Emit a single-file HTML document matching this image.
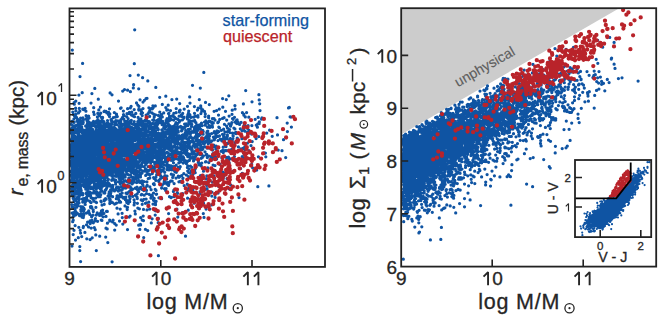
<!DOCTYPE html>
<html><head><meta charset="utf-8"><style>
html,body{margin:0;padding:0;background:#fff;width:665px;height:323px;overflow:hidden}
svg{position:absolute;left:0;top:0}
text{font-family:'Liberation Sans',sans-serif;fill:#262626;stroke:#262626;stroke-width:0.3px}
</style></head><body>
<svg width="665" height="323" viewBox="0 0 665 323">
<!-- right panel gray unphysical -->
<polygon points="401.2,8.2 401.2,134.4 619.2,8.2" fill="#cccccc"/>
<text x="0" y="0" transform="translate(458.1,87.2) rotate(-29.7)" style="font-size:14.1px;fill:#5e5e5e;stroke:#5e5e5e;stroke-width:0.15px">unphysical</text>
<!-- points -->
<g fill="none" stroke-linecap="round">
<path stroke="#0f54a3" stroke-width="3.25" d="M127.6 155.1h0M150.4 159.5h0M154.5 134.2h0M117.2 136.0h0M132.9 146.7h0M94.0 186.0h0M110.4 173.6h0M156.4 143.8h0M118.9 136.7h0M102.6 133.2h0M92.9 215.2h0M135.2 174.1h0M135.6 154.2h0M160.3 134.8h0M141.6 151.1h0M182.1 145.9h0M107.9 137.3h0M134.7 29.8h0M140.8 140.8h0M136.1 160.0h0M123.7 139.9h0M115.5 190.1h0M114.1 139.6h0M132.9 161.3h0M90.2 153.5h0M115.2 168.9h0M72.0 157.4h0M123.2 150.4h0M84.4 166.2h0M173.9 131.5h0M121.6 150.3h0M141.7 139.6h0M76.5 149.6h0M112.4 174.4h0M158.1 160.7h0M250.2 131.5h0M158.3 129.6h0M81.3 176.8h0M143.7 133.3h0M83.7 150.1h0M93.2 173.0h0M112.6 221.9h0M178.3 176.1h0M135.5 170.1h0M198.1 108.1h0M98.9 154.6h0M150.2 156.6h0M75.1 168.5h0M114.9 161.6h0M111.9 157.2h0M156.6 194.0h0M80.7 139.8h0M121.6 144.8h0M80.9 144.3h0M124.5 124.2h0M77.5 153.4h0M78.8 129.6h0M180.6 147.6h0M113.3 144.9h0M126.0 132.5h0M97.4 150.0h0M108.1 123.1h0M143.0 108.6h0M124.1 154.8h0M154.8 148.2h0M72.2 170.2h0M87.8 136.5h0M94.2 187.4h0M89.5 140.6h0M108.3 132.1h0M101.4 141.0h0M178.0 153.4h0M78.3 149.7h0M112.8 142.4h0M98.2 181.8h0M153.7 146.1h0M111.4 201.9h0M123.6 128.5h0M154.1 166.8h0M163.4 144.7h0M78.4 201.7h0M123.9 161.4h0M144.2 195.2h0M102.6 210.1h0M101.7 174.4h0M86.5 198.2h0M82.7 155.0h0M112.7 185.3h0M114.2 131.6h0M160.1 117.2h0M81.6 171.0h0M100.6 153.6h0M113.9 156.0h0M81.8 158.1h0M162.3 116.9h0M243.9 115.2h0M126.0 146.1h0M98.0 119.6h0M87.1 144.5h0M86.4 140.4h0M154.8 130.4h0M143.0 149.1h0M111.2 155.0h0M186.5 132.8h0M107.8 242.6h0M111.0 154.5h0M88.3 184.7h0M110.9 159.5h0M112.4 152.0h0M89.9 179.4h0M123.3 160.2h0M147.7 154.2h0M134.1 149.2h0M109.7 148.3h0M101.1 182.6h0M250.9 165.4h0M167.0 157.0h0M160.1 174.3h0M95.3 142.0h0M71.8 121.3h0M146.1 155.4h0M74.8 131.6h0M87.1 161.9h0M120.8 166.6h0M78.5 176.8h0M85.4 130.0h0M220.2 139.2h0M141.9 147.4h0M259.2 99.9h0M94.1 158.1h0M140.1 152.9h0M112.4 153.4h0M85.0 186.1h0M73.4 128.8h0M251.6 134.0h0M169.6 116.9h0M134.8 124.5h0M183.6 158.3h0M72.8 145.3h0M181.9 148.0h0M123.4 175.7h0M140.4 224.4h0M111.8 176.0h0M159.6 140.6h0M133.2 172.8h0M85.5 151.2h0M149.7 110.8h0M83.3 166.4h0M123.4 134.3h0M129.0 147.8h0M214.2 132.0h0M143.7 136.7h0M113.8 153.2h0M124.7 141.9h0M111.4 146.7h0M148.1 113.6h0M100.7 182.2h0M155.5 210.8h0M157.5 226.9h0M92.3 168.3h0M202.3 149.6h0M90.5 149.5h0M162.6 142.0h0M106.6 134.8h0M142.2 115.5h0M126.4 135.5h0M76.3 149.5h0M86.1 150.2h0M79.4 150.0h0M149.5 127.0h0M94.9 143.9h0M119.7 141.5h0M151.9 112.9h0M110.7 136.1h0M128.2 127.8h0M172.4 133.7h0M135.8 179.2h0M102.3 122.2h0M112.2 150.9h0M124.8 166.8h0M90.5 145.9h0M257.8 186.7h0M129.3 147.3h0M122.2 165.4h0M84.5 184.0h0M91.1 187.2h0M136.1 195.9h0M87.2 134.6h0M219.7 119.4h0M83.0 129.9h0M112.8 132.5h0M119.5 123.3h0M103.2 168.9h0M74.0 184.9h0M258.2 117.4h0M106.1 176.3h0M135.9 137.1h0M83.0 166.2h0M111.7 179.8h0M155.4 167.3h0M95.0 150.2h0M86.4 146.7h0M139.4 140.6h0M234.5 117.3h0M107.2 154.7h0M83.3 164.2h0M120.0 143.3h0M76.1 143.5h0M158.1 133.2h0M102.9 167.8h0M158.8 151.0h0M226.6 126.1h0M171.7 154.7h0M121.9 164.6h0M131.7 131.1h0M205.9 141.4h0M86.4 162.2h0M82.2 176.5h0M173.9 141.7h0M82.5 174.6h0M171.7 129.6h0M146.0 128.9h0M138.8 137.0h0M85.9 150.2h0M128.5 150.6h0M92.2 144.9h0M216.2 146.2h0M183.3 141.8h0M72.3 50.0h0M207.8 131.1h0M93.6 112.1h0M75.4 200.0h0M79.9 159.4h0M81.1 147.3h0M177.3 124.6h0M104.3 157.0h0M85.0 148.8h0M105.4 133.2h0M74.4 167.8h0M102.1 143.8h0M105.6 159.6h0M111.6 174.4h0M122.1 135.8h0M73.8 140.6h0M211.8 196.1h0M188.4 140.6h0M223.2 147.2h0M196.8 139.8h0M92.0 146.2h0M98.0 165.9h0M163.7 152.4h0M195.4 132.3h0M117.8 196.0h0M74.2 161.7h0M114.6 170.7h0M133.0 178.5h0M84.9 142.5h0M130.7 161.4h0M73.3 152.4h0M77.6 133.5h0M138.6 156.7h0M193.5 117.1h0M161.3 152.0h0M78.6 144.6h0M73.9 192.2h0M124.5 154.8h0M98.3 179.1h0M218.5 115.1h0M230.5 151.0h0M138.7 133.8h0M72.3 137.4h0M137.9 145.2h0M86.4 130.9h0M73.2 149.1h0M181.2 182.0h0M170.5 110.6h0M101.1 173.1h0M136.1 144.0h0M179.1 138.9h0M123.7 138.8h0M154.7 201.0h0M141.1 155.9h0M146.0 126.1h0M125.2 145.3h0M83.5 157.1h0M167.7 161.1h0M99.5 152.6h0M99.3 153.6h0M145.6 124.1h0M105.5 159.9h0M228.5 157.2h0M77.3 155.8h0M97.4 135.4h0M139.9 155.8h0M120.7 139.6h0M235.1 109.0h0M173.3 168.5h0M107.1 140.3h0M82.7 171.6h0M154.0 146.6h0M139.4 158.3h0M117.5 161.3h0M103.1 216.8h0M73.0 129.9h0M88.5 151.9h0M126.0 151.3h0M180.0 120.7h0M87.6 222.1h0M88.5 226.9h0M176.5 147.9h0M129.0 128.3h0M104.8 193.0h0M124.3 133.2h0M76.8 161.7h0M85.3 171.9h0M134.5 116.7h0M195.7 154.7h0M82.2 139.4h0M79.7 171.4h0M214.2 132.7h0M224.1 117.7h0M135.3 146.7h0M100.6 140.2h0M72.7 221.7h0M212.0 140.8h0M86.2 160.1h0M167.0 163.4h0M132.8 135.1h0M224.1 150.9h0M110.6 155.9h0M71.1 144.8h0M76.2 141.9h0M185.1 160.7h0M169.0 133.9h0M114.0 127.9h0M110.1 161.8h0M109.6 148.2h0M143.5 209.4h0M108.4 149.3h0M182.4 135.1h0M96.4 188.8h0M87.8 151.1h0M74.4 139.2h0M167.0 176.1h0M129.7 201.7h0M99.9 156.3h0M71.8 204.6h0M89.2 170.6h0M77.3 180.5h0M132.0 180.6h0M76.4 152.7h0M81.1 168.3h0M115.3 139.4h0M110.6 144.2h0M80.5 153.8h0M127.8 123.8h0M149.4 146.0h0M127.5 127.0h0M96.6 180.7h0M125.9 132.3h0M183.9 118.0h0M97.7 149.4h0M90.2 161.0h0M123.9 140.9h0M193.9 141.8h0M94.1 182.8h0M92.6 158.9h0M134.4 202.5h0M118.8 188.3h0M75.0 158.7h0M190.3 128.9h0M78.6 157.5h0M110.2 147.9h0M90.0 150.3h0M71.0 155.2h0M94.1 153.1h0M85.4 138.1h0M188.1 144.7h0M104.3 167.2h0M162.0 151.9h0M120.8 149.1h0M77.6 164.5h0M218.0 140.5h0M107.2 148.2h0M136.3 152.2h0M96.2 129.7h0M189.6 122.7h0M93.3 141.3h0M138.0 139.1h0M108.6 112.3h0M251.2 132.1h0M75.3 172.1h0M215.1 197.4h0M137.4 203.3h0M101.1 144.3h0M109.5 149.4h0M109.5 116.6h0M81.6 207.2h0M201.8 137.9h0M104.6 153.8h0M152.7 148.9h0M122.1 137.6h0M93.2 188.9h0M152.3 173.6h0M79.3 158.6h0M163.0 140.3h0M112.6 188.2h0M91.8 180.8h0M148.1 158.6h0M175.7 156.2h0M163.3 177.2h0M92.9 177.9h0M95.6 160.0h0M107.7 131.2h0M135.6 131.3h0M83.5 135.4h0M167.4 158.3h0M101.8 168.0h0M86.7 162.8h0M156.5 139.3h0M77.0 164.3h0M161.8 129.8h0M132.6 139.2h0M99.3 186.6h0M111.3 119.5h0M88.8 137.7h0M107.3 148.9h0M153.0 204.1h0M99.7 187.5h0M184.0 136.3h0M200.9 113.6h0M120.1 144.5h0M91.6 144.4h0M160.7 176.2h0M82.7 206.8h0M101.5 131.4h0M139.9 154.1h0M115.3 143.3h0M181.5 130.9h0M111.8 170.6h0M95.3 163.5h0M112.7 121.9h0M170.9 144.6h0M167.0 152.4h0M171.7 137.0h0M119.0 162.3h0M82.4 150.2h0M176.8 135.3h0M127.1 145.3h0M116.9 152.6h0M222.5 134.3h0M173.1 156.7h0M158.5 150.7h0M191.4 149.3h0M167.9 121.0h0M212.5 145.4h0M79.4 139.3h0M87.8 119.5h0M113.0 138.4h0M116.7 161.5h0M107.2 171.9h0M152.5 134.4h0M151.3 222.9h0M100.5 135.3h0M151.3 108.7h0M132.3 142.5h0M200.0 128.7h0M117.3 154.4h0M92.9 143.4h0M149.2 160.8h0M191.6 124.7h0M138.7 171.5h0M169.1 125.6h0M236.4 123.0h0M110.1 153.2h0M72.2 167.2h0M127.4 168.5h0M109.2 160.5h0M140.5 138.3h0M86.7 158.4h0M77.0 162.6h0M169.9 127.6h0M125.4 174.5h0M74.0 181.7h0M135.7 131.7h0M116.2 170.2h0M72.8 164.1h0M79.4 125.7h0M131.1 141.0h0M100.9 201.2h0M124.8 156.1h0M99.9 172.7h0M149.8 178.1h0M79.1 183.2h0M181.8 156.5h0M109.0 140.6h0M73.7 129.3h0M126.3 168.8h0M99.6 123.0h0M92.0 156.3h0M169.3 165.5h0M81.6 166.7h0M134.7 164.2h0M72.4 146.8h0M181.6 175.6h0M163.4 177.2h0M97.7 167.0h0M173.0 129.6h0M77.1 179.3h0M71.8 128.3h0M127.5 207.3h0M95.3 192.4h0M242.2 173.4h0M153.4 183.9h0M223.9 176.0h0M124.5 162.0h0M160.2 140.8h0M115.1 170.1h0M133.4 132.0h0M112.4 165.4h0M180.2 153.4h0M211.1 156.7h0M85.9 156.6h0M112.2 176.0h0M121.6 186.8h0M238.4 146.9h0M71.3 180.9h0M265.4 153.0h0M107.2 228.9h0M107.3 148.8h0M141.5 111.5h0M99.7 171.4h0M79.5 176.0h0M118.8 171.5h0M193.2 173.7h0M104.5 162.4h0M132.5 189.3h0M160.7 158.0h0M192.7 177.4h0M94.4 124.0h0M172.0 133.4h0M189.4 160.4h0M117.6 150.4h0M243.7 129.9h0M75.6 108.2h0M107.9 122.9h0M182.0 145.0h0M98.5 161.0h0M222.7 162.4h0M122.2 147.9h0M101.4 186.0h0M119.3 176.2h0M106.7 145.0h0M89.2 152.0h0M235.8 141.5h0M111.8 159.2h0M114.9 165.7h0M73.4 154.4h0M73.7 168.9h0M145.1 162.5h0M214.0 118.5h0M124.8 143.1h0M86.6 154.5h0M178.5 167.3h0M103.9 192.9h0M75.5 178.1h0M106.6 142.5h0M82.9 117.9h0M122.0 149.1h0M97.5 141.9h0M95.9 172.2h0M106.4 143.6h0M119.4 156.1h0M110.6 193.8h0M100.2 188.7h0M200.0 193.5h0M80.3 168.1h0M156.3 134.1h0M97.1 175.1h0M79.6 161.2h0M99.5 166.1h0M76.4 144.4h0M154.9 146.2h0M79.6 215.7h0M168.2 105.2h0M112.5 128.7h0M170.6 167.8h0M132.9 137.4h0M159.8 161.3h0M156.4 154.2h0M97.3 162.5h0M75.5 161.6h0M107.1 155.8h0M158.3 119.6h0M207.3 157.5h0M146.5 190.4h0M77.1 162.6h0M97.8 152.6h0M240.6 168.6h0M125.8 130.9h0M72.8 195.0h0M126.5 154.4h0M100.8 121.4h0M77.9 142.1h0M247.7 132.3h0M127.6 163.0h0M87.3 161.0h0M84.0 166.0h0M72.9 163.0h0M107.7 164.4h0M79.4 153.9h0M133.1 135.2h0M154.3 126.5h0M92.4 129.2h0M161.7 146.5h0M233.2 135.9h0M158.5 165.8h0M110.4 144.7h0M86.6 116.8h0M148.5 143.3h0M106.7 174.0h0M147.0 135.7h0M126.5 148.1h0M107.6 150.6h0M135.7 148.4h0M108.0 196.0h0M90.5 175.0h0M95.0 162.1h0M150.7 163.1h0M80.0 166.5h0M143.3 127.1h0M79.9 130.7h0M80.6 151.2h0M128.5 140.6h0M223.1 172.2h0M109.7 220.1h0M164.4 178.2h0M74.7 151.9h0M100.9 191.3h0M91.6 177.1h0M85.3 169.6h0M94.1 167.8h0M234.4 156.5h0M137.0 187.1h0M132.7 196.4h0M125.0 205.9h0M163.1 136.4h0M73.3 162.3h0M120.3 153.7h0M149.5 147.6h0M76.2 147.4h0M162.2 162.3h0M105.4 150.1h0M104.0 142.4h0M141.1 145.8h0M206.4 182.5h0M153.6 177.6h0M83.7 163.4h0M122.9 172.8h0M77.4 179.9h0M207.0 135.1h0M90.6 207.6h0M114.6 204.0h0M107.6 140.9h0M75.5 161.9h0M108.0 145.9h0M122.7 143.7h0M121.6 173.9h0M101.2 215.1h0M97.5 138.1h0M160.9 147.3h0M193.5 160.9h0M117.6 144.1h0M112.5 167.2h0M155.6 132.4h0M118.1 213.9h0M85.7 137.0h0M173.4 191.5h0M122.2 149.2h0M166.8 165.9h0M95.8 139.1h0M89.1 154.0h0M101.4 210.9h0M160.2 121.1h0M130.3 190.7h0M171.2 149.2h0M95.0 132.2h0M89.1 181.3h0M90.8 164.4h0M154.7 167.0h0M81.1 148.1h0M115.4 182.0h0M147.0 98.3h0M75.1 176.8h0M178.1 130.9h0M137.8 140.3h0M206.9 141.1h0M85.5 166.9h0M129.5 151.7h0M77.8 159.5h0M86.6 184.2h0M78.1 182.9h0M138.8 152.1h0M154.5 127.9h0M86.2 131.3h0M89.3 170.9h0M92.5 158.3h0M188.2 190.1h0M197.5 136.8h0M185.4 142.3h0M180.9 154.0h0M94.2 177.7h0M118.7 152.0h0M152.5 139.9h0M133.1 171.0h0M105.5 123.9h0M121.4 140.3h0M117.3 149.7h0M206.7 185.4h0M120.5 167.5h0M71.4 164.1h0M163.4 132.9h0M160.7 165.5h0M131.5 141.1h0M104.0 155.8h0M90.7 146.3h0M99.2 171.4h0M73.2 137.8h0M194.8 131.0h0M132.6 139.4h0M79.8 246.5h0M79.0 145.7h0M129.0 137.7h0M107.1 161.9h0M121.4 190.0h0M97.8 113.4h0M88.1 154.5h0M207.8 142.5h0M95.7 145.9h0M156.0 137.8h0M116.7 153.3h0M172.4 115.8h0M103.2 177.0h0M289.3 107.4h0M80.9 189.3h0M137.8 121.5h0M142.3 157.0h0M126.5 174.2h0M232.7 153.4h0M160.7 138.1h0M168.8 148.2h0M113.5 150.9h0M75.3 145.4h0M82.0 155.2h0M140.7 170.1h0M89.5 172.1h0M134.3 152.2h0M113.7 131.0h0M82.7 156.4h0M74.0 215.9h0M144.9 127.4h0M84.9 232.4h0M223.3 152.5h0M108.4 184.1h0M96.9 163.1h0M79.2 145.8h0M92.2 134.0h0M150.2 123.3h0M158.4 115.4h0M105.0 180.6h0M128.2 174.5h0M131.7 132.3h0M89.7 147.6h0M93.2 209.8h0M132.2 145.0h0M73.5 142.8h0M92.8 166.4h0M117.7 130.6h0M112.0 135.7h0M122.2 138.7h0M95.9 202.0h0M85.9 111.2h0M141.9 159.7h0M87.7 151.6h0M89.6 186.0h0M244.9 125.5h0M154.5 146.7h0M91.7 148.4h0M173.9 128.4h0M112.1 261.8h0M86.1 115.7h0M210.5 126.0h0M91.1 123.8h0M122.7 124.5h0M138.7 191.7h0M193.7 159.6h0M142.0 124.9h0M159.5 154.8h0M110.3 168.6h0M104.9 166.5h0M119.9 155.5h0M72.5 149.8h0M137.6 138.1h0M95.9 164.1h0M107.9 148.1h0M97.9 133.7h0M86.3 146.9h0M95.2 144.2h0M78.1 154.0h0M78.8 147.7h0M88.4 131.5h0M123.4 130.9h0M142.2 204.3h0M85.4 135.6h0M147.8 174.2h0M116.2 163.5h0M110.9 163.5h0M86.2 151.3h0M178.1 138.8h0M196.1 139.8h0M75.0 157.1h0M244.6 126.5h0M167.8 133.7h0M127.3 153.8h0M132.6 157.1h0M78.7 163.7h0M92.6 136.2h0M129.3 136.0h0M131.0 182.8h0M130.0 149.9h0M140.8 110.0h0M165.7 153.1h0M138.1 152.1h0M172.0 116.2h0M82.6 177.6h0M96.9 143.9h0M135.3 213.9h0M122.7 91.1h0M108.9 129.1h0M212.6 182.2h0M137.0 128.7h0M129.5 153.3h0M146.8 154.5h0M74.9 143.6h0M101.1 161.0h0M168.6 131.3h0M74.4 172.8h0M209.3 148.1h0M108.9 160.8h0M151.6 152.5h0M101.1 172.5h0M147.4 162.5h0M154.2 140.0h0M87.6 128.9h0M93.7 146.0h0M80.6 233.0h0M176.1 132.4h0M256.3 125.2h0M161.4 114.7h0M170.6 165.9h0M104.1 148.9h0M125.3 169.8h0M98.0 137.0h0M225.5 111.3h0M179.3 122.0h0M187.2 135.2h0M138.7 109.4h0M85.7 151.0h0M93.1 146.9h0M74.1 127.4h0M90.4 148.8h0M226.6 137.0h0M89.4 150.4h0M232.7 171.4h0M120.4 164.9h0M257.9 123.8h0M78.9 198.4h0M76.6 182.3h0M158.7 150.5h0M75.9 110.9h0M140.5 129.8h0M124.5 89.6h0M222.4 139.1h0M161.4 151.6h0M181.0 138.7h0M143.1 144.5h0M118.0 166.3h0M116.4 151.1h0M78.4 134.4h0M89.0 193.1h0M77.4 202.5h0M164.9 153.5h0M165.8 107.5h0M149.1 143.6h0M85.1 140.7h0M158.2 169.9h0M75.9 149.8h0M134.9 157.4h0M131.1 187.9h0M73.5 150.9h0M120.8 174.1h0M119.3 167.5h0M186.3 163.5h0M110.7 137.1h0M120.8 136.2h0M111.3 152.7h0M90.9 138.7h0M104.2 199.8h0M232.9 138.6h0M112.1 139.1h0M139.6 146.4h0M118.8 173.7h0M152.1 218.8h0M171.4 119.5h0M130.3 187.0h0M90.5 165.9h0M127.4 141.6h0M130.2 161.2h0M196.8 125.2h0M221.8 140.8h0M111.9 174.1h0M121.3 157.8h0M218.8 127.0h0M85.9 146.2h0M111.4 170.6h0M126.8 202.5h0M74.2 168.7h0M95.9 145.6h0M75.8 174.0h0M117.0 149.0h0M79.9 163.8h0M131.4 149.7h0M90.6 162.6h0M141.9 141.4h0M131.3 167.3h0M127.4 159.2h0M143.3 123.0h0M160.6 146.9h0M127.2 138.5h0M196.5 134.7h0M148.0 143.7h0M82.2 168.2h0M105.7 172.8h0M80.8 137.5h0M121.3 182.4h0M108.9 151.8h0M121.5 135.6h0M109.9 139.9h0M187.7 156.5h0M104.4 157.5h0M99.6 215.4h0M89.7 214.3h0M127.5 229.5h0M86.8 157.6h0M77.6 201.8h0M176.0 135.2h0M189.7 96.9h0M117.0 208.2h0M103.1 144.6h0M127.8 141.0h0M111.0 119.7h0M206.1 154.9h0M148.0 137.6h0M99.0 136.7h0M132.4 150.9h0M86.9 185.3h0M88.8 143.4h0M88.9 155.2h0M130.7 122.8h0M80.6 152.6h0M85.1 179.5h0M77.5 119.1h0M121.8 144.5h0M198.1 148.5h0M105.0 140.4h0M206.7 138.1h0M103.1 127.9h0M241.1 122.4h0M221.4 130.3h0M168.5 113.6h0M140.6 187.4h0M103.8 131.5h0M110.5 127.0h0M214.8 132.2h0M86.8 170.2h0M96.7 133.8h0M103.9 144.5h0M78.9 146.3h0M102.9 154.6h0M142.6 77.7h0M165.0 144.5h0M96.6 129.3h0M224.4 124.3h0M159.7 155.5h0M151.1 189.7h0M157.0 166.3h0M125.8 121.9h0M127.0 159.8h0M75.2 183.7h0M232.5 118.6h0M85.6 156.3h0M74.8 176.8h0M115.4 143.8h0M85.8 147.4h0M86.6 143.9h0M288.5 107.9h0M90.6 179.9h0M131.0 165.8h0M129.6 186.9h0M156.3 194.3h0M101.7 191.0h0M91.0 146.4h0M192.2 151.7h0M129.4 152.6h0M243.8 126.0h0M142.3 135.6h0M178.2 159.3h0M132.9 158.9h0M92.2 165.8h0M118.1 197.5h0M102.3 164.5h0M74.7 204.9h0M126.4 160.6h0M105.5 189.8h0M264.6 143.4h0M77.9 143.1h0M175.1 142.0h0M109.2 150.0h0M104.5 158.0h0M77.7 144.9h0M140.1 168.5h0M111.2 148.7h0M96.9 158.7h0M156.4 125.8h0M97.9 145.1h0M138.9 127.9h0M139.7 182.3h0M96.1 150.8h0M160.6 144.0h0M87.6 162.2h0M125.1 152.0h0M117.2 148.9h0M107.1 134.8h0M145.1 124.7h0M93.9 159.7h0M80.7 186.3h0M73.5 212.6h0M174.3 151.0h0M123.5 114.7h0M74.0 172.6h0M148.8 139.0h0M140.0 124.8h0M147.4 155.0h0M77.7 190.5h0M79.6 144.8h0M124.7 163.4h0M232.2 110.2h0M144.3 166.7h0M75.7 166.7h0M121.7 137.9h0M131.7 127.4h0M89.5 177.3h0M140.9 144.5h0M147.0 172.4h0M76.0 213.9h0M195.9 122.7h0M183.2 147.6h0M136.9 147.2h0M146.5 193.6h0M98.9 135.1h0M155.3 166.3h0M81.3 214.9h0M92.0 220.0h0M106.9 140.5h0M96.8 152.6h0M83.8 208.2h0M117.7 146.1h0M112.5 129.4h0M82.9 166.0h0M149.9 186.9h0M215.0 165.6h0M83.8 167.5h0M116.4 158.4h0M96.6 168.3h0M112.0 94.8h0M76.7 182.5h0M291.4 127.0h0M77.6 202.1h0M132.5 129.5h0M170.9 126.9h0M84.5 141.4h0M119.7 135.6h0M163.4 151.2h0M109.1 157.1h0M90.4 159.5h0M106.1 199.2h0M166.3 176.7h0M128.7 169.9h0M84.9 170.3h0M96.2 215.1h0M102.4 153.8h0M188.6 153.8h0M85.7 160.8h0M75.0 183.7h0M78.1 202.0h0M106.1 130.0h0M119.6 161.8h0M151.2 146.9h0M73.6 130.2h0M239.0 197.5h0M79.6 193.8h0M160.5 155.3h0M83.2 227.6h0M77.6 145.0h0M195.4 144.8h0M110.0 154.3h0M154.8 162.4h0M132.9 172.6h0M86.5 156.4h0M116.7 115.8h0M165.0 145.3h0M147.4 161.1h0M127.5 165.2h0M123.2 130.6h0M192.8 154.0h0M104.1 122.8h0M103.8 162.4h0M74.6 130.3h0M96.9 146.2h0M212.5 150.1h0M175.7 128.2h0M188.8 122.0h0M165.5 145.4h0M157.8 156.2h0M139.8 168.9h0M76.2 131.3h0M113.2 171.9h0M205.5 161.9h0M195.4 168.4h0M104.4 149.6h0M141.6 125.5h0M76.3 184.3h0M200.1 142.0h0M81.6 128.0h0M102.4 177.7h0M97.9 140.0h0M72.3 168.1h0M85.4 134.0h0M79.5 152.4h0M173.5 174.8h0M208.3 143.7h0M175.8 156.6h0M139.0 132.6h0M72.1 160.6h0M191.8 167.3h0M212.5 127.0h0M87.7 188.5h0M83.0 119.5h0M119.1 136.8h0M73.9 146.3h0M164.5 154.2h0M134.1 179.1h0M170.5 154.0h0M95.9 207.3h0M141.2 194.8h0M186.2 146.8h0M136.4 173.6h0M177.9 144.1h0M153.7 120.4h0M80.8 163.3h0M95.6 150.1h0M72.5 132.4h0M211.7 204.9h0M193.5 138.0h0M83.8 133.1h0M83.2 122.4h0M73.9 175.3h0M181.9 153.2h0M113.7 138.4h0M90.9 188.6h0M119.4 164.4h0M98.5 177.9h0M162.5 162.6h0M87.3 138.6h0M121.3 168.3h0M71.4 161.4h0M127.5 152.4h0M93.9 164.7h0M77.4 164.5h0M130.8 164.2h0M168.3 165.3h0M128.5 146.6h0M140.2 143.3h0M79.7 156.7h0M178.6 143.2h0M120.0 137.2h0M78.0 151.7h0M108.9 163.7h0M115.4 137.0h0M150.1 154.8h0M98.9 127.2h0M94.3 132.1h0M144.8 120.6h0M127.5 144.9h0M72.3 172.0h0M186.5 152.0h0M143.7 237.6h0M155.5 125.4h0M179.7 103.6h0M80.2 148.0h0M75.6 173.1h0M109.6 148.4h0M94.1 180.1h0M78.6 190.9h0M131.7 137.0h0M111.8 140.8h0M99.4 137.3h0M230.7 185.0h0M73.4 132.0h0M119.3 160.5h0M206.8 132.7h0M74.3 104.2h0M111.4 136.3h0M82.3 152.4h0M131.3 167.9h0M155.4 155.4h0M122.2 125.8h0M90.1 164.5h0M102.0 120.0h0M131.4 159.4h0M113.2 164.8h0M117.4 146.5h0M104.5 141.5h0M105.6 177.8h0M90.1 188.2h0M152.9 130.8h0M181.0 126.5h0M81.9 136.5h0M105.2 156.6h0M89.6 201.1h0M100.7 194.7h0M228.8 95.8h0M99.5 186.2h0M116.1 167.4h0M83.5 154.0h0M143.2 135.2h0M77.1 168.4h0M100.5 161.3h0M291.0 117.1h0M84.4 185.1h0M89.8 187.9h0M104.7 137.9h0M112.4 173.2h0M171.7 155.9h0M256.1 138.6h0M127.7 144.4h0M183.2 134.8h0M206.8 175.8h0M85.7 143.3h0M137.9 124.1h0M124.1 187.8h0M133.8 134.8h0M102.3 172.6h0M135.9 155.5h0M117.1 173.7h0M84.8 165.9h0M104.3 163.8h0M112.6 171.9h0M97.3 165.9h0M103.3 184.4h0M102.7 186.1h0M71.6 149.9h0M135.3 138.6h0M138.6 132.3h0M144.7 148.3h0M103.9 185.6h0M133.6 161.7h0M182.7 193.7h0M75.6 145.8h0M158.8 133.4h0M185.5 236.2h0M89.3 131.4h0M78.3 153.4h0M156.8 172.2h0M188.7 111.1h0M138.4 139.0h0M144.9 170.4h0M81.0 123.9h0M87.4 173.4h0M86.8 182.1h0M169.5 134.7h0M162.7 121.4h0M94.3 140.8h0M71.2 165.5h0M164.7 123.5h0M72.1 169.8h0M73.7 188.0h0M219.9 164.4h0M92.5 130.3h0M205.3 125.2h0M197.4 110.1h0M163.8 127.7h0M110.6 173.1h0M136.7 138.5h0M74.4 199.2h0M131.8 134.3h0M93.7 176.5h0M101.4 167.4h0M199.9 148.5h0M72.6 148.9h0M94.1 192.9h0M128.2 153.5h0M113.7 144.3h0M126.8 116.7h0M73.7 176.7h0M139.0 142.6h0M98.2 184.2h0M120.5 156.8h0M81.5 137.8h0M117.5 121.2h0M176.2 138.4h0M74.5 171.4h0M74.0 196.2h0M167.0 131.4h0M78.0 136.3h0M82.7 202.0h0M73.0 216.9h0M94.6 150.2h0M117.7 121.2h0M96.4 140.2h0M103.6 163.6h0M108.7 156.8h0M109.7 134.2h0M124.4 136.2h0M156.3 152.1h0M90.9 162.4h0M86.8 157.6h0M164.3 137.4h0M72.3 134.3h0M252.6 167.8h0M84.0 163.0h0M108.5 157.9h0M116.5 141.2h0M136.6 166.9h0M73.8 141.2h0M101.1 141.9h0M92.3 151.5h0M116.4 156.1h0M72.5 143.6h0M73.6 144.6h0M115.4 138.8h0M78.0 205.7h0M128.7 202.0h0M148.2 178.5h0M199.3 144.3h0M95.0 146.9h0M122.3 133.1h0M72.5 148.0h0M120.5 135.9h0M87.1 141.3h0M73.6 144.6h0M203.6 203.3h0M174.7 155.3h0M212.2 149.5h0M164.2 181.2h0M72.1 141.0h0M151.5 128.5h0M134.2 109.5h0M145.4 124.1h0M77.7 154.8h0M91.6 169.9h0M87.7 150.3h0M77.7 144.2h0M115.8 174.4h0M174.6 155.8h0M185.3 134.6h0M132.9 131.6h0M129.4 121.5h0M202.9 175.3h0M91.5 172.4h0M88.3 157.9h0M78.3 140.2h0M123.7 133.6h0M94.0 161.4h0M93.7 107.7h0M161.2 161.6h0M90.7 222.0h0M74.3 159.2h0M112.5 202.5h0M97.4 159.6h0M148.6 174.3h0M135.7 155.6h0M81.8 153.1h0M153.1 107.7h0M82.6 138.9h0M95.1 185.4h0M237.2 138.2h0M139.0 165.3h0M75.8 168.1h0M106.5 144.6h0M168.1 152.9h0M203.1 176.9h0M174.9 144.3h0M112.0 149.2h0M192.2 131.5h0M75.8 188.0h0M133.8 144.4h0M189.9 146.8h0M138.9 106.4h0M110.0 184.9h0M145.3 144.7h0M100.9 126.3h0M88.3 147.5h0M239.6 124.4h0M198.1 134.8h0M100.5 176.4h0M74.1 201.1h0M180.7 143.7h0M140.3 142.6h0M75.8 114.3h0M122.0 133.7h0M97.4 144.5h0M155.9 177.3h0M121.3 133.3h0M89.1 150.1h0M89.5 155.6h0M182.7 113.4h0M71.6 185.6h0M183.6 147.6h0M134.0 163.5h0M95.4 140.0h0M183.9 160.0h0M95.2 146.2h0M107.1 136.9h0M90.6 160.0h0M251.7 164.3h0M194.7 144.8h0M130.7 167.2h0M146.6 150.9h0M76.0 141.9h0M72.5 162.1h0M94.5 140.0h0M99.2 193.0h0M79.0 129.3h0M154.7 123.7h0M109.5 147.6h0M170.5 136.6h0M116.1 146.3h0M121.8 170.4h0M81.3 167.4h0M80.6 165.4h0M138.8 167.4h0M243.7 114.1h0M142.0 149.6h0M169.0 169.9h0M92.2 237.8h0M173.2 175.7h0M80.4 187.8h0M89.6 153.3h0M151.7 160.5h0M97.4 150.8h0M129.1 146.3h0M113.5 145.7h0M103.9 140.3h0M103.8 182.3h0M175.3 154.1h0M80.1 164.0h0M202.2 125.5h0M84.5 131.9h0M75.7 158.6h0M168.9 141.0h0M120.0 157.4h0M133.3 151.9h0M110.5 140.2h0M169.0 149.3h0M157.9 128.6h0M73.5 214.6h0M121.3 172.7h0M89.0 159.0h0M155.2 189.3h0M101.5 149.4h0M149.6 116.4h0M90.2 129.4h0M100.2 196.7h0M89.7 162.7h0M77.0 149.8h0M75.5 156.5h0M200.4 154.7h0M142.6 151.0h0M203.3 213.5h0M77.8 184.7h0M98.9 173.4h0M219.3 109.1h0M134.2 136.9h0M145.8 164.3h0M168.6 213.5h0M159.3 141.2h0M115.5 145.7h0M148.3 152.9h0M143.4 151.1h0M96.6 193.8h0M177.7 137.1h0M136.6 124.2h0M157.7 159.7h0M144.1 135.3h0M97.8 159.6h0M229.1 116.0h0M101.9 174.5h0M83.5 154.3h0M72.8 169.9h0M141.0 153.6h0M73.9 199.5h0M217.8 122.7h0M137.3 163.6h0M115.6 203.6h0M85.3 146.8h0M115.8 146.7h0M118.3 156.4h0M79.8 123.2h0M152.2 108.4h0M139.9 141.3h0M153.9 135.4h0M111.2 152.0h0M100.5 179.6h0M232.4 133.0h0M172.7 177.4h0M180.2 166.7h0M179.7 157.4h0M245.2 138.6h0M140.8 129.3h0M127.3 151.6h0M102.9 140.0h0M247.0 128.1h0M120.3 147.0h0M107.3 150.6h0M71.8 139.0h0M78.5 150.0h0M131.8 112.0h0M109.9 165.1h0M92.9 148.2h0M104.4 142.0h0M167.6 182.5h0M107.0 133.9h0M144.1 166.7h0M170.0 147.4h0M104.5 144.2h0M145.6 145.2h0M74.8 148.8h0M192.5 85.3h0M74.4 164.9h0M209.1 139.8h0M121.5 153.7h0M77.8 147.9h0M109.8 171.0h0M109.5 163.0h0M78.5 170.0h0M129.0 145.3h0M170.3 158.0h0M105.3 157.7h0M157.2 138.8h0M98.4 169.2h0M89.1 150.5h0M79.1 148.6h0M92.9 160.0h0M218.5 121.8h0M204.5 111.4h0M185.2 133.0h0M162.2 185.2h0M189.3 157.0h0M237.1 119.9h0M168.2 125.5h0M144.2 144.1h0M101.1 175.2h0M180.0 159.4h0M167.8 153.0h0M158.4 136.2h0M82.4 135.4h0M202.8 148.9h0M175.9 132.8h0M164.5 142.8h0M132.8 183.1h0M144.0 126.6h0M231.2 124.5h0M73.2 198.4h0M164.4 155.6h0M86.4 159.8h0M85.2 168.2h0M121.3 158.1h0M83.8 158.5h0M157.9 171.4h0M100.2 143.0h0M106.8 144.3h0M179.4 137.2h0M216.6 159.0h0M170.4 146.1h0M91.0 130.4h0M119.2 154.8h0M168.5 138.7h0M98.8 109.9h0M143.5 220.6h0M110.3 165.7h0M103.1 131.1h0M287.4 131.5h0M86.7 150.6h0M112.1 131.6h0M78.1 153.4h0M129.8 138.5h0M100.1 161.4h0M89.9 140.4h0M260.0 110.6h0M242.6 148.6h0M197.2 154.5h0M124.8 149.1h0M104.2 135.9h0M93.3 163.5h0M71.3 149.1h0M102.9 166.0h0M79.3 152.3h0M92.1 154.9h0M120.9 123.6h0M102.0 142.3h0M106.5 160.1h0M103.9 213.4h0M124.2 159.3h0M101.5 143.5h0M94.2 150.9h0M126.4 156.2h0M86.2 131.1h0M97.1 148.1h0M93.1 147.9h0M118.3 191.0h0M93.0 153.5h0M78.3 140.2h0M141.5 166.6h0M196.9 135.7h0M133.6 84.7h0M138.5 136.1h0M96.3 169.9h0M187.2 161.2h0M197.4 181.5h0M116.9 133.4h0M132.2 134.7h0M182.8 158.5h0M104.4 134.4h0M90.8 169.4h0M103.0 144.0h0M170.6 169.3h0M102.1 164.4h0M203.3 156.1h0M83.3 148.5h0M161.3 154.1h0M86.6 199.2h0M96.4 188.0h0M74.3 165.2h0M201.5 179.8h0M181.6 127.1h0M164.7 140.3h0M189.8 143.2h0M177.3 192.6h0M121.1 164.1h0M203.5 182.9h0M81.3 159.2h0M79.2 171.2h0M121.0 129.9h0M105.7 237.1h0M187.6 153.7h0M178.3 152.0h0M114.9 145.7h0M94.3 138.9h0M94.9 155.4h0M213.2 122.9h0M78.9 193.9h0M181.9 128.8h0M111.3 128.5h0M195.1 147.3h0M135.1 188.2h0M109.6 168.4h0M127.5 161.1h0M73.2 220.2h0M115.2 155.1h0M113.5 189.7h0M92.2 146.6h0M174.6 166.7h0M132.7 139.6h0M200.1 126.0h0M83.5 149.6h0M84.5 176.1h0M139.4 208.8h0M161.6 198.7h0M151.9 143.8h0M86.7 160.8h0M154.1 157.5h0M75.7 141.6h0M96.3 126.8h0M205.9 161.5h0M114.7 134.2h0M86.6 143.5h0M125.8 126.0h0M86.7 154.8h0M77.9 156.5h0M81.8 131.5h0M137.0 166.6h0M105.2 190.3h0M111.1 145.7h0M229.9 132.5h0M72.2 207.1h0M137.8 132.4h0M137.8 105.0h0M100.7 212.9h0M81.5 162.3h0M83.4 145.5h0M87.5 161.6h0M205.5 102.4h0M78.3 237.7h0M115.6 123.4h0M87.5 162.4h0M147.1 140.6h0M79.3 108.4h0M110.1 161.0h0M85.4 150.5h0M105.3 126.3h0M102.4 151.5h0M200.2 183.8h0M210.9 141.9h0M148.8 202.2h0M170.9 181.1h0M83.1 147.6h0M146.5 134.4h0M214.0 138.0h0M133.2 149.3h0M166.1 188.6h0M82.1 217.2h0M115.6 164.0h0M78.1 123.9h0M122.7 144.1h0M126.7 139.3h0M82.7 152.5h0M141.0 159.5h0M107.2 153.9h0M78.0 132.6h0M190.1 141.7h0M101.9 220.4h0M148.0 123.3h0M198.0 125.0h0M86.8 129.5h0M142.6 146.5h0M92.2 160.7h0M119.1 132.2h0M110.6 189.8h0M102.9 161.8h0M158.6 142.4h0M87.3 200.2h0M120.9 181.2h0M98.2 137.8h0M107.7 168.3h0M188.1 140.3h0M146.6 145.5h0M179.0 156.5h0M97.7 145.6h0M148.6 144.6h0M114.9 125.0h0M200.4 149.6h0M98.2 144.2h0M192.2 138.1h0M149.4 151.4h0M133.3 147.8h0M126.2 145.6h0M86.1 156.6h0M98.3 99.2h0M86.0 119.0h0M130.5 163.6h0M109.5 129.9h0M170.2 147.7h0M97.7 183.5h0M126.4 149.6h0M138.8 148.2h0M111.1 150.5h0M82.4 167.5h0M165.3 145.1h0M148.2 139.3h0M85.8 172.4h0M181.7 116.4h0M90.3 148.0h0M99.6 147.6h0M108.0 156.2h0M177.2 139.5h0M139.7 132.8h0M123.3 125.2h0M110.0 174.1h0M74.4 158.3h0M81.9 173.9h0M82.8 109.1h0M83.1 181.8h0M229.2 140.6h0M240.3 128.8h0M139.9 141.3h0M189.7 114.6h0M138.1 138.1h0M108.5 160.0h0M86.4 141.5h0M79.2 160.3h0M94.7 143.0h0M131.9 151.1h0M127.6 134.9h0M91.4 148.7h0M88.5 143.4h0M171.3 145.7h0M213.3 157.1h0M137.5 132.4h0M164.5 188.7h0M99.4 171.4h0M154.1 152.1h0M76.2 147.2h0M86.0 130.4h0M111.4 137.5h0M147.8 159.9h0M85.0 164.5h0M104.8 131.2h0M127.5 132.9h0M79.7 145.7h0M92.0 181.4h0M89.0 173.8h0M164.5 148.7h0M145.8 163.4h0M97.0 123.4h0M277.5 134.9h0M82.2 199.0h0M119.3 141.0h0M134.1 199.8h0M103.7 138.2h0M76.1 125.6h0M122.2 193.0h0M83.8 171.6h0M208.4 140.8h0M169.6 146.8h0M151.8 136.8h0M143.4 154.3h0M168.7 133.7h0M198.1 153.9h0M154.0 183.6h0M140.8 134.8h0M75.7 155.8h0M108.7 165.3h0M73.8 142.8h0M71.8 145.1h0M79.5 164.7h0M81.4 140.9h0M152.8 142.9h0M132.3 147.2h0M140.6 144.1h0M116.4 137.7h0M83.6 160.0h0M155.8 140.6h0M130.3 107.9h0M152.9 153.6h0M84.4 144.7h0M111.1 161.7h0M86.9 148.0h0M141.1 113.7h0M138.8 174.7h0M108.9 171.7h0M120.7 153.3h0M257.4 127.2h0M161.6 139.4h0M78.4 139.7h0M120.8 142.9h0M80.4 145.3h0M200.5 175.6h0M123.6 149.7h0M77.5 203.5h0M175.4 127.9h0M122.5 163.2h0M144.9 141.0h0M154.7 163.7h0M120.2 194.0h0M90.4 145.5h0M83.1 167.8h0M75.0 168.1h0M95.5 145.2h0M85.8 140.6h0M152.3 140.1h0M111.6 132.5h0M144.2 156.2h0M78.6 188.5h0M97.6 125.4h0M91.3 156.8h0M135.5 134.7h0M152.7 157.1h0M81.1 148.5h0M87.2 156.7h0M185.1 142.7h0M106.2 169.4h0M197.3 133.9h0M79.6 135.5h0M88.7 139.2h0M130.3 149.0h0M128.6 147.9h0M77.7 154.9h0M192.8 189.8h0M89.9 161.8h0M100.2 124.6h0M80.7 164.9h0M114.5 168.4h0M82.1 180.9h0M78.8 133.5h0M76.1 137.1h0M74.9 200.5h0M110.6 139.1h0M131.1 190.3h0M98.0 167.0h0M142.6 149.5h0M136.9 167.8h0M256.7 170.0h0M91.2 145.3h0M82.1 152.0h0M80.6 261.6h0M195.6 128.3h0M122.1 131.3h0M85.6 126.1h0M164.1 126.3h0M227.0 178.6h0M71.0 162.3h0M173.9 116.5h0M83.7 215.6h0M99.0 158.6h0M134.3 63.7h0M106.5 126.5h0M164.1 155.4h0M130.4 134.4h0M185.8 131.6h0M215.7 156.7h0M90.7 127.5h0M114.5 156.9h0M77.2 203.8h0M81.8 153.1h0M207.0 188.6h0M193.7 171.2h0M74.6 129.9h0M77.0 165.0h0M101.6 144.3h0M74.6 181.2h0M80.2 230.3h0M72.8 159.8h0M78.1 162.5h0M74.2 189.6h0M153.1 139.7h0M129.8 181.6h0M128.9 139.2h0M97.6 125.1h0M95.5 192.1h0M84.5 159.1h0M102.6 125.7h0M208.8 162.5h0M82.7 150.5h0M96.5 187.7h0M74.4 151.4h0M198.9 164.8h0M197.0 133.9h0M83.2 133.3h0M81.6 162.0h0M154.4 134.8h0M107.7 165.2h0M124.3 139.2h0M139.7 160.7h0M74.5 150.2h0M89.4 177.2h0M81.4 151.7h0M172.7 126.7h0M109.5 108.8h0M127.6 90.2h0M89.3 177.4h0M83.4 142.9h0M206.8 179.0h0M107.3 123.0h0M105.6 170.8h0M95.4 149.8h0M282.0 150.7h0M118.5 129.5h0M156.1 201.3h0M116.1 132.6h0M135.3 162.9h0M72.4 166.8h0M120.7 130.4h0M71.9 159.7h0M209.1 138.8h0M132.3 156.5h0M88.6 169.8h0M71.6 153.3h0M127.4 181.9h0M79.9 158.5h0M130.1 168.8h0M190.9 117.4h0M145.7 142.9h0M79.5 136.3h0M74.2 169.3h0M100.3 165.6h0M95.7 176.5h0M135.7 149.3h0M78.1 188.3h0M168.8 142.6h0M114.0 153.5h0M99.7 142.4h0M184.2 159.9h0M140.5 176.9h0M115.8 172.2h0M168.7 184.4h0M116.5 151.3h0M102.4 132.7h0M162.9 151.5h0M151.0 146.4h0M88.8 156.2h0M217.0 130.8h0M101.2 220.1h0M125.1 128.5h0M86.5 174.4h0M126.4 144.3h0M89.7 192.0h0M244.9 149.8h0M158.3 218.4h0M98.0 121.0h0M73.3 132.6h0M77.7 138.5h0M118.5 158.7h0M94.7 149.8h0M104.8 191.5h0M87.9 190.5h0M74.8 155.3h0M88.9 195.7h0M157.3 160.1h0M71.9 152.6h0M172.6 140.1h0M100.5 154.0h0M102.6 126.3h0M182.4 212.5h0M111.2 163.9h0M180.6 126.3h0M111.0 151.6h0M132.0 161.8h0M89.1 118.0h0M129.8 155.6h0M150.7 168.9h0M136.0 127.5h0M92.1 176.3h0M125.9 162.1h0M101.1 169.3h0M106.2 150.1h0M203.6 147.1h0M81.1 176.2h0M76.9 191.4h0M123.3 162.4h0M101.0 164.9h0M96.0 173.5h0M74.6 157.5h0M120.3 143.8h0M92.8 170.0h0M130.7 158.9h0M223.1 178.9h0M131.7 169.7h0M130.2 138.3h0M129.2 191.6h0M156.7 139.8h0M184.0 152.2h0M131.1 145.0h0M91.4 138.8h0M84.4 166.6h0M91.6 158.8h0M207.8 123.0h0M115.6 182.4h0M108.0 166.7h0M84.0 181.0h0M131.1 147.9h0M109.8 203.5h0M109.9 139.3h0M134.5 125.0h0M135.8 134.1h0M159.8 134.3h0M112.8 146.5h0M125.8 188.1h0M81.2 160.4h0M176.3 172.3h0M89.3 168.1h0M138.3 122.8h0M79.7 140.9h0M73.4 213.5h0M97.2 174.8h0M76.4 157.2h0M105.9 168.7h0M119.2 202.2h0M102.7 134.4h0M121.0 155.0h0M176.0 178.1h0M121.1 149.8h0M128.4 180.0h0M153.7 134.8h0M73.2 174.8h0M160.3 178.9h0M90.7 157.2h0M158.3 129.6h0M75.5 161.7h0M209.2 140.1h0M80.5 149.3h0M117.6 145.2h0M134.1 156.6h0M110.7 169.3h0M142.1 149.2h0M203.1 134.2h0M112.5 133.2h0M119.8 175.9h0M79.0 202.9h0M137.7 156.5h0M133.0 114.8h0M186.8 142.2h0M178.4 168.8h0M92.8 149.7h0M106.4 131.4h0M76.0 117.1h0M87.0 131.7h0M87.1 152.2h0M76.2 182.7h0M94.4 176.5h0M203.8 72.4h0M134.6 140.6h0M94.6 143.2h0M123.5 136.3h0M180.4 144.5h0M222.6 98.5h0M100.2 152.3h0M99.2 125.5h0M130.5 175.2h0M113.2 131.3h0M187.3 161.7h0M187.4 189.3h0M72.5 138.0h0M85.8 142.8h0M98.2 159.2h0M133.3 87.9h0M76.4 141.7h0M109.5 132.0h0M85.9 141.7h0M76.6 146.9h0M247.6 132.7h0M117.3 139.2h0M91.3 193.2h0M97.9 177.7h0M93.5 121.3h0M73.1 151.8h0M105.0 147.4h0M94.0 192.6h0M137.3 129.3h0M74.3 166.3h0M78.9 152.0h0M76.5 117.4h0M82.4 132.9h0M103.6 156.2h0M128.7 147.2h0M138.5 144.5h0M105.7 142.4h0M116.2 146.0h0M141.2 199.9h0M102.9 140.3h0M123.9 154.4h0M85.8 189.2h0M127.7 155.1h0M102.8 141.6h0M91.8 216.0h0M84.9 140.3h0M180.9 159.2h0M237.9 122.2h0M179.2 147.8h0M75.4 158.2h0M133.1 115.9h0M84.1 162.0h0M171.9 99.6h0M98.0 166.4h0M93.3 211.5h0M139.4 148.7h0M137.3 149.6h0M194.2 203.2h0M146.4 131.6h0M97.3 160.5h0M121.0 161.6h0M79.1 152.4h0M131.1 106.3h0M74.9 144.2h0M112.3 130.4h0M127.3 124.1h0M189.0 121.9h0M156.3 158.2h0M235.4 133.3h0M147.7 230.5h0M83.6 184.4h0M95.4 174.4h0M102.8 152.6h0M83.9 134.9h0M100.2 150.0h0M176.0 148.3h0M73.6 157.7h0M98.7 136.2h0M75.9 214.8h0M82.6 151.1h0M86.7 175.4h0M126.1 152.9h0M165.5 161.3h0M152.7 127.8h0M136.0 154.8h0M128.7 154.0h0M186.7 162.7h0M201.2 158.3h0M129.0 167.9h0M138.9 143.9h0M213.4 137.0h0M126.7 151.5h0M106.8 159.7h0M104.4 179.5h0M113.2 162.3h0M149.6 153.1h0M111.6 147.6h0M151.5 134.2h0M152.2 144.2h0M115.7 180.0h0M76.4 159.2h0M122.9 163.3h0M120.8 140.2h0M125.2 151.2h0M175.2 171.6h0M120.1 127.3h0M190.4 148.7h0M78.6 158.7h0M72.3 173.8h0M116.4 139.4h0M158.9 197.8h0M186.9 125.1h0M106.1 172.5h0M196.3 125.6h0M131.7 177.2h0M200.5 129.1h0M173.7 120.0h0M76.3 140.0h0M86.1 170.4h0M96.8 152.7h0M85.2 204.4h0M197.9 115.5h0M184.9 126.8h0M122.0 132.7h0M95.1 148.4h0M202.7 130.3h0M137.6 134.8h0M98.1 145.4h0M83.2 164.0h0M103.5 162.0h0M243.6 153.0h0M97.8 145.7h0M159.8 122.4h0M88.6 185.2h0M98.6 155.7h0M94.2 138.6h0M135.9 151.2h0M100.9 170.4h0M95.8 234.9h0M89.6 141.9h0M110.8 135.5h0M163.7 112.9h0M126.5 181.3h0M147.6 146.7h0M236.5 120.3h0M167.0 118.7h0M180.7 155.9h0M112.7 186.3h0M101.2 141.2h0M96.4 177.3h0M88.4 144.8h0M147.2 185.3h0M71.9 181.4h0M119.1 126.6h0M76.8 192.4h0M87.2 135.8h0M114.9 136.2h0M111.1 135.2h0M140.2 152.1h0M196.2 136.7h0M233.9 128.0h0M173.8 157.2h0M122.1 128.5h0M143.0 148.2h0M98.5 178.3h0M78.6 181.6h0M172.2 138.3h0M192.5 152.5h0M84.5 156.5h0M143.2 216.1h0M107.8 169.0h0M125.1 162.6h0M98.2 196.7h0M131.2 143.6h0M149.2 174.1h0M94.1 161.3h0M179.0 135.6h0M80.7 164.2h0M150.5 144.3h0M88.4 125.1h0M88.7 210.9h0M83.6 158.2h0M97.7 150.6h0M99.4 151.4h0M125.3 126.0h0M82.9 137.1h0M88.7 131.8h0M131.4 149.3h0M142.7 140.4h0M81.3 137.8h0M99.4 171.0h0M94.7 171.8h0M88.9 139.3h0M183.7 158.1h0M130.1 157.1h0M82.3 156.0h0M84.0 146.7h0M146.8 186.0h0M85.2 139.4h0M84.3 168.1h0M150.9 198.1h0M79.2 149.4h0M175.5 130.8h0M188.7 176.7h0M141.3 152.2h0M161.6 188.1h0M129.3 144.3h0M128.1 157.1h0M88.8 164.6h0M91.7 157.5h0M248.9 150.5h0M86.7 196.7h0M161.0 136.4h0M201.6 189.8h0M96.4 150.2h0M169.0 132.5h0M97.7 183.8h0M98.1 168.6h0M150.0 148.2h0M82.1 168.2h0M76.0 158.6h0M193.8 151.9h0M164.2 165.1h0M229.2 162.9h0M92.2 149.1h0M123.5 184.5h0M195.6 136.3h0M178.3 132.0h0M158.8 181.6h0M121.6 196.3h0M74.8 158.1h0M131.3 154.3h0M76.0 173.7h0M139.6 144.7h0M135.3 161.7h0M142.4 162.5h0M106.6 155.8h0M189.3 132.5h0M91.9 93.6h0M154.0 140.4h0M200.5 144.3h0M86.5 162.0h0M83.3 131.6h0M73.2 167.4h0M123.4 153.7h0M94.3 186.0h0M100.0 215.1h0M95.2 138.1h0M84.0 166.1h0M123.0 145.7h0M96.5 159.9h0M203.7 139.3h0M93.0 199.1h0M83.6 140.2h0M181.7 159.8h0M150.4 141.9h0M108.6 129.3h0M86.8 143.9h0M72.4 176.9h0M87.6 125.6h0M72.7 139.7h0M195.6 150.9h0M75.3 155.0h0M214.4 139.8h0M143.9 142.8h0M90.1 220.8h0M92.2 161.6h0M98.7 131.3h0M90.6 195.9h0M78.1 198.8h0M105.5 150.4h0M200.7 105.9h0M217.7 132.4h0M73.8 152.0h0M96.8 136.8h0M105.7 185.1h0M137.8 208.1h0M74.9 199.0h0M132.4 144.2h0M127.2 208.0h0M176.0 122.7h0M108.3 164.2h0M73.2 168.0h0M88.4 148.3h0M87.1 172.4h0M82.7 210.1h0M193.0 132.3h0M77.5 146.5h0M120.4 160.1h0M89.9 177.2h0M136.5 102.9h0M112.0 161.0h0M107.5 184.6h0M111.8 133.1h0M99.8 135.5h0M93.8 146.6h0M116.3 198.7h0M97.5 159.6h0M140.9 152.8h0M148.9 112.4h0M79.8 111.2h0M82.7 165.6h0M124.9 163.8h0M83.6 164.8h0M139.6 158.2h0M101.7 160.2h0M166.1 120.3h0M119.0 152.8h0M165.5 126.2h0M147.0 209.9h0M112.4 146.1h0M139.2 162.2h0M103.5 149.2h0M116.7 163.5h0M135.8 113.4h0M121.6 135.1h0M185.7 130.6h0M165.3 159.7h0M133.6 169.4h0M96.5 121.0h0M98.4 159.0h0M140.0 99.8h0M98.5 170.5h0M176.2 108.6h0M176.7 99.0h0M155.4 203.3h0M200.0 191.8h0M182.5 129.1h0M106.6 188.3h0M95.9 127.4h0M105.9 139.5h0M90.2 161.1h0M111.3 147.4h0M137.0 153.8h0M189.4 137.7h0M71.0 175.4h0M74.6 168.9h0M99.7 160.2h0M102.3 164.6h0M87.6 168.6h0M80.0 176.4h0M87.4 167.9h0M129.7 148.5h0M96.5 172.8h0M107.7 145.8h0M120.2 209.0h0M125.4 199.7h0M113.3 135.3h0M187.9 125.5h0M119.3 171.6h0M82.9 123.6h0M95.2 143.9h0M268.9 185.9h0M194.6 159.3h0M154.1 134.0h0M94.4 153.6h0M159.4 167.5h0M73.9 144.4h0M80.0 76.5h0M167.5 138.3h0M207.2 131.4h0M91.0 126.7h0M200.4 150.0h0M94.7 133.5h0M118.2 132.8h0M96.6 142.0h0M129.5 152.9h0M168.7 130.8h0M169.6 120.4h0M115.1 167.6h0M184.5 138.0h0M130.2 151.1h0M127.5 156.5h0M81.6 168.7h0M82.7 168.5h0M105.4 137.4h0M104.3 163.8h0M84.2 146.6h0M152.3 150.4h0M193.5 191.8h0M168.9 113.3h0M218.0 184.7h0M168.3 120.7h0M225.1 150.7h0M165.8 143.5h0M73.0 160.5h0M127.7 128.3h0M107.3 158.2h0M78.5 168.9h0M97.2 162.2h0M121.8 137.2h0M121.0 119.6h0M117.2 156.1h0M72.1 161.2h0M86.8 238.8h0M100.2 159.9h0M98.4 162.2h0M100.2 173.5h0M85.7 147.1h0M114.5 151.9h0M73.9 179.2h0M98.1 129.6h0M170.5 136.2h0M137.9 178.3h0M133.5 167.0h0M165.2 182.1h0M128.6 165.6h0M91.2 158.5h0M129.8 138.5h0M134.8 172.1h0M149.8 209.1h0M127.5 162.1h0M142.3 140.6h0M200.2 133.4h0M97.2 153.9h0M123.5 131.3h0M259.1 123.7h0M105.7 162.8h0M93.9 145.2h0M105.5 153.6h0M107.0 140.1h0M208.5 136.4h0M156.0 150.5h0M93.0 173.8h0M171.2 130.7h0M131.3 120.3h0M99.0 195.7h0M83.3 198.7h0M101.9 131.3h0M80.8 159.4h0M153.1 156.4h0M91.8 133.3h0M148.1 170.8h0M189.1 188.1h0M121.3 125.1h0M146.9 163.1h0M109.3 160.5h0M123.9 119.2h0M72.7 182.2h0M171.8 169.8h0M90.5 148.3h0M90.9 172.8h0M154.2 117.0h0M82.9 131.5h0M75.5 211.3h0M116.1 153.3h0M76.1 129.3h0M109.8 221.1h0M75.8 169.7h0M170.1 125.8h0M89.9 152.2h0M120.0 145.6h0M87.4 144.4h0M164.0 162.0h0M124.1 123.9h0M144.2 154.1h0M72.6 135.8h0M95.2 122.7h0M146.5 118.4h0M73.4 182.9h0M122.6 117.3h0M149.6 145.5h0M117.4 143.0h0M96.7 157.6h0M105.4 154.9h0M85.5 151.3h0M198.4 142.0h0M127.3 163.6h0M163.6 134.3h0M117.0 124.6h0M171.6 132.6h0M175.2 152.1h0M144.8 156.2h0M208.5 141.7h0M74.9 185.4h0M129.0 158.1h0M154.6 170.3h0M230.5 126.2h0M194.8 181.7h0M121.2 139.0h0M131.7 158.4h0M266.7 133.0h0M145.0 144.0h0M122.7 129.9h0M148.2 151.3h0M100.0 137.1h0M159.9 163.9h0M98.6 136.5h0M103.2 136.3h0M78.0 155.4h0M111.7 135.4h0M129.2 142.4h0M119.8 155.1h0M187.5 106.3h0M72.8 112.0h0M99.9 150.5h0M115.2 172.4h0M144.2 171.0h0M110.9 149.1h0M142.6 171.1h0M76.5 173.2h0M216.8 136.2h0M108.3 169.9h0M71.2 176.1h0M133.6 137.9h0M114.7 163.1h0M74.2 201.6h0M152.4 108.8h0M210.0 159.9h0M93.9 181.6h0M171.1 197.7h0M74.8 166.0h0M103.2 145.8h0M106.9 112.9h0M126.5 161.5h0M138.0 162.4h0M159.7 147.3h0M76.4 172.5h0M116.2 131.7h0M178.1 152.0h0M140.0 173.4h0M110.1 92.9h0M157.0 163.5h0M181.5 114.8h0M138.1 176.9h0M73.3 176.3h0M75.6 152.8h0M174.3 146.1h0M73.4 172.4h0M78.4 183.9h0M108.0 157.6h0M121.0 155.7h0M75.7 152.4h0M129.5 138.7h0M74.5 169.1h0M126.5 201.1h0M75.5 173.0h0M149.3 121.5h0M90.6 173.2h0M75.3 139.9h0M111.8 165.2h0M163.8 145.4h0M87.8 147.9h0M126.8 164.7h0M127.1 193.8h0M155.8 180.4h0M224.9 139.4h0M86.5 163.1h0M83.4 226.4h0M101.6 172.9h0M132.4 124.1h0M167.0 139.7h0M86.5 139.3h0M96.8 144.5h0M129.3 125.4h0M80.4 156.5h0M108.6 125.7h0M89.1 123.5h0M114.9 144.4h0M121.6 156.6h0M116.5 114.2h0M167.5 143.9h0M183.8 117.2h0M102.5 150.1h0M78.6 146.1h0M120.7 129.4h0M104.0 158.3h0M144.0 181.5h0M93.2 135.0h0M84.0 159.7h0M154.1 178.4h0M144.5 145.5h0M185.5 126.2h0M94.5 143.4h0M163.4 137.0h0M101.7 136.7h0M79.3 160.1h0M133.0 152.4h0M84.7 152.3h0M133.3 147.8h0M148.5 137.8h0M108.4 132.0h0M195.7 167.5h0M156.3 133.9h0M116.4 155.6h0M104.2 204.3h0M85.3 174.0h0M88.3 156.4h0M125.0 161.7h0M178.1 143.8h0M76.1 142.7h0M181.7 141.7h0M195.0 145.9h0M94.2 178.6h0M103.0 160.8h0M206.6 136.3h0M111.3 158.2h0M86.2 178.0h0M213.3 122.9h0M104.3 125.7h0M97.1 154.1h0M138.3 75.0h0M80.0 153.0h0M108.4 179.4h0M71.6 189.0h0M96.2 130.7h0M143.8 190.5h0M74.1 138.9h0M213.9 146.5h0M96.3 250.6h0M258.9 94.7h0M140.5 175.0h0M118.3 137.5h0M132.9 177.3h0M71.7 141.3h0M74.3 196.7h0M160.5 157.8h0M118.7 157.0h0M72.8 157.3h0M124.7 164.4h0M124.3 135.6h0M96.2 130.6h0M158.8 155.0h0M100.2 142.7h0M166.8 152.4h0M80.9 206.5h0M168.3 123.3h0M121.3 149.8h0M71.3 146.4h0M114.5 150.3h0M102.5 152.8h0M158.7 138.1h0M118.4 199.2h0M97.8 179.1h0M93.2 175.6h0M176.2 158.7h0M141.1 149.0h0M139.8 229.4h0M154.4 146.8h0M98.9 169.5h0M145.5 168.8h0M79.2 139.5h0M174.5 127.3h0M189.1 169.0h0M114.7 230.0h0M89.5 143.7h0M153.5 200.3h0M170.6 138.1h0M86.0 147.1h0M89.5 148.2h0M180.7 136.3h0M177.8 217.1h0M74.0 169.4h0M226.9 143.4h0M176.1 118.5h0M146.9 152.1h0M181.1 151.9h0M98.0 150.7h0M85.1 108.3h0M83.5 143.8h0M115.0 139.9h0M130.8 180.6h0M77.3 206.1h0M173.8 142.2h0M119.0 121.2h0M125.0 133.1h0M165.1 141.7h0M89.1 145.2h0M231.8 122.5h0M110.2 171.7h0M169.4 148.1h0M85.4 140.0h0M127.3 142.5h0M74.4 142.8h0M132.8 141.3h0M138.0 151.0h0M146.3 202.9h0M80.4 162.9h0M93.4 145.8h0M84.3 209.3h0M90.6 159.6h0M101.9 174.1h0M163.9 168.3h0M149.1 194.3h0M186.8 132.0h0M72.2 157.6h0M116.2 225.0h0M177.1 169.2h0M147.8 159.1h0M181.8 139.4h0M161.7 132.8h0M124.6 142.3h0M117.8 147.3h0M89.0 141.9h0M90.3 141.3h0M83.2 120.4h0M117.4 168.4h0M177.4 151.6h0M87.3 142.9h0M71.9 157.7h0M102.8 169.7h0M84.4 157.3h0M102.5 139.1h0M251.9 125.5h0M115.6 138.9h0M146.6 147.6h0M89.3 156.7h0M167.0 169.7h0M122.3 163.0h0M101.9 129.6h0M123.0 129.8h0M83.3 217.6h0M138.4 123.5h0M84.9 137.7h0M74.1 188.1h0M186.0 161.8h0M141.1 120.8h0M261.5 119.0h0M144.1 153.6h0M73.9 193.9h0M81.2 190.5h0M152.7 143.8h0M76.2 142.9h0M128.1 139.2h0M162.0 124.5h0M103.8 128.3h0M138.3 130.6h0M216.0 134.3h0M99.1 167.7h0M110.6 152.5h0M82.1 154.5h0M121.1 107.8h0M74.5 208.0h0M72.1 155.7h0M155.4 139.4h0M82.9 162.1h0M134.2 121.5h0M89.2 166.6h0M71.3 164.2h0M80.6 137.3h0M108.8 136.2h0M83.5 155.5h0M84.8 148.2h0M140.1 150.3h0M84.1 199.9h0M73.6 166.6h0M208.6 116.0h0M151.6 195.2h0M195.6 156.4h0M77.1 152.5h0M99.2 172.0h0M137.0 197.1h0M85.7 140.0h0M155.2 137.3h0M104.3 152.4h0M86.6 137.1h0M147.7 159.3h0M174.1 196.7h0M102.4 147.6h0M142.2 144.4h0M126.3 199.9h0M83.3 143.2h0M114.6 165.9h0M99.8 182.4h0M97.5 154.2h0M85.5 139.4h0M72.9 153.5h0M196.7 138.3h0M79.0 170.5h0M181.1 159.2h0M134.7 163.0h0M81.8 171.2h0M80.9 131.0h0M177.2 127.4h0M182.9 137.6h0M180.8 161.8h0M186.0 146.0h0M93.1 170.1h0M99.8 153.0h0M131.3 141.2h0M175.4 154.4h0M109.7 148.9h0M129.2 186.0h0M156.5 155.2h0M74.7 136.0h0M99.4 141.7h0M99.1 176.0h0M120.9 135.7h0M155.2 204.1h0M117.4 172.0h0M147.6 121.0h0M152.2 134.3h0M93.0 158.4h0M140.7 149.4h0M106.0 228.2h0M103.0 144.7h0M153.8 144.0h0M137.2 193.8h0M91.2 142.6h0M272.2 136.3h0M91.5 157.6h0M141.0 170.1h0M170.8 143.1h0M87.8 140.2h0M183.2 156.9h0M109.9 126.8h0M181.6 127.8h0M81.8 146.1h0M152.8 155.6h0M74.0 142.5h0M177.6 193.3h0M138.0 177.3h0M91.0 103.0h0M73.3 174.2h0M75.1 150.7h0M178.0 119.4h0M101.2 184.5h0M80.9 174.5h0M124.6 185.0h0M87.5 174.6h0M97.8 150.9h0M87.1 150.8h0M120.3 145.8h0M117.5 150.5h0M77.6 145.9h0M95.4 148.3h0M153.0 168.9h0M90.2 140.3h0M241.0 148.9h0M77.0 121.2h0M77.9 149.0h0M190.6 199.1h0M180.3 181.4h0M75.7 173.5h0M115.1 153.3h0M202.1 141.5h0M113.3 117.5h0M89.5 166.5h0M152.7 120.1h0M77.5 186.9h0M73.6 160.9h0M138.2 164.9h0M209.1 125.6h0M80.1 177.5h0M76.8 138.9h0M105.7 136.7h0M125.4 166.1h0M74.7 189.7h0M87.7 187.6h0M73.0 138.8h0M72.3 125.3h0M85.7 201.4h0M175.3 138.8h0M212.4 159.1h0M131.3 129.8h0M129.4 196.6h0M118.4 159.8h0M90.9 186.9h0M95.9 174.7h0M80.5 166.3h0M103.8 167.6h0M108.0 131.5h0M73.2 154.3h0M74.5 144.2h0M99.6 141.1h0M145.1 143.7h0M97.8 124.4h0M114.6 149.2h0M200.9 107.9h0M146.4 156.6h0M99.5 148.2h0M128.9 141.5h0M194.3 129.6h0M128.1 118.7h0M133.4 147.1h0M149.2 170.3h0M72.0 246.0h0M83.1 120.9h0M87.7 162.3h0M154.2 167.9h0M155.5 150.0h0M93.7 154.1h0M177.3 128.8h0M94.9 180.7h0M160.5 119.7h0M121.7 143.6h0M89.8 160.1h0M129.2 139.8h0M103.9 146.7h0M92.6 160.3h0M77.3 141.8h0M102.6 138.3h0M106.1 150.5h0M115.2 128.7h0M170.3 148.0h0M121.1 132.2h0M203.2 131.6h0M77.5 147.8h0M84.5 169.1h0M167.7 167.0h0M138.1 117.4h0M142.6 184.4h0M161.6 138.2h0M197.9 130.3h0M123.3 156.1h0M86.2 151.1h0M79.1 157.0h0M105.9 136.7h0M136.8 148.4h0M80.5 180.9h0M187.8 165.9h0M164.9 135.8h0M92.3 164.4h0M80.9 165.6h0M206.2 178.9h0M150.5 147.5h0M205.1 116.6h0M135.5 144.3h0M116.9 165.9h0M109.4 198.3h0M148.9 107.8h0M115.0 171.7h0M72.1 142.5h0M143.0 185.3h0M88.4 134.4h0M71.8 143.2h0M123.3 177.5h0M96.2 186.2h0M106.5 211.3h0M108.8 148.9h0M102.5 130.3h0M227.8 157.5h0M126.9 133.9h0M84.3 168.3h0M196.2 181.5h0M128.1 149.1h0M131.6 172.7h0M190.0 155.7h0M130.5 152.6h0M142.3 122.7h0M144.9 127.4h0M129.1 126.9h0M151.9 129.2h0M121.1 126.7h0M110.8 159.9h0M97.9 162.0h0M109.0 133.0h0M100.7 113.2h0M146.3 120.8h0M199.4 145.1h0M105.5 198.5h0M116.3 176.3h0M210.0 121.4h0M148.6 150.7h0M197.9 152.2h0M153.9 148.2h0M167.4 141.3h0M82.6 171.0h0M95.1 175.4h0M103.2 185.0h0M197.1 139.1h0M79.8 250.6h0M166.9 158.5h0M197.6 129.5h0M75.8 157.5h0M143.0 102.0h0M81.5 147.3h0M98.0 138.4h0M73.0 151.9h0M161.7 138.0h0M83.8 141.4h0M102.9 177.6h0M141.7 194.3h0M107.3 140.4h0M211.3 148.7h0M94.1 153.4h0M153.8 148.0h0M163.1 131.5h0M78.1 129.7h0M127.3 170.3h0M97.9 156.8h0M95.9 135.0h0M93.3 222.8h0M185.5 146.3h0M108.7 172.3h0M90.4 177.0h0M101.9 157.7h0M158.4 255.7h0M102.8 148.5h0M285.7 157.6h0M186.4 175.0h0M78.8 120.3h0M91.3 161.9h0M71.2 124.3h0M95.9 176.1h0M102.8 170.4h0M111.2 191.4h0M173.4 147.1h0M87.5 165.7h0M100.9 145.6h0M171.1 134.4h0M71.0 161.1h0M189.7 120.7h0M96.0 167.4h0M91.5 132.2h0M76.4 172.4h0M77.2 150.0h0M150.1 158.3h0M106.5 147.0h0M82.5 170.9h0M174.4 153.6h0M90.4 174.5h0M98.8 141.9h0M151.3 156.9h0M155.8 87.4h0M129.5 135.1h0M87.9 165.9h0M93.4 162.6h0M121.7 153.5h0M135.7 138.0h0M172.1 160.1h0M196.2 127.8h0M83.6 185.3h0M115.1 129.7h0M115.1 128.9h0M101.7 145.3h0M82.7 140.3h0M127.3 138.7h0M87.2 183.1h0M133.2 152.9h0M245.7 90.6h0M181.9 148.4h0M278.2 150.0h0M111.8 157.2h0M192.6 175.6h0M93.7 167.8h0M77.7 148.7h0M102.1 165.3h0M121.7 148.6h0M173.6 159.6h0M187.6 124.9h0M76.0 147.2h0M71.6 131.5h0M129.6 145.1h0M208.6 117.7h0M140.4 143.4h0M107.5 125.9h0M95.3 169.3h0M159.5 154.0h0M144.7 143.4h0M134.2 147.9h0M77.4 197.4h0M109.6 152.6h0M118.6 136.1h0M165.9 126.7h0M82.6 148.1h0M76.8 194.0h0M142.1 152.3h0M77.3 138.6h0M95.8 184.1h0M147.3 148.0h0M129.9 137.7h0M158.6 140.9h0M80.3 180.2h0M206.6 136.9h0M187.7 184.9h0M174.1 183.5h0M177.4 132.3h0M79.8 162.4h0M88.2 188.7h0M126.5 141.8h0M155.5 146.5h0M160.6 160.6h0M94.9 146.3h0M76.1 176.0h0M152.7 123.4h0M137.1 124.4h0M97.8 165.3h0M139.6 120.1h0M116.8 198.3h0M80.8 136.3h0M130.0 75.5h0M73.9 119.0h0M157.6 144.9h0M87.5 138.9h0M185.0 127.4h0M161.5 134.7h0M128.0 152.8h0M162.9 163.8h0M122.8 131.6h0M96.5 202.5h0M144.6 136.5h0M221.1 151.3h0M230.9 158.8h0M101.5 154.2h0M114.5 169.6h0M116.3 188.0h0M193.0 145.8h0M107.4 142.5h0M180.9 145.6h0M145.4 229.3h0M158.2 150.8h0M102.6 165.4h0M167.7 109.9h0M143.7 160.9h0M133.0 146.1h0M74.2 162.0h0M128.8 169.0h0M184.6 124.1h0M91.9 135.2h0M209.7 127.4h0M89.0 147.5h0M110.6 156.9h0M91.1 157.0h0M89.7 176.9h0M105.4 133.6h0M94.4 159.3h0M103.4 132.4h0M172.2 181.0h0M290.1 116.8h0M176.4 141.6h0M124.1 151.7h0M71.8 141.3h0M90.1 180.7h0M82.9 153.2h0M118.0 133.0h0M105.3 140.8h0M195.2 172.7h0M163.9 148.7h0M87.1 120.8h0M84.7 146.7h0M86.0 149.9h0M224.1 173.2h0M120.8 131.7h0M90.9 125.2h0M147.8 150.0h0M97.2 150.5h0M143.4 130.0h0M138.7 225.2h0M166.8 184.1h0M85.3 155.1h0M79.6 157.8h0M117.2 145.4h0M119.5 221.0h0M131.3 150.7h0M92.5 163.5h0M98.9 169.6h0M163.9 145.3h0M101.0 159.3h0M84.4 186.8h0M198.8 140.4h0M121.5 154.1h0M251.0 145.6h0M88.9 156.6h0M97.1 150.1h0M98.5 151.0h0M99.6 121.5h0M128.8 178.2h0M127.2 160.1h0M126.9 149.2h0M205.3 113.9h0M100.5 177.3h0M93.9 201.2h0M89.3 192.5h0M92.3 141.1h0M154.5 131.0h0M130.2 130.3h0M215.8 149.1h0M121.3 134.2h0M177.2 123.4h0M77.2 164.1h0M181.7 142.3h0M143.7 158.2h0M156.7 122.8h0M188.0 132.8h0M190.0 103.1h0M106.7 163.7h0M107.6 175.0h0M118.0 196.2h0M82.6 145.4h0M73.4 151.1h0M131.6 163.5h0M84.4 175.3h0M96.8 160.2h0M84.2 143.8h0M88.4 187.8h0M150.0 159.1h0M77.0 174.5h0M108.6 114.8h0M78.9 161.9h0M164.9 128.9h0M117.0 195.9h0M111.5 146.2h0M140.1 132.0h0M109.1 161.9h0M169.6 135.0h0M211.3 160.1h0M83.8 168.0h0M78.6 151.4h0M134.3 159.5h0M138.7 120.3h0M199.3 126.7h0M89.7 165.6h0M171.8 133.0h0M83.0 158.5h0M169.3 139.4h0M107.0 137.1h0M152.7 129.7h0M188.3 129.3h0M100.1 167.6h0M116.6 140.9h0M166.6 179.1h0M79.4 195.7h0M125.2 177.1h0M126.6 144.7h0M182.8 178.6h0M118.5 181.8h0M215.2 136.7h0M155.5 204.7h0M157.3 144.4h0M117.9 164.6h0M76.9 177.4h0M234.9 132.9h0M88.7 137.3h0M123.7 140.3h0M170.4 133.7h0M109.9 133.5h0M120.5 146.8h0M277.0 117.7h0M77.1 146.3h0M108.8 149.3h0M88.6 116.1h0M80.4 121.2h0M84.4 170.8h0M119.5 179.1h0M195.7 136.9h0M92.9 198.4h0M180.9 156.1h0M107.4 161.2h0M244.3 124.3h0M166.7 110.1h0M83.4 148.0h0M116.6 165.0h0M182.0 149.1h0M76.9 154.0h0M122.6 132.4h0M91.6 158.4h0M92.8 160.4h0M81.6 147.4h0M145.2 120.0h0M236.0 132.4h0M119.9 190.2h0M116.4 148.2h0M109.8 113.9h0M122.0 142.3h0M104.9 158.5h0M85.9 170.8h0M76.1 132.4h0M118.0 132.7h0M222.6 118.4h0M88.2 156.3h0M77.6 213.7h0M74.0 201.0h0M74.4 146.2h0M91.1 182.8h0M96.8 191.8h0M187.1 150.0h0M107.5 163.9h0M119.1 132.5h0M124.9 144.2h0M126.6 155.3h0M77.0 157.8h0M85.3 180.3h0M72.6 164.8h0M112.7 139.4h0M81.6 175.9h0M94.5 152.3h0M201.7 109.5h0M85.4 152.4h0M96.7 178.7h0M113.1 171.7h0M120.3 143.1h0M122.3 217.5h0M101.0 163.5h0M103.1 181.7h0M120.9 148.5h0M149.8 159.3h0M106.0 216.4h0M74.0 122.4h0M77.4 186.3h0M119.0 178.0h0M77.1 161.2h0M150.2 141.1h0M109.6 149.1h0M96.6 142.4h0M86.9 212.8h0M111.4 153.1h0M125.1 163.7h0M81.5 179.6h0M183.0 178.0h0M110.0 169.4h0M192.2 131.8h0M95.3 220.8h0M71.6 147.5h0M162.8 157.4h0M85.9 136.2h0M108.2 155.4h0M104.1 184.7h0M126.3 138.1h0M91.4 158.9h0M79.7 183.9h0M211.9 146.2h0M96.9 160.0h0M105.1 144.6h0M130.9 153.3h0M72.5 149.1h0M84.4 141.6h0M74.5 155.8h0M113.1 158.0h0M101.5 163.2h0M131.5 155.8h0M105.8 152.1h0M78.1 156.3h0M226.0 146.6h0M106.8 165.0h0M146.0 148.6h0M204.0 217.4h0M80.6 166.9h0M87.8 168.3h0M73.6 165.2h0M144.1 126.0h0M110.8 192.4h0M89.6 166.0h0M143.9 141.2h0M197.1 127.8h0M183.2 163.1h0M80.5 185.0h0M162.7 177.5h0M122.7 144.0h0M103.7 126.0h0M102.6 145.4h0M187.0 143.1h0M162.7 145.1h0M83.1 145.7h0M77.2 173.8h0M169.5 196.7h0M91.9 122.8h0M92.6 173.8h0M84.0 143.3h0M96.9 160.5h0M97.4 173.3h0M173.0 147.0h0M83.5 201.8h0M165.6 136.8h0M123.5 198.2h0M115.0 132.0h0M101.1 162.5h0M88.3 143.9h0M90.9 142.9h0M187.4 146.3h0M138.5 148.0h0M99.0 149.2h0M97.3 158.5h0M82.0 158.2h0M132.5 169.9h0M106.0 189.5h0M82.8 152.2h0M139.8 152.5h0M134.0 158.3h0M161.3 149.3h0M196.6 141.0h0M108.7 164.9h0M137.8 136.7h0M152.4 196.0h0M82.2 170.0h0M113.6 165.6h0M222.8 107.2h0M117.0 142.4h0M120.7 136.3h0M100.3 182.4h0M71.2 139.6h0M114.5 143.2h0M72.1 153.2h0M100.6 159.6h0M86.9 157.5h0M196.6 131.5h0M97.6 164.1h0M72.7 158.3h0M104.8 175.5h0M184.1 127.9h0M74.8 140.3h0M77.0 148.3h0M141.9 139.6h0M72.1 131.1h0M127.1 162.6h0M81.5 143.5h0M80.0 160.0h0M77.1 165.0h0M177.2 147.0h0M190.7 186.1h0M103.8 127.1h0M104.3 145.2h0M189.8 133.3h0M125.9 137.8h0M135.2 146.2h0M89.1 154.6h0M72.5 141.8h0M125.4 138.9h0M91.2 136.7h0M189.3 154.7h0M169.8 118.5h0M77.4 169.2h0M142.6 200.8h0M92.4 146.6h0M91.6 143.4h0M187.0 134.7h0M195.2 154.4h0M139.6 188.7h0M94.2 191.0h0M164.3 150.0h0M128.1 159.3h0M100.8 137.4h0M186.6 142.8h0M138.3 163.3h0M72.2 174.7h0M141.2 182.7h0M152.9 105.8h0M229.1 142.6h0M83.9 214.0h0M96.3 136.5h0M132.8 159.7h0M98.2 151.4h0M84.5 149.4h0M74.2 147.9h0M191.4 175.8h0M132.9 134.0h0M72.5 157.3h0M132.6 165.4h0M123.8 177.3h0M85.4 148.7h0M120.8 121.9h0M84.1 161.0h0M152.9 141.3h0M83.4 167.7h0M139.4 155.2h0M112.6 196.7h0M147.2 160.6h0M122.4 179.0h0M90.0 173.6h0M77.9 173.2h0M159.6 145.1h0M92.8 172.0h0M168.5 141.8h0M129.0 146.7h0M129.7 131.6h0M187.9 145.7h0M106.4 164.0h0M148.0 156.7h0M134.9 211.0h0M91.1 129.5h0M107.1 177.0h0M99.1 172.8h0M100.2 159.1h0M163.3 152.0h0M91.0 202.6h0M93.8 172.2h0M157.5 161.6h0M122.2 156.4h0M145.5 187.8h0M75.0 130.0h0M213.0 153.7h0M261.9 117.9h0M131.2 181.5h0M116.6 187.3h0M91.6 140.9h0M74.1 102.6h0M163.1 143.1h0M136.8 133.3h0M106.7 173.4h0M83.6 133.0h0M140.6 224.9h0M156.6 174.9h0M92.5 162.5h0M71.3 140.3h0M229.4 188.9h0M102.9 149.4h0M93.5 136.2h0M174.5 132.5h0M119.9 157.2h0M157.8 121.3h0M187.4 167.6h0M121.3 170.6h0M107.6 165.5h0M118.8 164.4h0M135.4 195.0h0M72.6 191.9h0M75.5 240.1h0M127.8 164.3h0M96.5 150.6h0M129.4 113.6h0M92.4 163.6h0M98.3 154.6h0M102.1 128.8h0M105.7 133.5h0M75.8 143.2h0M158.1 165.5h0M201.8 163.1h0M86.6 165.6h0M287.2 123.1h0M107.2 149.6h0M118.8 170.2h0M78.6 154.0h0M192.1 149.4h0M71.3 129.3h0M127.5 130.2h0M159.6 144.4h0M144.2 187.9h0M158.2 222.7h0M140.2 136.3h0M97.2 212.9h0M98.2 154.3h0M155.7 137.7h0M85.3 179.4h0M101.1 147.1h0M129.9 132.8h0M147.0 144.2h0M244.5 154.3h0M230.3 138.6h0M76.2 145.9h0M77.8 148.5h0M103.5 159.9h0M79.3 156.7h0M108.3 185.7h0M259.7 103.8h0M100.4 145.3h0M73.4 142.7h0M118.0 169.7h0M167.8 129.5h0M75.5 159.3h0M99.7 236.2h0M118.4 139.8h0M112.7 131.6h0M83.7 147.3h0M107.2 154.8h0M97.2 137.9h0M198.8 135.7h0M114.6 172.2h0M161.0 170.2h0M180.1 110.2h0M112.3 135.7h0M166.4 134.3h0M149.8 135.1h0M92.5 142.5h0M110.2 199.3h0M126.7 163.3h0M139.8 138.3h0M81.5 184.8h0M75.4 178.1h0M114.5 148.4h0M120.7 153.9h0M160.6 165.9h0M154.0 135.7h0M145.3 163.4h0M183.9 144.9h0M219.5 127.8h0M110.7 162.0h0M174.4 125.9h0M171.3 174.2h0M80.8 209.6h0M136.1 178.2h0M93.0 159.3h0M161.5 159.3h0M98.7 160.1h0M79.0 199.5h0M77.8 136.4h0M195.4 131.4h0M212.4 118.6h0M122.5 149.5h0M133.6 167.0h0M80.4 146.2h0M245.3 116.9h0M81.4 166.3h0M108.7 143.3h0M179.1 116.2h0M100.8 178.8h0M119.9 180.1h0M169.5 116.0h0M76.8 212.9h0M80.7 173.1h0M97.6 221.3h0M126.2 169.8h0M201.3 166.1h0M130.6 129.3h0M122.1 162.6h0M87.0 165.2h0M177.3 137.3h0M80.1 158.7h0M217.9 136.4h0M72.6 144.4h0M190.4 166.1h0M154.7 210.0h0M116.5 203.0h0M126.3 154.6h0M188.0 132.4h0M104.1 135.2h0M78.8 227.3h0M91.9 180.5h0M248.1 125.7h0M123.8 170.3h0M144.4 100.3h0M72.8 130.6h0M85.9 148.9h0M121.2 158.9h0M154.0 150.8h0M125.8 197.1h0M142.1 180.8h0M133.5 133.0h0M111.1 135.6h0M81.9 165.3h0M196.9 146.0h0M114.8 158.0h0M199.5 163.5h0M178.1 140.3h0M109.0 160.9h0M71.3 171.1h0M191.7 148.3h0M89.3 165.1h0M144.5 139.2h0M161.9 134.4h0M97.3 154.5h0M91.3 150.7h0M129.8 195.8h0M117.8 173.6h0M231.6 149.4h0M89.6 148.2h0M154.3 184.7h0M98.3 187.2h0M109.9 133.7h0M153.5 193.1h0M118.9 134.9h0M106.3 165.1h0M74.8 147.6h0M228.2 143.0h0M81.0 193.1h0M118.4 160.3h0M194.6 120.4h0M100.4 107.0h0M91.8 158.0h0M139.1 180.7h0M118.7 138.6h0M74.2 153.3h0M73.0 165.0h0M107.5 120.5h0M230.1 138.7h0M95.5 157.9h0M159.8 112.0h0M228.6 159.9h0M126.7 151.9h0M198.0 126.4h0M213.8 145.2h0M126.6 148.6h0M111.8 143.7h0M82.4 160.4h0M120.3 184.0h0M129.4 180.6h0M99.1 181.7h0M135.1 152.5h0M172.2 160.0h0M175.7 143.5h0M92.8 148.8h0M80.5 159.5h0M96.1 170.8h0M141.7 133.2h0M212.0 122.2h0M131.3 128.9h0M78.1 129.8h0M122.6 169.9h0M92.3 169.0h0M120.5 127.3h0M135.8 164.8h0M211.6 133.5h0M171.7 133.2h0M186.6 151.4h0M151.7 153.5h0M87.4 123.4h0M86.2 135.4h0M79.1 103.3h0M117.8 135.1h0M99.4 187.9h0M81.8 175.7h0M74.6 154.0h0M116.6 159.3h0M77.8 161.7h0M112.6 152.2h0M197.8 135.4h0M99.8 165.4h0M74.6 116.2h0M96.2 152.5h0M87.2 166.2h0M167.5 167.5h0M87.1 134.3h0M97.5 120.3h0M72.8 166.2h0M146.4 160.9h0M72.6 159.5h0M75.4 183.0h0M103.1 212.5h0M109.5 155.1h0M123.0 153.3h0M104.8 180.2h0M190.5 158.3h0M93.2 143.2h0M84.2 152.9h0M86.8 151.8h0M114.2 179.5h0M114.0 163.0h0M121.6 146.4h0M74.3 158.8h0M108.9 193.9h0M131.0 162.7h0M74.6 138.4h0M105.7 145.6h0M175.9 156.4h0M136.8 152.3h0M90.9 163.1h0M123.6 128.5h0M76.0 143.7h0M73.1 158.6h0M87.4 136.5h0M147.3 130.9h0M80.8 194.4h0M92.6 166.3h0M94.8 88.4h0M176.1 150.9h0M75.9 156.5h0M128.9 140.3h0M104.2 171.2h0M81.1 214.1h0M77.8 160.1h0M174.6 170.9h0M117.2 162.7h0M98.3 152.3h0M85.2 198.4h0M75.9 141.6h0M123.9 197.3h0M113.1 171.8h0M79.3 186.9h0M89.7 192.1h0M99.3 156.6h0M80.6 214.6h0M78.3 184.0h0M147.4 156.9h0M92.2 129.4h0M229.6 129.6h0M79.0 197.7h0M120.4 164.2h0M80.7 137.9h0M84.5 149.0h0M138.1 181.8h0M132.0 177.3h0M188.7 172.6h0M149.2 143.3h0M232.3 140.9h0M92.8 165.3h0M130.8 142.8h0M127.5 152.7h0M90.9 127.5h0M118.6 141.9h0M77.8 162.2h0M147.9 149.7h0M129.1 147.4h0M234.9 105.5h0M93.7 122.6h0M100.2 173.6h0M92.9 199.3h0M112.3 122.5h0M142.6 121.4h0M103.2 153.9h0M115.0 148.7h0M110.9 132.0h0M87.5 146.6h0M104.5 111.2h0M227.5 143.7h0M201.7 154.2h0M116.7 161.7h0M80.5 169.0h0M80.8 146.7h0M149.9 133.6h0M93.2 152.3h0M118.8 143.4h0M181.6 195.1h0M104.9 160.3h0M140.3 141.1h0M129.2 200.3h0M88.1 165.1h0M77.5 150.2h0M105.6 173.8h0M116.8 175.9h0M86.1 154.2h0M232.0 114.3h0M120.3 150.3h0M83.0 139.1h0M224.2 134.4h0M104.2 148.6h0M244.1 147.5h0M78.5 112.9h0M126.0 193.2h0M75.5 160.5h0M77.3 185.0h0M83.9 160.4h0M84.5 151.8h0M178.6 127.3h0M227.3 136.6h0M175.8 170.1h0M89.8 183.7h0M88.8 146.2h0M137.6 134.3h0M155.5 114.8h0M159.5 156.2h0M164.3 133.2h0M78.0 140.1h0M128.4 164.7h0M111.1 145.6h0M83.3 172.8h0M104.5 162.9h0M82.3 160.3h0M101.2 163.0h0M118.3 132.4h0M137.4 181.6h0M83.9 167.3h0M169.8 150.0h0M191.5 126.3h0M108.9 163.8h0M134.0 124.3h0M74.4 168.4h0M228.8 150.2h0M188.5 113.0h0M173.5 162.8h0M143.9 199.3h0M80.6 192.9h0M81.2 143.1h0M85.9 156.8h0M175.1 146.5h0M170.8 133.8h0M235.0 143.0h0M80.0 163.0h0M103.5 137.1h0M114.8 223.7h0M113.7 160.8h0M112.5 163.5h0M128.5 167.4h0M97.7 175.1h0M168.9 144.6h0M201.0 132.1h0M91.1 157.4h0M165.7 190.5h0M114.1 157.9h0M84.8 154.7h0M115.2 154.7h0M101.7 145.7h0M93.2 177.0h0M84.6 161.8h0M206.1 209.1h0M83.5 142.6h0M159.3 119.5h0M131.4 142.6h0M86.4 213.0h0M97.2 141.4h0M189.7 142.1h0M78.3 172.7h0M100.1 128.5h0M145.4 203.3h0M192.5 140.5h0M127.1 164.1h0M93.7 159.5h0M160.6 119.2h0M78.5 164.8h0M188.8 139.6h0M142.9 141.0h0M167.1 122.2h0M189.6 132.1h0M77.1 163.4h0M102.0 141.2h0M88.8 143.2h0M164.9 175.5h0M109.7 200.0h0M236.9 123.5h0M122.9 188.2h0M130.5 155.7h0M72.8 153.7h0M102.6 128.7h0M89.8 134.1h0M118.1 148.9h0M103.9 123.3h0M75.6 154.8h0M185.5 133.1h0M155.5 133.0h0M90.4 145.0h0M197.8 135.6h0M143.3 138.6h0M83.9 160.9h0M128.3 134.4h0M80.2 150.0h0M170.9 149.5h0M165.8 96.2h0M124.7 121.1h0M101.2 144.0h0M155.3 150.5h0M176.3 130.3h0M128.7 135.2h0M135.9 135.9h0M73.1 146.7h0M236.2 133.6h0M222.8 177.0h0M152.4 141.5h0M90.2 126.9h0M79.3 214.5h0M105.0 177.1h0M79.1 137.4h0M196.2 144.5h0M86.6 198.7h0M96.5 151.4h0M158.1 159.3h0M207.8 122.0h0M77.1 173.9h0M103.0 168.8h0M78.0 190.4h0M120.5 142.3h0M157.0 157.6h0M202.3 157.4h0M82.2 193.6h0M194.5 143.9h0M127.8 192.6h0M134.1 204.9h0M103.2 156.3h0M170.0 132.7h0M94.5 161.5h0M116.3 150.2h0M73.0 152.8h0M149.8 122.8h0M192.3 121.2h0M194.5 113.3h0M97.2 150.7h0M71.8 146.3h0M118.1 155.0h0M176.0 123.1h0M82.8 162.7h0M76.4 186.6h0M139.7 158.0h0M97.4 183.9h0M86.2 157.5h0M88.9 143.8h0M87.5 154.7h0M98.5 214.0h0M91.5 153.4h0M80.3 157.2h0M225.1 138.3h0M76.8 168.0h0M74.0 230.3h0M171.4 131.8h0M144.1 129.6h0M116.8 148.2h0M75.4 204.7h0M133.0 148.0h0M96.1 174.4h0M138.8 110.0h0M74.1 146.5h0M144.0 151.9h0M95.9 150.1h0M109.1 162.5h0M75.8 101.0h0M93.2 222.0h0M88.6 159.4h0M163.9 146.5h0M117.3 116.6h0M145.5 146.7h0M158.8 164.3h0M105.5 130.7h0M96.0 130.0h0M111.2 145.7h0M184.5 127.1h0M129.1 166.0h0M75.6 147.8h0M99.0 160.8h0M101.3 158.9h0M158.9 149.6h0M81.1 194.4h0M91.5 146.9h0M100.8 150.8h0M88.9 160.6h0M174.6 142.0h0M198.3 142.6h0M100.6 169.8h0M99.6 130.5h0M72.6 159.9h0M77.2 166.6h0M81.8 130.7h0M187.6 189.7h0M97.4 130.4h0M108.7 195.4h0M97.0 194.9h0M210.8 126.6h0M134.7 149.2h0M112.3 174.9h0M114.9 132.8h0M86.7 161.3h0M192.9 157.1h0M111.4 121.6h0M123.1 155.6h0M175.0 150.7h0M152.9 158.2h0M78.2 150.6h0M106.9 164.8h0M129.5 162.2h0M94.4 180.9h0M139.3 154.8h0M147.8 152.5h0M91.3 162.3h0M223.6 136.8h0M71.0 158.0h0M108.0 169.0h0M163.0 170.5h0M125.8 160.5h0M75.0 145.2h0M235.0 122.0h0M130.4 91.7h0M75.3 161.6h0M213.1 165.1h0M176.2 165.2h0M118.3 149.9h0M122.1 213.3h0M147.9 154.8h0M100.5 141.9h0M78.9 95.1h0M215.0 120.1h0M219.5 135.8h0M93.0 173.0h0M117.0 152.8h0M101.0 180.7h0M110.0 146.2h0M71.4 149.5h0M91.8 207.3h0M198.8 198.9h0M94.1 143.4h0M84.5 148.4h0M80.7 178.5h0M90.5 206.7h0M90.1 142.3h0M108.7 136.4h0M106.0 111.3h0M113.1 220.2h0M133.2 147.1h0M96.4 136.5h0M160.7 147.3h0M187.2 116.6h0M134.1 157.1h0M205.0 151.8h0M71.9 177.2h0M92.8 152.3h0M133.3 152.5h0M156.8 120.6h0M138.6 143.6h0M150.8 132.5h0M76.4 160.2h0M94.1 151.9h0M98.8 158.0h0M169.3 131.7h0M117.5 165.0h0M155.8 151.6h0M85.0 156.4h0M83.6 180.3h0M151.4 137.9h0M140.6 109.9h0M245.9 158.5h0M72.6 161.0h0M124.2 148.0h0M157.8 124.3h0M104.8 150.0h0M157.9 135.9h0M112.7 132.0h0M86.6 173.8h0M137.3 198.6h0M75.8 125.6h0M147.8 80.9h0M189.5 142.8h0M103.1 151.3h0M174.0 137.3h0M209.9 180.2h0M124.6 136.6h0M91.4 206.7h0M171.2 160.3h0M87.7 119.8h0M145.7 158.5h0M92.7 175.5h0M113.6 155.8h0M149.2 147.5h0M80.4 156.2h0M155.2 215.1h0M200.1 164.8h0M156.9 147.3h0M161.8 153.0h0M103.4 160.6h0M165.5 145.2h0M79.7 170.5h0M155.4 132.1h0M170.4 146.1h0M225.4 144.1h0M226.7 120.1h0M78.9 127.2h0M264.2 152.9h0M72.8 151.3h0M136.3 175.8h0M81.4 171.7h0M82.9 135.7h0M83.0 170.6h0M120.5 108.3h0M81.8 152.4h0M155.3 105.9h0M72.9 150.6h0M108.3 160.5h0M244.1 157.8h0M212.2 125.5h0M88.8 184.2h0M200.3 88.1h0M139.6 175.8h0M204.5 122.0h0M72.0 213.1h0M173.9 135.8h0M103.1 147.9h0M156.8 126.5h0M130.1 216.0h0M79.9 162.3h0M86.4 132.5h0M186.1 136.4h0M170.7 148.0h0M120.9 143.6h0M110.5 162.0h0M132.0 147.1h0M84.0 171.0h0M166.2 123.0h0M106.5 158.4h0M221.9 157.9h0M117.5 146.0h0M81.9 131.8h0M99.1 153.2h0M88.5 135.1h0M140.6 217.6h0M107.9 180.3h0M147.0 157.0h0M141.8 189.3h0M71.6 153.1h0M168.8 143.8h0M134.2 182.1h0M96.4 165.6h0M86.6 192.7h0M71.4 133.0h0M115.5 128.7h0M161.9 166.8h0M102.4 118.2h0M129.3 134.4h0M168.5 185.4h0M81.8 132.1h0M73.4 114.4h0M126.0 139.9h0M74.5 125.8h0M176.5 138.2h0M133.3 134.8h0M88.7 167.1h0M191.8 124.3h0M73.2 234.6h0M101.9 146.5h0M196.3 144.6h0M74.0 145.9h0M90.7 171.6h0M207.0 136.5h0M137.2 155.7h0M116.8 150.7h0M92.5 163.5h0M121.5 147.7h0M156.5 144.0h0M191.5 153.6h0M78.6 162.3h0M94.7 185.4h0M120.4 129.7h0M97.1 159.5h0M191.4 171.0h0M120.3 156.8h0M89.2 213.2h0M167.8 147.7h0M97.0 133.3h0M83.7 211.2h0M94.5 155.8h0M112.9 149.1h0M117.6 148.9h0M76.7 164.4h0M116.8 150.9h0M99.5 164.8h0M269.6 130.2h0M76.6 164.8h0M84.4 176.2h0M109.0 186.1h0M161.5 151.2h0M75.5 193.8h0M179.4 168.6h0M90.4 146.6h0M73.8 197.0h0M122.2 152.5h0M98.9 155.4h0M72.3 161.9h0M135.1 135.8h0M80.8 142.5h0M129.2 217.0h0M127.2 209.6h0M79.6 154.6h0M121.4 136.8h0M127.0 121.4h0M119.9 133.9h0M188.2 133.1h0M198.5 160.7h0M87.6 147.1h0M103.3 143.4h0M105.1 153.3h0M242.0 130.8h0M84.0 172.6h0M93.0 192.8h0M123.2 168.7h0M207.6 127.2h0M186.3 154.6h0M102.3 156.1h0M176.1 112.7h0M72.4 133.7h0M150.5 151.9h0M133.9 130.6h0M112.4 145.6h0M71.6 155.5h0M181.2 153.1h0M95.6 146.7h0M79.1 125.4h0M211.7 122.8h0M116.3 130.5h0M78.3 175.0h0M95.7 154.1h0M93.1 144.9h0M136.9 170.8h0M119.4 152.3h0M98.0 166.2h0M206.7 154.3h0M164.6 156.5h0M114.0 122.2h0M124.7 136.9h0M77.6 154.5h0M182.0 147.2h0M141.6 164.5h0M102.2 158.4h0M101.2 130.8h0M139.3 148.4h0M92.5 162.2h0M104.4 183.6h0M188.1 147.6h0M73.4 140.3h0M135.3 177.4h0M81.5 151.8h0M119.3 187.5h0M111.8 144.6h0M138.6 146.9h0M155.7 152.0h0M116.7 172.3h0M185.0 148.5h0M84.8 181.4h0M117.9 154.3h0M124.6 187.8h0M155.5 136.9h0M252.0 101.8h0M171.8 141.6h0M94.6 143.8h0M227.4 135.0h0M90.7 177.5h0M82.2 144.5h0M179.7 176.5h0M148.5 141.8h0M100.4 142.8h0M98.2 124.8h0M100.1 146.9h0M74.7 172.2h0M174.8 142.5h0M93.4 156.4h0M126.5 171.8h0M232.1 139.2h0M125.8 151.4h0M182.3 139.8h0M91.0 197.5h0M123.4 111.0h0M72.5 159.2h0M222.7 150.4h0M258.4 156.8h0M103.9 121.7h0M229.6 140.3h0M130.0 198.5h0M146.1 199.1h0M92.1 148.3h0M115.2 166.7h0M168.5 149.1h0M84.9 151.2h0M142.2 220.1h0M136.5 145.7h0M134.3 174.1h0M116.2 159.0h0M143.6 133.7h0M82.7 194.9h0M209.3 104.5h0M122.3 144.7h0M78.6 169.8h0M73.7 147.3h0M76.9 147.3h0M101.6 134.3h0M72.7 151.6h0M91.1 147.4h0M119.6 201.0h0M165.3 142.9h0M107.5 148.8h0M159.1 180.1h0M134.9 135.7h0M180.8 148.7h0M147.2 125.2h0M110.5 147.1h0M135.5 153.1h0M94.5 141.6h0M79.0 126.8h0M85.3 153.6h0M134.9 136.2h0M189.1 140.7h0M100.9 179.9h0M73.5 165.3h0M167.4 132.9h0M140.1 143.5h0M206.3 137.5h0M95.4 163.1h0M243.4 103.9h0M127.7 162.0h0M94.7 151.9h0M78.0 183.8h0M93.4 168.0h0M100.7 132.4h0M92.6 174.4h0M76.2 147.6h0M154.7 140.3h0M178.8 162.9h0M107.3 211.4h0M107.9 153.5h0M82.6 63.4h0M97.6 171.4h0M179.0 177.3h0M202.5 109.5h0M154.4 147.0h0M82.3 157.1h0M85.3 158.6h0M171.7 154.8h0M175.4 124.3h0M79.7 171.4h0M91.7 153.0h0M88.7 155.4h0M155.8 157.3h0M209.3 121.2h0M175.0 171.7h0M79.2 199.1h0M102.6 161.6h0M100.9 142.3h0M149.6 140.1h0M88.6 162.6h0M132.6 131.4h0M95.8 139.4h0M116.9 144.5h0M77.7 132.3h0M133.3 167.7h0M162.2 139.9h0M124.5 131.4h0M189.2 145.4h0M81.6 157.0h0M130.3 150.9h0M147.7 162.0h0M174.3 125.8h0M71.3 171.5h0M108.1 180.2h0M177.0 127.6h0M98.3 169.2h0M80.8 131.4h0M131.0 146.7h0M73.5 142.4h0M73.2 138.2h0M125.4 141.4h0M158.8 180.6h0M214.3 131.7h0M166.0 132.2h0M106.3 169.5h0M124.8 141.0h0M72.6 136.6h0M102.7 181.8h0M83.9 167.6h0M135.5 147.1h0M101.8 132.3h0M124.1 130.3h0M80.1 143.3h0M183.3 158.4h0M142.4 157.4h0M145.0 132.3h0M195.0 126.6h0M101.2 147.0h0M100.3 159.1h0M145.7 147.3h0M136.1 188.5h0M80.5 161.9h0M95.1 137.3h0M106.3 144.7h0M218.1 193.1h0M107.2 149.6h0M127.0 160.6h0M117.4 169.2h0M178.9 181.8h0M74.6 185.3h0M87.5 184.8h0M75.0 162.0h0M114.5 190.9h0M131.5 115.0h0M114.7 152.9h0M181.3 146.9h0M73.4 141.9h0M72.4 178.2h0M167.1 144.2h0M201.7 111.3h0M72.0 141.2h0M75.5 154.9h0M184.5 153.0h0M265.8 156.8h0M126.4 147.7h0M80.5 159.0h0M95.9 132.6h0M130.8 153.4h0M170.7 141.8h0M131.9 155.9h0M134.1 133.0h0M188.2 210.2h0M83.5 160.8h0M94.3 136.1h0M97.4 116.9h0M193.8 143.2h0M143.6 155.7h0M72.1 175.7h0M83.1 214.1h0M79.5 145.7h0M130.4 146.3h0M79.8 174.9h0M97.8 161.8h0M71.7 133.5h0M127.4 185.4h0M79.1 157.9h0M74.2 169.5h0M112.9 178.7h0M150.8 139.9h0M74.9 149.1h0M132.2 158.8h0M93.4 137.1h0M168.6 155.5h0M72.7 160.0h0M181.9 130.6h0M108.7 183.3h0M119.3 153.0h0M162.6 121.5h0M101.4 162.1h0M92.9 146.1h0M168.0 183.7h0M120.1 177.7h0M94.1 141.9h0M115.9 120.5h0M102.0 205.0h0M74.1 158.8h0M159.3 158.7h0M124.0 145.3h0M72.1 152.7h0M194.2 127.5h0M138.9 144.7h0M118.8 152.1h0M79.2 162.6h0M90.4 183.2h0M203.3 143.6h0M133.0 138.4h0M156.0 190.4h0M91.8 170.0h0M98.1 174.5h0M95.4 174.2h0M78.9 154.3h0M87.1 183.4h0M128.8 153.2h0M155.1 162.2h0M71.6 172.5h0M98.3 156.1h0M81.7 126.9h0M92.2 160.0h0M89.1 122.2h0M151.6 131.6h0M91.1 162.6h0M154.6 124.0h0M115.9 143.1h0M99.8 142.8h0M118.8 165.8h0M171.6 127.9h0M78.2 122.5h0M107.3 156.8h0M125.1 180.6h0M141.8 130.4h0M79.8 151.5h0M90.1 239.6h0M109.9 202.0h0M140.7 155.9h0M76.6 140.5h0M166.0 122.7h0M100.9 141.4h0M137.2 126.1h0M227.1 131.8h0M94.2 114.4h0M94.9 134.0h0M179.4 112.0h0M223.6 129.2h0M136.9 157.6h0M154.1 139.2h0M172.2 141.6h0M74.2 153.8h0M96.4 168.1h0M163.3 170.8h0M123.7 170.2h0M81.4 144.9h0M108.8 127.1h0M145.7 175.4h0M95.9 131.1h0M226.3 99.5h0M102.3 156.2h0M110.6 195.7h0M117.2 133.0h0M89.3 157.2h0M107.4 223.2h0M152.9 130.4h0M128.3 203.5h0M217.8 173.2h0M259.3 121.9h0M152.3 160.1h0M204.6 146.5h0M162.8 162.0h0M78.9 153.1h0M127.6 108.7h0M79.5 185.3h0M124.5 181.0h0M98.9 147.7h0M112.6 153.5h0M193.9 131.9h0M127.7 138.1h0M121.9 152.2h0M160.9 153.5h0M76.8 169.6h0M145.2 139.3h0M144.5 160.5h0M226.9 138.7h0M215.4 133.4h0M152.2 161.4h0M195.1 121.6h0M91.8 181.0h0M90.0 149.4h0M111.7 187.3h0M137.4 155.0h0M117.6 188.1h0M120.8 196.7h0M204.9 137.8h0M76.2 142.7h0M83.5 155.0h0M116.8 163.8h0M81.1 151.7h0M148.1 166.6h0M166.0 137.0h0M147.5 159.9h0M91.2 228.0h0M82.1 165.2h0M149.9 156.1h0M200.0 134.7h0M101.2 117.3h0M93.8 141.8h0M85.7 125.8h0M159.2 160.6h0M188.0 116.9h0M147.0 138.8h0M107.3 161.1h0M73.6 135.3h0M139.1 158.2h0M81.5 162.2h0M126.5 160.0h0M116.0 163.8h0M94.9 151.9h0M130.2 171.0h0M211.9 192.2h0M136.5 136.0h0M120.4 164.2h0M79.5 160.6h0M104.2 123.9h0M206.6 147.4h0M146.9 181.9h0M166.6 148.2h0M92.0 143.2h0M83.5 134.9h0M109.2 156.4h0M88.6 148.8h0M175.9 155.4h0M153.5 199.7h0M119.0 131.6h0M150.2 125.5h0M120.1 150.5h0M227.4 128.0h0M86.9 141.6h0M169.2 182.4h0M151.6 126.7h0M117.1 149.2h0M75.3 165.5h0M208.2 137.3h0M108.7 133.5h0M152.7 129.8h0M75.2 157.0h0M90.0 139.9h0M87.2 154.8h0M112.6 160.2h0M198.0 117.1h0M87.0 160.0h0M107.0 146.2h0M150.8 125.4h0M104.9 172.6h0M179.9 161.4h0M113.0 135.7h0M132.5 114.9h0M86.0 153.2h0M142.7 127.3h0M82.8 162.4h0M75.8 161.4h0M209.6 136.0h0M80.4 166.0h0M108.5 153.7h0M143.4 127.2h0M79.0 157.4h0M104.9 128.0h0M93.8 166.4h0M122.8 153.2h0M99.1 181.7h0M94.7 165.1h0M76.8 207.2h0M89.0 173.2h0M93.6 171.4h0M155.4 131.2h0M100.6 179.2h0M127.0 113.5h0M158.5 139.1h0M114.6 129.2h0M159.4 135.8h0M151.4 148.5h0M226.4 150.7h0M134.9 156.0h0M115.5 146.4h0M86.7 161.4h0M160.0 164.8h0M93.5 154.6h0M190.5 136.4h0M113.5 168.5h0M88.6 149.5h0M82.2 92.7h0M174.5 117.2h0M179.5 110.6h0M95.8 140.0h0M105.2 159.3h0M92.9 162.0h0M193.9 117.1h0M211.3 191.8h0M114.6 160.8h0M94.3 186.8h0M122.5 189.3h0M164.6 157.5h0M164.9 124.7h0M84.9 199.7h0M258.8 136.6h0M127.8 151.0h0M78.9 149.4h0M134.7 164.5h0M114.3 160.7h0M81.1 136.9h0M74.3 190.3h0M118.2 187.1h0M108.7 165.8h0M102.2 163.7h0M174.7 142.9h0M78.7 163.2h0M121.3 154.6h0M80.6 160.2h0M128.5 158.8h0M78.5 176.5h0M190.0 173.1h0M107.0 140.2h0M86.2 131.9h0M118.5 101.1h0M111.2 127.0h0M120.6 150.0h0M126.0 138.2h0M142.6 128.2h0M114.2 167.0h0M71.1 150.8h0M134.2 128.3h0M83.0 149.5h0M215.6 137.6h0M207.0 148.1h0M86.8 154.8h0M84.1 149.5h0M93.4 146.4h0M82.6 193.3h0M102.9 146.5h0M203.5 171.2h0M157.3 128.2h0M133.3 144.1h0M146.0 98.7h0M81.1 154.0h0M166.3 126.3h0M121.9 118.7h0M81.7 157.5h0M92.4 145.4h0M129.9 143.5h0M168.4 142.8h0M147.4 170.0h0M164.3 136.9h0M75.6 150.9h0M156.0 123.5h0M92.8 135.2h0M92.7 173.9h0M97.9 166.8h0M93.7 173.2h0M137.9 142.8h0M92.3 160.6h0M122.8 224.0h0M87.3 130.1h0M181.4 147.2h0M77.3 157.5h0M136.1 151.0h0M104.3 200.8h0M201.5 123.1h0M82.9 137.6h0M144.0 138.3h0M154.2 198.4h0M124.8 139.7h0M98.5 172.9h0M75.5 153.2h0M84.2 148.8h0M78.3 159.7h0M90.2 223.5h0M104.8 199.8h0M228.6 131.1h0M95.0 169.0h0M242.2 156.5h0M161.4 176.9h0M150.8 145.9h0M184.2 185.7h0M191.8 167.3h0M71.7 179.3h0M150.3 149.4h0M81.3 141.8h0M102.1 129.8h0M147.4 147.1h0M184.2 109.0h0M186.1 123.8h0M200.9 146.0h0M92.9 154.7h0M113.7 164.8h0M95.3 142.6h0M142.0 150.1h0M120.0 180.2h0M171.2 150.7h0M76.4 181.4h0M88.8 145.9h0M181.8 127.2h0M114.1 130.0h0M100.6 148.5h0M236.7 140.5h0M93.2 125.4h0M110.9 143.0h0M86.9 151.1h0M233.1 119.3h0M247.5 143.1h0M99.9 187.1h0M81.7 236.5h0M128.6 159.2h0M76.9 146.5h0M170.6 181.0h0M84.5 183.0h0M71.5 162.0h0M124.6 141.2h0M183.8 173.7h0M137.9 129.0h0M188.7 143.9h0M94.5 156.7h0M191.4 141.6h0M74.4 147.2h0M80.6 160.0h0M100.2 153.3h0M167.1 140.8h0M89.0 152.8h0M74.2 142.3h0M92.0 155.2h0M170.3 136.8h0M142.4 144.5h0M152.0 144.9h0M120.6 202.2h0M118.2 173.8h0M101.0 150.8h0M89.2 157.2h0M80.5 148.0h0M121.7 196.9h0M200.3 124.5h0M146.9 158.2h0M121.5 149.9h0M127.7 149.5h0M97.2 158.6h0M133.2 128.6h0M96.3 149.5h0M172.9 153.2h0M74.2 164.0h0M142.6 128.2h0M92.7 160.3h0M94.0 154.5h0M167.0 145.9h0M89.8 149.1h0M145.2 126.6h0M228.9 123.8h0M158.2 163.6h0M110.3 136.3h0M207.0 189.2h0M115.5 117.1h0M148.7 154.8h0M106.1 111.9h0M164.7 172.3h0M167.2 122.0h0M75.1 225.6h0M159.2 122.6h0M117.4 173.8h0M87.7 179.7h0M122.7 139.7h0M97.1 147.0h0M93.0 158.9h0M111.0 133.9h0M91.4 171.7h0M97.7 147.1h0M158.5 143.4h0M109.5 174.8h0M194.6 170.6h0M87.5 159.5h0M80.7 155.4h0M79.5 177.2h0M90.4 139.6h0M171.2 165.9h0M94.0 156.3h0M123.9 145.3h0M99.1 133.0h0M74.3 133.4h0M121.1 136.0h0M94.3 227.5h0M108.3 173.7h0M196.1 166.8h0M130.3 168.1h0M73.6 170.4h0M83.2 180.7h0M104.3 159.4h0M81.0 211.2h0M183.2 149.5h0M112.2 157.6h0M97.7 141.5h0M98.3 173.1h0M213.9 175.9h0M187.5 119.0h0M93.9 132.2h0M149.4 134.9h0M82.6 169.0h0M105.3 137.5h0M93.3 138.6h0M79.3 143.6h0M172.2 153.0h0M102.0 183.2h0M102.2 186.4h0M102.6 117.4h0M248.8 130.1h0M72.3 141.0h0M74.0 168.2h0M154.5 145.1h0M152.3 144.1h0M91.2 149.3h0M194.3 158.2h0M154.3 148.9h0M85.2 156.6h0M94.3 183.7h0M95.7 139.1h0M106.8 186.1h0M161.0 171.8h0M156.4 122.4h0M145.5 131.8h0M112.9 150.6h0M146.7 144.6h0M90.1 157.9h0M95.4 164.3h0M77.2 156.3h0M87.3 150.0h0M94.9 126.1h0M83.4 171.9h0M87.8 152.0h0M102.1 155.1h0M134.9 140.7h0M122.0 150.8h0M82.6 135.3h0M113.3 148.2h0M123.5 136.2h0M98.8 147.4h0M80.2 161.5h0M109.4 157.6h0M90.4 153.8h0M148.5 131.3h0M78.6 159.7h0M252.2 141.6h0M86.8 144.7h0M110.4 157.4h0M109.3 183.9h0M89.6 128.4h0M172.8 151.2h0M99.7 137.4h0M84.9 154.5h0M132.2 152.7h0M73.1 152.1h0M241.9 138.7h0M203.7 142.3h0M182.5 119.8h0M121.9 140.6h0M118.9 172.8h0M114.8 155.3h0M140.9 118.9h0M107.8 148.9h0M97.9 144.8h0M118.6 160.9h0M74.7 150.0h0M94.9 141.1h0M113.1 127.5h0M136.7 182.5h0M237.5 138.6h0M194.4 106.6h0M102.0 129.6h0M99.5 174.4h0M82.6 171.9h0M162.3 104.4h0M221.8 139.6h0M78.4 150.5h0M75.9 177.0h0M168.9 139.4h0M161.8 133.4h0M86.1 132.3h0M106.7 183.0h0M78.0 170.2h0M95.6 198.1h0M95.5 170.3h0M86.6 167.7h0M97.3 184.2h0M123.3 182.4h0M80.6 118.1h0M116.8 187.0h0M216.6 110.6h0M101.6 157.8h0M91.4 145.1h0M99.5 115.3h0M148.7 127.1h0M152.3 149.8h0M89.7 132.0h0M116.7 144.8h0M82.4 143.7h0M88.9 148.2h0M138.5 136.6h0M71.9 173.2h0M130.2 148.3h0M176.9 209.2h0M110.9 132.8h0M187.9 114.6h0M104.9 140.8h0M76.7 145.5h0M245.6 147.2h0M80.2 158.2h0M120.9 165.1h0M74.1 167.3h0M198.3 162.4h0M134.1 163.5h0M101.8 132.2h0M78.0 147.2h0M81.0 137.0h0M194.1 158.4h0M218.5 186.3h0M160.5 149.9h0M71.1 153.6h0M163.5 156.2h0M143.3 136.4h0M248.8 117.2h0M184.8 151.8h0M77.7 145.6h0M115.0 176.1h0M118.6 176.6h0M94.4 152.5h0M73.4 177.2h0M224.8 131.8h0M180.5 144.9h0M233.0 135.8h0M220.7 176.1h0M131.5 163.9h0M71.6 180.5h0M159.6 134.1h0M226.3 157.4h0M97.2 144.7h0M114.3 112.5h0M90.4 126.3h0M86.8 166.8h0M126.8 153.4h0M79.2 165.1h0M172.0 150.4h0M97.6 144.1h0M71.6 188.4h0M153.8 119.9h0M73.6 126.3h0M200.1 140.5h0M86.1 152.5h0M119.4 132.2h0M179.1 158.1h0M101.8 175.1h0M78.9 146.2h0M95.4 218.7h0M173.8 113.3h0M79.2 175.5h0M92.1 144.6h0M103.4 149.8h0M134.9 124.4h0M98.5 153.6h0M99.4 154.2h0M137.6 190.0h0M147.2 155.0h0M185.3 149.7h0M197.6 134.0h0M105.9 141.9h0M71.5 166.1h0M119.1 131.7h0M77.6 136.4h0M114.8 180.8h0M87.5 171.9h0M90.4 202.0h0M86.5 224.8h0M143.0 136.0h0M114.5 162.1h0M95.2 229.7h0M155.8 126.4h0M93.0 159.5h0M158.7 143.1h0M168.8 128.5h0M143.5 137.9h0M174.7 127.4h0M159.1 152.7h0M113.9 156.2h0M190.4 157.5h0M187.3 117.6h0M116.4 131.0h0M162.3 123.5h0M110.4 145.6h0M85.6 146.0h0M161.4 142.0h0M86.5 142.4h0M93.9 158.0h0M139.0 133.4h0M89.8 128.0h0M143.2 133.5h0M167.2 119.3h0M195.5 116.2h0M149.9 175.1h0M147.6 131.7h0M107.6 153.0h0M164.3 149.9h0M90.4 153.2h0M205.2 122.4h0M124.3 163.3h0M207.3 122.3h0M152.4 171.2h0M138.9 147.0h0M193.1 158.4h0M78.5 186.2h0M85.9 156.9h0M173.0 166.5h0M71.9 195.1h0M150.3 132.6h0M85.0 146.1h0M169.5 136.8h0M92.6 173.3h0M245.0 131.2h0M187.3 184.2h0M142.8 147.2h0M83.6 145.9h0M98.5 163.9h0M147.3 124.1h0M159.9 145.1h0M137.6 162.1h0M111.9 124.3h0M190.4 133.8h0M133.7 162.7h0M76.2 184.6h0M176.5 127.6h0M96.5 167.9h0M104.0 111.5h0M118.2 152.1h0M173.9 190.0h0M109.0 161.5h0M163.8 183.4h0M74.9 159.6h0M74.1 181.7h0M167.6 148.3h0M87.4 159.1h0M160.2 148.6h0M142.5 147.8h0M80.3 182.4h0M107.3 153.3h0M86.9 127.1h0M147.4 143.8h0M204.7 189.6h0M190.0 115.2h0M214.1 111.3h0M218.0 122.1h0M150.9 166.3h0M117.9 146.6h0M128.0 170.7h0M135.4 165.5h0M74.4 174.0h0M106.1 161.9h0M162.1 139.1h0M159.7 97.3h0M100.5 165.7h0M74.0 181.8h0M103.2 139.3h0M75.8 155.3h0M78.1 149.5h0M138.8 138.8h0M73.7 155.5h0M214.9 170.6h0M100.1 145.5h0M183.9 146.9h0M255.2 119.3h0M201.8 148.1h0M87.4 168.1h0M95.2 139.6h0M162.6 150.0h0M79.6 137.9h0M142.5 112.8h0M104.9 142.6h0M189.5 129.3h0M187.6 198.2h0M87.6 195.0h0M149.2 128.6h0M91.8 141.8h0M115.4 139.8h0M115.9 140.2h0M154.7 144.3h0M106.2 143.1h0M132.0 183.9h0M152.2 153.0h0M139.6 122.8h0M75.0 115.0h0M145.0 158.7h0M108.4 146.1h0M128.0 141.7h0M86.0 193.4h0M130.6 148.5h0M92.0 167.2h0M123.2 166.1h0M78.7 182.4h0M87.3 171.5h0M174.4 135.6h0M115.6 184.0h0M187.7 171.1h0M71.2 192.2h0M246.6 112.6h0M140.4 136.6h0M135.6 154.0h0M172.1 149.0h0M99.5 154.2h0M91.7 207.9h0M112.2 137.8h0M80.1 129.7h0M88.9 212.7h0M138.7 130.6h0M81.1 186.2h0M186.5 138.4h0M177.1 148.7h0M208.9 156.0h0M142.1 133.7h0M127.9 124.5h0M212.3 146.3h0M72.6 163.7h0M89.7 131.3h0M128.7 162.8h0M168.7 153.6h0M140.0 141.0h0M105.2 149.4h0M93.8 156.8h0M99.2 141.1h0M180.5 148.3h0M242.4 112.7h0M80.4 150.6h0M77.0 175.6h0M138.7 88.8h0M87.7 142.8h0M209.3 142.7h0M205.8 120.8h0M131.0 128.2h0M136.5 155.2h0M110.7 124.3h0M204.7 143.3h0M73.8 157.6h0M89.6 164.9h0M75.9 155.1h0M118.9 157.5h0M76.0 145.5h0M81.9 135.5h0M83.6 154.2h0M153.6 114.1h0M73.0 146.9h0M112.7 164.6h0M158.0 129.6h0M125.2 162.8h0M119.8 157.1h0M102.9 140.6h0M144.9 143.8h0M183.0 156.9h0M116.1 169.3h0M109.1 139.1h0M111.0 132.0h0M124.4 148.5h0M105.8 166.9h0M151.2 153.1h0M76.4 128.9h0M175.0 155.2h0M207.8 167.9h0M151.9 166.1h0M199.3 99.6h0M89.9 168.2h0M87.6 157.5h0M77.2 130.9h0M89.4 131.1h0M81.8 178.8h0M234.9 128.9h0M158.3 133.4h0M109.2 191.9h0M99.8 161.2h0M86.8 163.0h0M108.8 167.7h0M77.4 133.1h0M78.4 164.2h0M75.4 149.1h0M120.8 153.3h0M129.0 138.8h0M83.0 168.4h0M111.7 180.3h0M129.3 182.5h0M79.2 163.7h0M152.5 131.9h0M88.7 143.1h0M79.4 154.5h0M208.8 133.8h0M130.8 154.8h0M78.5 127.4h0M101.2 201.8h0M169.4 125.3h0M99.1 153.2h0M160.4 153.7h0M218.7 131.7h0M186.0 152.9h0M81.3 143.1h0M208.1 139.3h0M78.7 132.9h0M159.6 122.1h0M82.2 145.4h0M107.0 131.8h0M72.4 152.5h0M149.0 141.8h0M86.6 157.9h0M91.6 216.7h0M119.0 142.2h0M151.2 195.9h0M95.9 161.3h0M89.0 186.8h0M156.0 153.7h0M122.3 176.3h0M101.3 188.8h0M188.9 124.0h0M114.5 131.6h0M142.0 173.2h0M145.6 159.0h0M124.1 115.6h0M73.9 169.3h0M75.1 148.3h0M169.5 118.5h0M113.6 160.0h0M83.5 145.2h0M129.4 112.3h0M163.5 155.8h0M146.1 115.0h0M83.4 109.5h0M152.6 132.8h0M120.4 151.9h0M121.5 158.5h0M122.7 136.5h0M126.8 161.7h0M104.1 146.9h0M283.5 139.7h0M171.3 197.3h0M147.0 151.4h0M129.9 153.8h0M101.7 139.2h0M117.2 156.5h0M94.8 176.0h0M95.1 149.0h0M77.4 138.5h0M135.2 137.9h0M138.6 162.4h0M95.6 158.5h0M73.6 169.2h0M110.5 156.2h0M84.6 165.9h0M106.2 167.4h0M184.3 144.6h0M130.6 187.7h0M204.6 138.2h0M191.8 150.5h0M122.3 154.4h0M75.0 209.5h0M84.9 131.1h0M93.5 167.1h0"/>
<path stroke="#b9232a" stroke-width="4.3" d="M213.3 172.4h0M194.2 214.2h0M264.8 142.6h0M224.2 142.1h0M222.0 179.3h0M229.3 150.9h0M236.5 160.1h0M232.8 233.2h0M178.6 213.6h0M241.0 134.5h0M161.8 232.6h0M233.1 158.7h0M189.6 185.8h0M250.0 180.5h0M208.5 218.5h0M252.6 133.3h0M234.5 160.0h0M211.9 185.6h0M199.5 183.9h0M204.0 188.6h0M200.6 178.2h0M229.8 141.8h0M244.3 175.0h0M191.4 192.0h0M238.4 194.5h0M248.0 170.9h0M181.3 194.3h0M211.3 168.3h0M191.0 189.1h0M251.1 165.5h0M208.2 195.0h0M242.2 186.2h0M200.1 202.1h0M222.6 157.2h0M198.5 181.7h0M219.2 186.0h0M203.6 183.2h0M229.8 169.0h0M247.3 158.4h0M243.1 177.7h0M245.2 155.1h0M126.2 217.2h0M205.3 194.4h0M257.9 165.1h0M255.7 135.5h0M216.8 184.6h0M203.3 187.1h0M183.8 228.6h0M211.8 145.5h0M291.8 143.4h0M174.6 168.7h0M241.1 150.4h0M234.6 145.5h0M255.2 136.2h0M247.4 127.2h0M250.5 158.9h0M192.2 207.4h0M239.1 163.3h0M246.5 148.9h0M199.0 208.4h0M209.7 186.0h0M167.7 220.3h0M182.5 213.4h0M194.4 197.8h0M204.7 182.6h0M225.5 144.4h0M200.8 180.8h0M229.9 179.7h0M230.2 173.0h0M159.1 243.5h0M243.9 152.7h0M195.5 165.5h0M191.0 199.9h0M219.6 177.0h0M182.4 182.0h0M200.7 206.2h0M179.9 227.7h0M192.9 170.3h0M209.0 176.4h0M177.4 169.8h0M263.9 118.9h0M215.1 194.0h0M221.9 166.4h0M250.9 131.9h0M198.3 195.3h0M264.2 125.9h0M202.6 175.7h0M264.6 169.1h0M228.2 162.1h0M168.9 207.4h0M157.7 227.5h0M168.6 219.7h0M230.8 189.1h0M236.2 161.7h0M197.7 220.3h0M190.1 190.6h0M245.3 161.4h0M275.9 149.4h0M217.2 151.6h0M268.9 143.5h0M208.8 206.3h0M227.1 182.5h0M186.3 192.6h0M183.2 199.8h0M184.0 212.9h0M215.0 159.2h0M272.8 143.4h0M169.1 228.0h0M197.1 206.1h0M201.3 132.6h0M199.7 217.8h0M224.2 216.9h0M248.0 133.8h0M207.9 147.4h0M226.1 169.9h0M238.4 150.8h0M262.3 138.1h0M222.5 203.6h0M176.4 202.8h0M268.9 141.4h0M231.9 197.5h0M233.0 172.2h0M265.5 165.6h0M190.9 177.6h0M196.0 192.7h0M227.5 187.6h0M263.1 136.4h0M223.0 162.2h0M197.1 213.5h0M213.6 172.4h0M223.0 211.3h0M234.2 153.8h0M215.6 185.0h0M241.4 175.1h0M229.5 170.4h0M196.6 212.8h0M216.7 192.6h0M210.8 160.2h0M231.2 145.0h0M182.1 194.9h0M195.6 187.4h0M231.3 153.2h0M197.7 182.0h0M196.6 188.0h0M190.5 201.7h0M191.0 205.3h0M228.5 163.9h0M264.1 143.9h0M230.5 151.7h0M228.4 178.6h0M245.5 162.2h0M238.9 158.8h0M173.8 201.8h0M237.5 151.6h0M212.5 171.2h0M175.3 200.9h0M272.9 152.2h0M243.8 165.5h0M157.8 211.1h0M179.2 229.3h0M208.4 191.9h0M219.2 200.2h0M181.4 232.1h0M175.9 209.9h0M195.5 167.0h0M175.1 258.5h0M203.7 178.0h0M216.7 172.9h0M214.4 181.9h0M251.9 161.1h0M229.0 165.8h0M181.6 226.4h0M253.7 158.9h0M202.1 138.6h0M211.5 148.9h0M215.2 159.2h0M187.3 179.6h0M218.6 163.4h0M185.9 219.9h0M222.8 177.8h0M222.8 174.9h0M229.3 183.2h0M261.1 158.6h0M211.0 175.4h0M198.6 199.6h0M263.1 147.8h0M195.7 198.9h0M189.8 218.9h0M203.7 190.6h0M198.0 199.1h0M183.3 217.7h0M271.6 130.9h0M224.2 182.3h0M214.2 154.2h0M202.8 195.3h0M226.7 171.5h0M194.9 181.8h0M231.7 142.4h0M246.4 153.5h0M149.5 217.2h0M190.8 177.8h0M162.7 222.6h0M201.5 201.0h0M286.1 137.5h0M220.1 172.2h0M208.9 179.9h0M198.5 203.6h0M295.0 119.2h0M200.5 153.4h0M249.7 141.2h0M233.8 150.8h0M238.1 176.9h0M234.4 170.9h0M174.8 195.0h0M212.5 169.8h0M253.2 148.6h0M198.3 203.9h0M193.1 172.2h0M219.6 190.5h0M263.7 133.4h0M198.5 177.8h0M231.5 144.6h0M160.9 198.0h0M191.3 218.0h0M192.9 199.6h0M225.5 193.8h0M233.4 159.8h0M174.2 219.4h0M223.2 184.2h0M218.6 176.4h0M181.5 196.1h0M205.4 206.4h0M201.5 188.5h0M229.8 176.9h0M230.2 201.9h0M211.8 176.1h0M232.3 226.4h0M218.9 208.7h0M218.3 147.5h0M243.2 177.5h0M201.9 198.1h0M198.0 159.5h0M210.3 192.3h0M275.8 148.2h0M245.5 160.1h0M214.2 178.5h0M192.9 213.8h0M209.7 180.7h0M230.8 189.2h0M239.5 181.1h0M227.6 170.6h0M208.6 204.1h0M243.7 127.5h0M202.9 168.3h0M206.4 183.5h0M192.5 197.1h0M226.5 171.6h0M173.8 202.1h0M219.3 180.3h0M276.8 161.9h0M177.6 197.2h0M195.2 226.0h0M259.6 167.4h0M175.3 189.3h0M241.8 159.7h0M238.1 140.2h0M241.5 136.1h0M249.9 152.4h0M236.5 141.6h0M229.5 165.8h0M155.5 209.6h0M237.8 179.1h0M247.4 173.6h0M214.6 170.9h0M177.0 189.6h0M241.7 162.5h0M217.5 175.5h0M213.0 154.8h0M177.7 204.1h0M226.8 172.2h0M232.9 186.7h0M245.0 138.4h0M238.5 133.1h0M192.0 176.3h0M213.2 204.0h0M195.9 200.6h0M157.7 219.0h0M138.1 236.5h0M228.4 167.5h0M217.4 182.8h0M167.7 225.4h0M202.4 204.7h0M218.3 156.1h0M255.9 168.3h0M176.8 221.6h0M220.9 175.3h0M279.8 159.3h0M246.8 147.2h0M150.4 255.4h0M218.6 154.3h0M249.5 152.1h0M205.8 206.9h0M185.7 211.9h0M193.3 178.2h0M283.0 129.2h0M248.7 178.0h0M181.6 204.2h0M192.3 199.4h0M195.9 182.0h0M193.0 187.1h0M245.1 144.0h0M232.9 210.9h0M240.1 164.0h0M183.5 217.5h0M180.9 197.4h0M225.3 189.0h0M246.0 157.7h0M243.2 174.4h0M197.3 150.3h0M153.7 209.1h0M221.7 188.7h0M224.1 156.3h0M237.5 164.6h0M237.6 141.8h0M159.7 223.8h0M293.4 116.8h0M224.7 164.4h0M181.5 201.1h0M202.8 195.5h0M210.2 192.6h0M239.7 168.4h0M243.9 143.3h0M222.7 160.8h0M251.0 120.1h0M237.4 187.2h0M190.2 214.2h0M194.3 202.1h0M263.1 153.4h0M243.2 161.0h0M252.4 155.5h0M215.8 182.0h0M201.9 202.9h0M244.8 123.1h0M185.8 188.4h0M204.7 168.1h0M205.1 199.0h0M209.8 209.3h0M201.7 182.6h0M213.0 172.2h0M254.9 133.6h0M207.4 170.7h0M203.2 200.0h0M244.4 199.7h0M199.8 180.3h0M225.8 174.5h0M165.1 237.3h0M207.8 182.8h0M220.8 186.5h0M254.3 170.6h0M193.0 192.8h0M134.7 220.3h0M215.0 153.2h0M241.3 175.0h0M201.4 191.4h0M221.2 169.3h0M224.9 193.2h0M233.5 147.7h0M226.7 160.9h0M156.8 229.5h0M219.3 198.4h0M143.2 241.5h0M213.6 201.1h0M148.4 206.0h0M247.6 136.6h0M192.4 219.9h0M135.6 153.9h0M108.9 159.9h0M129.0 180.7h0M158.6 174.0h0M98.6 169.2h0M102.1 171.0h0M168.7 159.4h0M117.7 165.8h0M103.3 174.8h0M152.9 171.2h0M104.0 152.3h0M113.7 153.5h0M141.5 147.0h0M127.7 130.2h0M148.2 146.0h0M124.2 185.4h0M127.3 158.9h0M131.3 193.5h0M104.8 157.3h0M146.6 117.4h0M115.7 149.6h0M164.8 178.7h0M150.2 166.6h0M158.0 171.0h0M157.2 166.2h0M167.2 192.4h0M99.8 172.3h0M160.1 184.3h0M138.3 151.7h0M175.6 156.1h0M166.7 208.5h0M127.9 186.6h0M144.1 189.2h0M124.9 221.6h0M103.1 148.0h0"/>
<path stroke="#0f54a3" stroke-width="3.25" d="M406.0 150.4h0M454.7 126.7h0M424.2 152.0h0M416.9 150.2h0M406.3 135.4h0M492.7 138.3h0M410.9 143.8h0M410.5 150.4h0M402.7 173.4h0M472.2 133.4h0M471.5 166.9h0M431.9 138.2h0M492.8 119.8h0M461.0 146.5h0M501.4 123.0h0M539.0 100.7h0M428.7 156.1h0M499.2 118.1h0M427.4 143.0h0M492.3 129.0h0M508.1 109.5h0M447.3 113.0h0M405.5 187.5h0M527.8 116.5h0M412.1 165.6h0M416.2 152.2h0M412.3 166.2h0M425.1 167.8h0M420.6 195.7h0M474.5 107.3h0M404.7 168.3h0M491.4 123.5h0M531.0 80.0h0M454.4 176.6h0M419.5 160.4h0M455.3 169.2h0M547.4 84.3h0M443.4 118.9h0M405.9 160.6h0M469.2 114.7h0M422.8 157.0h0M475.7 156.7h0M488.2 124.7h0M415.5 184.3h0M414.3 141.4h0M425.2 178.6h0M461.6 125.1h0M419.5 156.2h0M442.2 128.5h0M467.0 123.6h0M449.0 115.0h0M470.7 128.0h0M409.1 188.2h0M466.7 116.9h0M424.7 161.4h0M486.1 138.0h0M492.0 171.1h0M468.0 140.1h0M439.0 146.6h0M430.5 127.5h0M480.4 162.4h0M537.1 81.2h0M415.0 176.0h0M417.7 167.3h0M439.5 121.4h0M403.7 135.5h0M492.5 100.0h0M416.8 126.6h0M446.1 190.5h0M507.5 133.1h0M403.6 184.8h0M446.5 137.3h0M567.1 111.6h0M409.5 184.3h0M406.7 170.1h0M428.8 148.7h0M564.5 110.9h0M455.3 155.8h0M405.5 169.1h0M441.7 153.5h0M416.1 170.5h0M411.2 151.8h0M495.0 104.3h0M446.7 119.8h0M514.2 109.9h0M437.1 150.7h0M422.0 159.4h0M432.1 139.2h0M430.3 166.9h0M413.7 158.8h0M529.3 95.0h0M403.2 176.6h0M413.2 159.0h0M474.1 176.8h0M512.6 121.6h0M420.7 161.9h0M440.2 143.4h0M428.6 169.6h0M440.8 128.3h0M502.1 131.5h0M450.4 156.1h0M546.7 85.6h0M429.5 164.6h0M441.6 146.8h0M470.6 134.7h0M488.8 126.3h0M473.0 154.7h0M431.9 155.6h0M614.1 64.2h0M501.1 126.8h0M450.3 139.9h0M404.9 151.7h0M471.9 122.4h0M445.1 127.7h0M404.3 183.4h0M434.6 134.7h0M437.7 145.0h0M488.7 133.5h0M488.3 131.8h0M531.3 103.9h0M422.1 148.5h0M423.7 154.0h0M496.8 124.1h0M497.5 103.5h0M417.9 172.6h0M468.0 193.1h0M451.6 122.8h0M447.7 128.9h0M406.2 157.6h0M465.6 146.3h0M476.9 127.7h0M429.6 154.7h0M470.4 147.2h0M521.2 120.6h0M419.0 173.9h0M411.3 153.5h0M412.4 132.5h0M414.3 184.4h0M497.6 114.2h0M474.0 138.3h0M439.7 139.9h0M490.0 134.2h0M406.6 198.4h0M408.3 172.4h0M463.9 137.5h0M406.8 205.7h0M483.2 142.6h0M460.6 127.9h0M453.0 148.7h0M509.6 120.0h0M489.3 114.6h0M414.0 180.1h0M481.6 176.9h0M426.7 171.3h0M541.6 108.0h0M452.0 196.8h0M483.6 131.2h0M438.3 154.9h0M539.3 73.9h0M571.5 112.3h0M413.1 159.9h0M480.9 129.1h0M408.4 150.7h0M502.2 133.4h0M409.2 158.2h0M450.2 138.3h0M435.2 158.3h0M486.4 108.1h0M509.3 110.5h0M532.8 104.3h0M460.8 128.6h0M478.7 121.7h0M497.2 142.6h0M457.3 183.5h0M424.8 156.1h0M516.0 94.1h0M407.1 152.5h0M488.7 120.4h0M453.4 139.4h0M404.5 137.0h0M430.6 204.4h0M417.1 141.3h0M482.8 122.4h0M416.0 170.3h0M424.8 135.4h0M465.9 124.1h0M407.5 200.6h0M410.8 169.2h0M451.5 114.0h0M447.9 132.2h0M417.0 152.3h0M424.3 143.2h0M420.4 128.3h0M534.7 113.8h0M405.4 152.1h0M417.1 151.9h0M415.2 160.2h0M523.3 140.5h0M506.0 113.5h0M468.3 106.2h0M406.1 140.2h0M475.7 138.7h0M423.1 145.1h0M493.0 105.9h0M487.7 130.2h0M474.3 117.6h0M448.5 132.3h0M471.6 128.6h0M477.3 158.0h0M424.0 132.6h0M546.0 98.4h0M435.4 187.8h0M410.2 173.3h0M496.1 103.8h0M403.3 259.2h0M555.6 79.3h0M439.8 125.5h0M418.2 143.1h0M597.8 63.3h0M409.9 135.0h0M496.2 143.7h0M462.2 132.8h0M414.4 163.6h0M420.9 197.5h0M525.3 102.5h0M532.4 121.5h0M405.0 174.0h0M430.9 151.2h0M454.5 148.7h0M430.1 133.9h0M410.3 156.4h0M456.7 148.3h0M467.3 139.9h0M565.8 65.7h0M410.5 163.4h0M549.6 100.7h0M476.5 130.4h0M425.0 161.7h0M430.2 139.0h0M470.4 149.7h0M450.3 138.5h0M423.2 146.7h0M441.2 148.6h0M432.1 157.2h0M493.5 132.8h0M532.7 105.0h0M421.1 152.5h0M404.3 153.7h0M426.2 204.9h0M431.3 141.1h0M435.9 148.3h0M467.9 104.3h0M413.0 155.4h0M444.1 164.3h0M463.2 139.6h0M406.3 171.7h0M417.8 161.7h0M523.0 126.5h0M508.1 111.0h0M450.5 142.5h0M488.2 113.2h0M492.7 116.7h0M419.1 149.8h0M538.9 114.5h0M441.4 127.7h0M484.9 90.6h0M534.1 93.7h0M409.8 151.2h0M511.3 116.4h0M434.1 165.8h0M532.0 88.1h0M441.6 150.5h0M522.7 101.5h0M522.8 93.0h0M570.4 71.6h0M454.9 144.0h0M502.6 99.2h0M461.2 142.1h0M456.0 165.7h0M489.0 117.8h0M408.2 145.4h0M491.1 119.2h0M499.1 114.1h0M518.9 95.9h0M411.1 205.2h0M543.0 134.2h0M414.5 178.5h0M426.2 150.6h0M445.2 146.4h0M463.4 142.7h0M489.2 115.7h0M429.2 147.1h0M406.6 157.6h0M441.4 186.0h0M442.8 141.0h0M504.6 107.3h0M560.1 80.1h0M603.5 83.3h0M539.8 120.7h0M510.4 121.9h0M419.9 147.7h0M548.1 84.2h0M472.0 113.6h0M494.5 142.6h0M516.5 115.8h0M455.3 121.4h0M456.9 152.8h0M479.5 126.0h0M551.5 120.1h0M422.7 166.1h0M408.6 146.6h0M522.6 76.3h0M424.5 130.9h0M622.0 77.8h0M446.7 137.7h0M426.4 136.5h0M474.5 155.6h0M454.5 165.1h0M462.5 154.9h0M407.4 150.6h0M435.3 156.5h0M407.4 170.2h0M431.8 153.7h0M428.8 154.9h0M449.7 166.6h0M429.3 161.7h0M403.7 164.7h0M412.1 139.5h0M423.4 155.3h0M569.0 84.0h0M472.5 147.8h0M421.9 158.4h0M424.3 164.6h0M454.7 139.8h0M445.5 160.4h0M513.8 96.1h0M548.4 108.1h0M456.7 152.0h0M407.0 187.6h0M601.6 81.4h0M457.8 145.0h0M526.1 103.7h0M495.7 110.5h0M441.8 149.9h0M417.9 165.8h0M434.4 141.2h0M407.9 170.0h0M455.2 153.9h0M407.4 207.9h0M442.6 182.1h0M410.9 177.9h0M519.6 88.1h0M411.1 173.3h0M407.0 147.5h0M451.1 147.8h0M430.4 160.8h0M441.5 134.7h0M433.2 128.6h0M428.9 135.1h0M429.2 170.3h0M465.3 127.8h0M426.5 131.1h0M419.9 164.8h0M508.1 118.7h0M478.4 139.8h0M404.6 147.6h0M438.6 125.9h0M420.8 185.8h0M482.2 112.9h0M522.4 104.9h0M411.9 187.6h0M508.7 98.8h0M436.9 133.4h0M445.2 141.9h0M416.1 149.0h0M444.0 186.0h0M508.2 117.8h0M472.7 105.0h0M445.3 159.7h0M427.5 168.9h0M473.3 147.0h0M423.6 198.4h0M492.1 123.9h0M492.3 109.3h0M489.2 136.1h0M511.7 87.0h0M485.1 132.7h0M518.0 159.0h0M474.7 165.4h0M428.9 189.7h0M407.6 156.4h0M444.5 165.5h0M406.4 174.7h0M453.7 118.3h0M421.5 166.7h0M518.7 99.2h0M495.2 110.7h0M432.3 170.8h0M410.2 135.2h0M425.3 152.7h0M404.9 161.7h0M414.2 168.6h0M442.6 138.4h0M529.6 108.8h0M504.4 157.9h0M476.6 127.3h0M432.5 145.2h0M468.6 142.3h0M534.8 119.4h0M468.5 109.7h0M406.0 158.8h0M453.9 129.2h0M504.7 109.2h0M458.4 133.4h0M422.8 161.3h0M460.0 152.7h0M410.6 156.8h0M516.0 96.1h0M438.5 142.2h0M426.2 138.3h0M475.0 115.1h0M450.3 140.7h0M507.9 79.2h0M462.4 126.8h0M433.8 127.6h0M423.4 147.9h0M407.7 147.2h0M483.8 117.7h0M515.3 112.2h0M447.7 151.5h0M471.8 138.3h0M409.4 187.9h0M462.2 135.5h0M440.2 143.5h0M429.6 159.8h0M458.9 126.0h0M512.9 112.5h0M555.2 152.9h0M429.5 163.6h0M491.5 133.7h0M440.4 142.8h0M450.6 150.5h0M420.6 185.8h0M429.1 157.4h0M593.9 75.3h0M407.7 191.3h0M422.6 162.6h0M446.1 132.8h0M426.0 186.9h0M495.9 167.0h0M431.5 144.8h0M461.1 138.5h0M406.0 147.5h0M453.8 129.8h0M406.2 185.5h0M404.3 157.5h0M423.6 157.0h0M432.3 157.3h0M497.2 131.7h0M498.5 108.8h0M477.2 163.1h0M429.2 142.2h0M436.6 147.9h0M466.8 128.4h0M415.5 176.9h0M528.6 92.9h0M557.9 94.7h0M489.8 110.0h0M490.7 114.4h0M522.9 96.6h0M410.0 141.8h0M513.5 133.7h0M542.9 112.2h0M411.0 153.8h0M426.9 144.4h0M419.9 154.3h0M425.5 170.1h0M450.8 134.8h0M499.2 121.9h0M504.9 147.8h0M435.0 158.0h0M460.0 125.7h0M440.2 147.3h0M457.7 137.6h0M433.2 131.2h0M519.4 83.7h0M588.4 101.2h0M403.6 138.4h0M420.9 200.5h0M405.7 173.0h0M441.0 142.4h0M557.2 109.8h0M421.9 154.5h0M618.4 78.6h0M465.0 112.2h0M446.8 180.0h0M465.5 117.8h0M465.1 174.4h0M436.4 132.1h0M428.8 158.9h0M434.7 182.1h0M452.3 127.8h0M490.5 131.7h0M440.1 125.3h0M408.3 156.6h0M503.6 110.8h0M485.0 109.8h0M466.4 126.1h0M496.3 119.0h0M513.4 102.8h0M407.3 165.6h0M496.1 125.4h0M416.9 157.1h0M423.3 168.7h0M419.9 168.7h0M441.8 152.7h0M428.1 133.0h0M406.4 173.7h0M436.1 160.8h0M405.9 170.9h0M406.5 151.4h0M514.9 114.6h0M452.9 125.8h0M434.8 144.4h0M540.1 94.8h0M474.7 171.2h0M405.3 171.5h0M437.8 145.7h0M506.6 139.2h0M418.1 140.1h0M430.1 149.6h0M481.1 151.3h0M427.3 212.8h0M409.2 165.9h0M534.2 103.1h0M436.3 149.0h0M428.1 136.7h0M506.2 111.7h0M448.8 162.4h0M421.6 132.3h0M425.7 155.7h0M440.3 133.1h0M408.4 155.2h0M452.6 136.0h0M422.5 156.3h0M458.6 152.2h0M456.4 143.4h0M414.5 167.4h0M498.0 118.4h0M479.7 105.7h0M414.4 154.6h0M487.7 127.9h0M471.2 179.3h0M467.3 131.5h0M451.1 108.6h0M524.9 122.4h0M488.3 117.4h0M476.7 104.7h0M436.4 137.5h0M412.8 153.0h0M422.2 170.5h0M417.4 195.4h0M496.8 109.7h0M414.1 207.6h0M412.6 186.9h0M411.6 170.1h0M423.5 152.5h0M533.3 93.2h0M518.6 94.7h0M450.1 189.5h0M525.5 98.4h0M421.9 157.1h0M403.4 142.2h0M417.5 148.8h0M478.0 147.4h0M415.0 152.1h0M408.4 150.0h0M438.9 161.3h0M416.8 139.0h0M413.2 166.8h0M502.2 102.5h0M419.5 152.9h0M430.4 159.0h0M469.0 135.5h0M409.6 186.4h0M438.9 144.1h0M566.3 121.0h0M439.3 217.9h0M456.4 111.9h0M484.2 141.7h0M434.4 177.4h0M418.6 191.1h0M587.8 94.1h0M564.6 95.6h0M412.8 185.7h0M415.0 171.2h0M410.4 151.0h0M425.2 154.4h0M431.7 142.2h0M411.2 160.2h0M469.7 135.0h0M407.3 193.9h0M495.1 133.0h0M524.0 79.4h0M409.5 155.7h0M427.0 149.6h0M430.2 131.9h0M578.7 98.7h0M469.3 123.0h0M433.2 167.2h0M458.7 115.4h0M409.0 158.9h0M421.7 132.7h0M410.1 148.7h0M520.5 125.0h0M484.2 136.7h0M411.7 146.1h0M465.5 124.6h0M492.1 138.8h0M430.9 175.2h0M522.6 124.1h0M434.1 152.0h0M407.9 164.3h0M415.1 131.2h0M437.6 148.0h0M425.1 147.6h0M406.7 165.5h0M430.0 149.6h0M425.4 132.4h0M418.4 170.4h0M413.4 146.6h0M442.2 144.2h0M430.3 175.6h0M416.9 172.6h0M461.1 136.7h0M411.7 144.5h0M561.2 92.3h0M457.6 145.2h0M426.5 128.7h0M504.6 98.0h0M423.8 157.7h0M447.3 121.6h0M466.1 129.3h0M413.8 168.0h0M436.1 137.9h0M435.0 131.2h0M423.8 159.4h0M460.4 158.9h0M425.6 197.9h0M524.3 99.8h0M409.5 161.8h0M431.8 167.2h0M420.1 154.6h0M431.4 143.9h0M417.9 141.0h0M409.9 170.2h0M453.7 142.0h0M410.4 172.0h0M611.3 59.0h0M460.5 140.1h0M449.2 130.5h0M430.7 147.2h0M415.3 164.7h0M413.8 163.8h0M409.7 158.5h0M411.0 183.8h0M448.3 135.9h0M436.3 145.5h0M408.0 159.2h0M414.8 184.1h0M447.3 145.4h0M413.0 153.4h0M485.0 160.8h0M462.4 132.8h0M448.0 113.0h0M480.8 130.7h0M479.3 143.4h0M443.0 158.1h0M422.8 178.6h0M421.3 171.2h0M550.6 97.1h0M411.5 149.0h0M427.9 142.5h0M422.6 171.1h0M411.7 180.0h0M465.5 167.4h0M490.6 125.5h0M502.7 94.1h0M472.4 132.6h0M490.7 179.3h0M504.9 101.4h0M453.6 143.3h0M484.1 141.4h0M433.8 189.3h0M443.7 129.8h0M464.4 153.0h0M416.8 164.3h0M414.3 147.6h0M411.6 164.9h0M420.3 166.0h0M434.1 163.5h0M411.7 149.8h0M450.6 138.7h0M489.2 130.4h0M415.9 188.3h0M442.9 174.1h0M434.1 160.1h0M539.6 117.2h0M472.5 137.0h0M416.4 188.3h0M490.1 93.3h0M440.2 141.4h0M537.2 95.0h0M407.1 158.1h0M443.9 176.2h0M493.9 143.1h0M424.1 159.9h0M420.9 152.8h0M403.2 181.9h0M403.6 142.6h0M426.3 170.1h0M450.3 113.4h0M428.4 148.5h0M432.4 156.2h0M404.7 182.3h0M481.7 111.3h0M489.8 153.9h0M427.5 174.5h0M425.0 130.5h0M468.0 159.8h0M435.5 139.3h0M470.8 116.1h0M516.5 101.5h0M406.9 154.5h0M533.7 84.5h0M480.4 105.4h0M451.1 160.7h0M489.5 130.6h0M429.0 152.6h0M444.5 181.4h0M419.8 154.1h0M411.0 157.6h0M428.9 137.5h0M407.5 146.2h0M430.6 186.4h0M435.2 145.6h0M581.2 52.8h0M503.7 91.5h0M410.1 156.5h0M403.8 172.6h0M407.4 148.7h0M411.2 169.6h0M441.1 133.8h0M427.5 168.9h0M430.8 166.2h0M425.0 136.2h0M504.7 153.7h0M478.1 172.5h0M571.3 79.8h0M563.7 67.1h0M420.1 165.3h0M441.9 125.0h0M418.7 188.4h0M521.2 105.9h0M411.2 177.1h0M508.8 122.3h0M510.7 114.7h0M512.9 101.5h0M484.9 150.5h0M461.8 154.8h0M535.2 95.3h0M436.7 156.3h0M411.7 168.1h0M407.7 186.1h0M408.0 169.6h0M428.5 184.9h0M531.7 95.1h0M479.8 134.2h0M453.5 139.1h0M408.4 165.8h0M463.2 139.4h0M403.5 153.6h0M563.3 73.1h0M458.7 131.1h0M408.6 178.5h0M553.8 74.5h0M447.7 131.3h0M427.1 161.6h0M480.3 144.1h0M499.7 144.0h0M419.6 156.0h0M487.8 112.6h0M451.9 148.6h0M407.3 140.0h0M408.9 153.5h0M403.6 175.1h0M406.9 182.0h0M423.0 167.1h0M552.1 83.3h0M406.5 185.5h0M544.2 112.9h0M494.4 103.4h0M473.7 120.7h0M423.2 187.4h0M413.8 185.3h0M433.8 160.2h0M436.7 135.9h0M409.9 146.8h0M417.4 144.3h0M423.7 149.8h0M413.5 130.3h0M403.5 159.7h0M468.7 112.3h0M444.5 129.5h0M439.7 153.4h0M430.3 131.8h0M419.7 130.2h0M434.1 141.3h0M491.2 115.7h0M495.7 107.7h0M442.4 115.9h0M411.8 174.9h0M432.7 165.7h0M447.8 147.3h0M439.7 178.2h0M440.4 140.4h0M405.0 165.7h0M568.7 79.3h0M442.3 139.3h0M448.8 123.1h0M473.0 136.9h0M474.9 135.4h0M425.3 167.4h0M527.4 102.4h0M432.3 162.4h0M447.7 140.4h0M451.1 172.3h0M529.4 104.6h0M450.5 137.8h0M457.3 144.0h0M411.2 150.5h0M417.0 175.0h0M476.8 154.3h0M472.8 160.3h0M416.6 149.4h0M416.7 163.6h0M464.2 132.5h0M415.2 133.4h0M420.6 149.3h0M538.3 79.9h0M417.3 158.5h0M404.1 147.7h0M450.4 142.2h0M426.1 154.6h0M446.7 140.6h0M413.6 145.8h0M471.6 103.5h0M449.1 142.9h0M406.7 168.3h0M445.8 158.6h0M404.4 159.4h0M470.3 121.0h0M498.6 115.3h0M562.7 102.9h0M406.9 180.9h0M492.5 139.6h0M418.0 140.6h0M555.8 101.7h0M412.8 159.5h0M494.9 122.2h0M455.3 137.3h0M463.6 139.5h0M475.5 110.9h0M462.7 107.1h0M434.1 159.8h0M431.9 161.8h0M428.1 209.6h0M423.7 150.3h0M448.4 143.9h0M444.4 174.2h0M404.2 149.8h0M473.4 137.6h0M575.0 80.3h0M484.0 107.0h0M458.2 189.3h0M440.8 143.8h0M462.5 124.0h0M415.3 198.4h0M416.0 141.8h0M460.1 137.4h0M499.8 119.9h0M461.7 118.0h0M446.1 154.4h0M438.2 160.0h0M416.8 153.8h0M521.2 127.3h0M436.3 135.3h0M439.3 169.1h0M472.7 125.4h0M424.8 129.0h0M402.9 179.8h0M470.4 124.0h0M407.6 182.8h0M423.8 143.5h0M416.4 173.1h0M418.2 172.9h0M424.3 168.8h0M450.4 161.7h0M446.0 143.9h0M498.6 89.5h0M434.6 187.7h0M414.1 142.0h0M461.7 128.0h0M465.0 125.0h0M412.0 182.9h0M466.9 131.5h0M425.2 161.9h0M548.9 83.8h0M505.4 122.1h0M467.1 128.8h0M487.8 122.8h0M469.1 162.3h0M403.6 161.4h0M403.7 169.1h0M496.9 127.4h0M533.0 64.4h0M481.4 146.2h0M430.3 159.0h0M407.9 142.4h0M450.4 143.8h0M545.8 102.5h0M437.0 152.0h0M422.3 176.5h0M410.7 162.8h0M414.2 195.7h0M506.4 125.0h0M479.5 133.9h0M521.9 106.2h0M420.7 155.2h0M456.0 171.1h0M439.4 188.3h0M410.7 158.0h0M448.1 140.9h0M441.4 138.3h0M430.0 146.0h0M481.8 159.2h0M420.8 148.2h0M417.5 165.6h0M495.7 96.1h0M482.8 139.9h0M528.5 104.5h0M474.6 111.4h0M474.2 122.2h0M512.5 114.3h0M407.7 164.1h0M517.5 100.9h0M412.8 147.0h0M421.2 175.0h0M466.6 132.2h0M523.6 97.2h0M495.6 113.6h0M458.7 129.2h0M512.8 119.0h0M423.6 186.5h0M473.7 138.5h0M538.4 91.3h0M405.8 139.9h0M491.3 119.2h0M533.1 79.7h0M558.3 93.6h0M478.6 132.0h0M501.4 122.5h0M598.6 83.1h0M448.5 161.4h0M492.6 131.4h0M468.5 146.1h0M413.3 180.3h0M508.0 99.2h0M429.3 133.7h0M508.0 130.8h0M435.7 134.9h0M531.4 96.8h0M425.2 152.4h0M411.1 182.9h0M414.5 158.2h0M405.8 177.8h0M415.4 151.5h0M409.0 171.0h0M424.2 162.5h0M425.0 146.5h0M423.2 196.4h0M442.4 156.0h0M443.8 117.5h0M417.3 168.4h0M480.6 205.5h0M411.0 172.5h0M505.8 106.9h0M497.0 132.3h0M412.4 148.0h0M492.8 116.8h0M454.4 135.6h0M452.7 195.1h0M468.2 147.3h0M473.7 117.1h0M452.1 137.9h0M405.8 164.2h0M470.8 116.8h0M507.6 112.9h0M523.0 121.2h0M494.6 149.0h0M444.8 121.0h0M438.9 141.8h0M491.3 112.4h0M409.2 159.7h0M412.3 173.8h0M433.8 145.2h0M458.9 121.4h0M413.2 145.0h0M406.2 135.6h0M434.0 142.0h0M405.7 202.5h0M439.5 156.6h0M409.4 132.2h0M415.2 146.6h0M444.5 151.2h0M476.8 126.1h0M427.4 122.4h0M432.0 143.6h0M414.5 148.4h0M501.5 128.8h0M420.5 143.5h0M404.9 183.7h0M527.5 112.8h0M519.8 99.9h0M477.0 137.1h0M404.5 164.0h0M428.3 149.4h0M478.1 104.1h0M483.1 115.6h0M411.7 143.0h0M495.0 105.4h0M431.1 151.5h0M428.5 127.2h0M418.4 194.4h0M469.4 115.3h0M468.6 185.8h0M438.5 124.7h0M434.9 167.8h0M410.0 191.6h0M443.7 129.0h0M454.9 136.0h0M421.5 148.4h0M443.6 123.8h0M449.2 134.3h0M409.5 159.2h0M414.8 137.9h0M404.2 178.3h0M431.1 148.0h0M488.3 122.2h0M419.3 161.7h0M418.6 151.1h0M418.7 154.1h0M494.6 130.9h0M455.4 130.3h0M578.3 72.9h0M451.3 181.7h0M495.0 103.5h0M471.6 182.5h0M426.9 194.5h0M427.5 189.4h0M469.1 137.0h0M416.5 160.8h0M464.5 206.8h0M468.5 163.9h0M420.4 161.5h0M525.0 99.9h0M470.3 139.4h0M422.4 174.7h0M404.8 177.1h0M466.7 123.5h0M452.0 133.4h0M579.8 76.6h0M439.1 205.5h0M418.3 196.0h0M448.2 145.1h0M456.6 129.6h0M412.8 165.4h0M444.8 141.5h0M589.3 91.7h0M408.8 183.7h0M432.0 139.5h0M490.7 111.7h0M482.9 124.8h0M508.8 110.8h0M595.3 74.7h0M434.9 142.4h0M409.6 191.1h0M409.0 189.9h0M451.3 153.5h0M413.5 140.5h0M403.3 154.7h0M411.4 179.6h0M404.9 151.2h0M516.2 111.8h0M455.5 158.0h0M406.3 175.0h0M469.6 115.7h0M406.5 160.9h0M485.8 142.4h0M421.6 165.3h0M486.0 161.6h0M444.7 143.5h0M481.0 123.2h0M427.0 199.2h0M445.7 156.8h0M494.8 109.1h0M420.2 165.0h0M463.2 124.6h0M411.1 166.4h0M470.1 199.9h0M412.8 166.0h0M424.5 133.4h0M431.3 196.4h0M566.0 49.4h0M430.0 156.4h0M425.5 134.0h0M521.7 87.1h0M438.1 158.7h0M412.3 172.1h0M531.6 107.5h0M524.2 70.1h0M420.6 167.9h0M428.1 134.1h0M447.8 150.0h0M490.1 158.2h0M408.3 160.9h0M414.4 162.9h0M436.9 154.9h0M497.6 116.7h0M475.2 139.8h0M423.0 158.3h0M421.8 226.8h0M420.8 154.5h0M440.6 149.3h0M514.7 125.5h0M480.4 135.6h0M469.1 129.5h0M495.1 109.5h0M500.6 83.9h0M561.9 91.6h0M405.7 169.2h0M442.0 134.7h0M440.6 171.5h0M487.4 131.7h0M435.5 134.9h0M437.7 194.2h0M506.2 112.5h0M404.3 158.9h0M558.5 93.0h0M421.4 155.3h0M462.4 132.3h0M497.7 114.4h0M464.2 142.1h0M448.5 156.9h0M413.9 158.6h0M456.2 163.0h0M477.8 164.7h0M422.4 145.4h0M440.3 143.4h0M525.0 103.1h0M404.0 208.5h0M409.6 160.9h0M415.3 158.7h0M458.2 143.7h0M514.6 113.9h0M405.0 152.3h0M409.1 138.5h0M468.9 125.2h0M475.4 135.5h0M523.2 133.3h0M418.1 159.3h0M494.6 161.1h0M483.5 150.5h0M406.7 151.1h0M452.2 190.1h0M437.8 144.3h0M461.8 148.2h0M448.1 137.5h0M462.7 115.0h0M419.5 152.1h0M458.7 127.3h0M440.9 122.3h0M560.6 86.9h0M479.0 116.9h0M420.2 171.7h0M412.0 153.6h0M466.4 123.9h0M538.5 91.7h0M500.0 104.7h0M546.9 109.6h0M506.2 147.8h0M426.6 160.0h0M425.3 140.0h0M430.3 168.8h0M420.9 139.5h0M434.5 142.4h0M430.6 138.5h0M436.1 134.6h0M428.8 145.2h0M473.1 176.2h0M461.9 141.8h0M428.5 148.5h0M478.1 112.5h0M420.1 162.1h0M441.7 189.6h0M428.7 159.6h0M410.0 153.4h0M501.1 116.4h0M441.7 122.6h0M414.1 167.6h0M455.3 131.4h0M404.3 143.7h0M537.6 113.2h0M413.5 154.9h0M440.8 118.8h0M412.0 152.1h0M406.9 150.2h0M403.6 189.1h0M456.8 135.0h0M405.9 212.1h0M461.2 152.4h0M472.0 151.2h0M475.8 117.3h0M432.5 169.5h0M455.0 126.7h0M545.3 104.8h0M451.0 185.0h0M422.9 159.9h0M475.7 149.7h0M464.8 110.1h0M427.4 154.3h0M446.2 121.9h0M448.8 130.4h0M467.2 104.9h0M413.1 165.7h0M415.8 149.5h0M417.9 154.5h0M403.6 145.5h0M480.4 117.3h0M420.1 163.9h0M486.0 107.5h0M405.4 165.6h0M516.0 136.8h0M420.0 191.4h0M476.0 129.4h0M482.9 112.6h0M420.2 159.9h0M450.3 149.5h0M501.5 117.6h0M525.8 113.8h0M423.4 151.1h0M412.9 162.1h0M421.1 151.5h0M471.3 125.4h0M476.4 118.9h0M423.7 158.9h0M429.8 161.1h0M441.7 170.0h0M460.2 131.9h0M459.6 145.3h0M508.3 99.4h0M535.0 101.2h0M427.4 148.0h0M426.4 135.8h0M515.3 86.9h0M420.4 136.3h0M436.4 169.8h0M563.9 98.6h0M577.2 68.9h0M414.6 174.7h0M419.0 154.6h0M471.3 129.3h0M422.3 153.7h0M413.9 160.0h0M427.3 143.3h0M430.2 145.8h0M451.3 116.9h0M433.2 178.2h0M422.9 156.9h0M440.2 140.4h0M424.4 152.6h0M534.8 105.8h0M426.9 154.8h0M425.4 171.2h0M449.2 144.6h0M413.6 158.0h0M504.6 109.3h0M532.5 128.8h0M422.7 153.1h0M442.2 134.2h0M456.1 163.6h0M510.9 111.3h0M445.4 135.9h0M457.4 149.7h0M477.8 128.6h0M422.9 150.7h0M416.9 163.1h0M432.7 151.4h0M427.9 159.1h0M500.2 129.6h0M441.8 180.3h0M505.0 94.4h0M516.9 110.7h0M463.5 152.4h0M530.5 118.8h0M484.4 109.4h0M457.5 150.3h0M457.9 173.0h0M423.7 168.2h0M437.6 142.8h0M442.7 158.9h0M472.1 140.3h0M588.0 96.0h0M488.2 103.0h0M422.6 147.6h0M457.2 114.7h0M429.3 157.5h0M414.8 161.2h0M464.3 139.1h0M420.7 143.3h0M471.3 148.3h0M444.8 133.1h0M476.5 130.6h0M470.3 136.0h0M411.3 165.1h0M459.3 117.1h0M411.6 167.3h0M406.4 172.7h0M462.4 136.7h0M457.8 148.7h0M530.4 82.1h0M434.9 146.8h0M505.7 114.3h0M413.5 202.4h0M459.2 134.7h0M469.5 130.7h0M470.8 152.2h0M423.1 153.4h0M472.1 131.4h0M484.1 145.9h0M426.4 149.5h0M529.9 79.2h0M495.0 125.8h0M414.5 183.5h0M475.3 158.0h0M480.0 133.1h0M529.4 88.7h0M408.1 200.2h0M466.9 141.8h0M422.9 189.3h0M505.1 78.6h0M418.7 164.7h0M449.8 132.4h0M414.7 163.6h0M417.2 140.7h0M461.0 144.7h0M426.4 127.8h0M404.0 185.8h0M468.3 110.7h0M428.3 150.0h0M463.3 143.0h0M457.7 113.6h0M407.4 137.5h0M418.1 146.6h0M442.8 169.5h0M445.3 169.5h0M488.9 122.1h0M443.5 176.0h0M439.1 145.1h0M527.6 132.5h0M493.2 116.9h0M451.8 172.1h0M480.5 117.0h0M475.1 125.9h0M404.6 183.4h0M455.9 144.7h0M406.3 145.1h0M493.2 117.8h0M468.5 132.8h0M405.4 188.0h0M415.7 157.2h0M488.8 154.8h0M427.5 129.7h0M516.4 118.4h0M500.0 94.2h0M416.0 167.2h0M475.0 135.3h0M403.6 159.9h0M414.5 152.4h0M519.8 125.4h0M433.7 161.2h0M408.6 165.2h0M468.2 140.8h0M447.6 168.7h0M582.1 83.8h0M447.2 140.1h0M403.3 156.2h0M430.8 158.4h0M449.3 150.1h0M426.8 150.5h0M537.6 78.8h0M470.0 140.4h0M411.7 172.2h0M475.8 121.5h0M455.5 109.3h0M438.9 152.9h0M568.9 73.8h0M453.4 144.4h0M470.2 150.7h0M463.4 125.8h0M524.3 94.1h0M432.2 150.9h0M410.6 164.2h0M424.8 185.5h0M425.3 146.9h0M436.9 154.8h0M416.7 185.9h0M502.9 95.9h0M404.2 177.5h0M425.3 162.5h0M471.0 137.9h0M413.5 146.5h0M454.7 142.9h0M555.4 146.3h0M445.6 125.7h0M418.3 150.2h0M431.6 125.4h0M505.9 132.1h0M468.9 126.9h0M450.1 152.7h0M413.9 134.7h0M417.1 166.2h0M555.9 96.6h0M508.8 148.7h0M443.6 145.2h0M492.7 100.7h0M411.1 171.2h0M407.4 197.9h0M477.5 113.8h0M443.2 137.5h0M454.9 134.7h0M459.1 121.5h0M525.7 91.1h0M413.5 144.7h0M413.2 190.7h0M475.0 137.0h0M510.2 100.3h0M413.4 159.8h0M426.7 169.6h0M435.6 152.8h0M447.6 144.8h0M501.4 112.7h0M437.5 166.6h0M403.5 160.8h0M451.7 169.2h0M420.5 168.6h0M478.4 143.6h0M504.7 115.7h0M465.4 134.4h0M423.9 132.9h0M545.8 82.5h0M418.0 216.0h0M425.5 156.3h0M420.5 158.5h0M495.2 125.4h0M502.0 129.7h0M414.2 153.8h0M488.6 128.0h0M444.8 159.5h0M507.7 103.6h0M526.6 184.1h0M558.6 91.6h0M406.7 156.5h0M490.6 124.7h0M418.5 174.6h0M485.6 96.1h0M438.8 154.7h0M425.9 153.3h0M476.6 138.6h0M410.7 156.4h0M482.3 112.3h0M424.3 177.5h0M460.9 179.2h0M404.4 156.8h0M505.9 124.2h0M503.8 111.7h0M436.3 134.4h0M451.7 138.2h0M449.5 157.0h0M523.6 75.9h0M406.0 162.1h0M431.6 152.2h0M578.5 84.9h0M461.4 145.6h0M472.1 165.6h0M532.4 106.6h0M411.4 159.0h0M528.2 108.4h0M407.9 149.1h0M488.2 124.6h0M514.1 110.0h0M422.9 152.7h0M523.0 119.4h0M407.8 209.7h0M452.8 136.8h0M457.0 131.4h0M465.9 112.8h0M499.3 135.6h0M467.7 142.5h0M482.6 120.7h0M456.8 128.6h0M412.7 151.5h0M440.8 129.8h0M415.2 173.4h0M448.5 130.1h0M425.9 177.4h0M415.0 182.5h0M444.8 182.3h0M425.9 126.9h0M422.3 150.2h0M487.5 121.0h0M426.0 204.1h0M469.3 127.5h0M486.4 132.8h0M425.1 149.9h0M407.6 196.4h0M478.5 135.8h0M430.2 163.5h0M459.2 135.8h0M488.0 100.1h0M473.4 101.4h0M414.8 227.1h0M607.3 79.4h0M518.3 94.5h0M422.3 177.1h0M485.1 117.3h0M438.7 164.0h0M427.6 159.4h0M415.2 183.0h0M484.3 143.3h0M561.1 73.0h0M509.7 119.5h0M434.3 129.9h0M466.5 128.7h0M415.9 166.4h0M429.9 161.5h0M410.7 174.3h0M448.9 167.2h0M468.5 130.9h0M408.0 149.0h0M462.4 148.6h0M428.9 137.7h0M492.8 96.4h0M448.5 146.1h0M416.4 149.8h0M526.0 75.2h0M405.8 158.8h0M528.6 103.1h0M489.2 110.9h0M492.5 106.4h0M496.7 100.7h0M478.8 108.5h0M451.8 124.0h0M503.6 111.3h0M487.2 128.7h0M513.5 127.9h0M440.8 142.1h0M420.2 152.2h0M423.8 145.7h0M469.2 99.1h0M432.1 147.5h0M517.9 124.1h0M449.6 130.6h0M507.0 98.3h0M434.9 156.0h0M406.8 176.9h0M423.3 154.6h0M439.6 139.1h0M445.5 154.7h0M425.4 126.9h0M426.8 144.8h0M466.6 111.0h0M431.0 152.6h0M447.2 144.8h0M475.8 117.8h0M441.0 130.5h0M407.9 167.9h0M510.0 110.5h0M424.7 137.3h0M535.4 119.7h0M409.6 159.3h0M509.4 115.7h0M420.9 147.3h0M479.8 123.5h0M454.9 105.2h0M522.1 73.5h0M406.4 215.8h0M424.8 143.2h0M594.2 71.1h0M550.5 141.3h0M438.1 138.1h0M439.9 150.8h0M418.7 219.4h0M463.4 121.7h0M449.9 169.3h0M441.0 155.4h0M409.0 183.3h0M439.9 198.6h0M445.6 143.0h0M527.0 88.5h0M435.6 140.9h0M466.4 142.5h0M488.4 104.1h0M428.6 125.4h0M551.0 111.6h0M422.1 207.5h0M470.1 142.3h0M409.0 197.9h0M420.3 150.4h0M456.8 156.1h0M508.4 110.7h0M550.3 128.5h0M436.3 160.6h0M426.2 161.5h0M492.5 110.3h0M519.3 131.9h0M433.3 170.0h0M431.2 163.0h0M411.2 157.9h0M408.4 184.6h0M404.3 155.7h0M446.6 169.1h0M422.1 133.1h0M414.3 191.9h0M404.8 164.3h0M469.7 145.6h0M432.8 169.2h0M413.4 177.5h0M442.8 188.9h0M424.2 192.8h0M447.7 130.4h0M414.2 185.0h0M470.4 132.9h0M414.4 200.0h0M486.9 124.6h0M441.0 166.7h0M439.7 160.3h0M405.1 169.7h0M428.5 135.6h0M408.6 188.8h0M446.8 144.2h0M424.0 181.1h0M431.8 161.9h0M477.4 135.9h0M497.2 105.9h0M444.9 122.5h0M503.7 85.6h0M406.6 167.1h0M409.1 156.4h0M550.4 107.1h0M524.4 153.7h0M411.2 175.2h0M445.1 157.2h0M419.5 232.1h0M409.5 154.0h0M405.1 165.5h0M424.2 150.8h0M406.9 170.3h0M426.0 155.9h0M470.1 125.6h0M418.3 143.4h0M528.0 119.8h0M501.5 91.3h0M408.8 151.0h0M426.9 167.6h0M405.6 147.5h0M572.6 102.8h0M418.6 145.8h0M419.2 188.6h0M424.6 134.4h0M430.1 183.3h0M538.4 98.5h0M468.2 150.6h0M427.1 128.7h0M403.6 158.9h0M473.6 134.6h0M406.0 184.0h0M459.0 177.7h0M440.2 158.4h0M549.9 61.2h0M405.6 172.0h0M449.7 125.3h0M434.9 169.2h0M418.1 166.6h0M431.5 172.7h0M451.4 166.8h0M565.2 101.6h0M528.9 103.2h0M554.6 99.1h0M456.0 133.3h0M436.4 145.3h0M412.6 167.9h0M414.9 144.4h0M476.5 124.8h0M504.1 104.0h0M408.6 187.0h0M490.7 106.6h0M412.0 174.6h0M474.4 145.9h0M417.1 158.1h0M424.7 166.4h0M470.9 155.5h0M420.4 129.6h0M531.9 98.9h0M435.0 139.3h0M508.4 92.9h0M518.6 97.2h0M531.2 136.0h0M464.3 139.0h0M466.1 139.3h0M528.3 111.7h0M407.3 166.1h0M431.7 140.5h0M418.8 139.2h0M471.3 141.3h0M532.6 186.7h0M414.5 163.8h0M482.9 152.3h0M438.8 154.2h0M414.0 135.9h0M536.6 92.1h0M459.0 117.7h0M534.4 102.9h0M480.0 137.5h0M541.5 100.9h0M403.8 196.1h0M451.3 161.6h0M406.3 188.0h0M445.8 154.7h0M419.1 190.6h0M500.2 117.8h0M415.7 152.3h0M446.8 176.1h0M463.0 139.1h0M412.3 152.0h0M506.3 153.5h0M476.4 144.8h0M459.6 203.6h0M411.6 153.2h0M430.4 140.0h0M508.4 127.1h0M443.3 149.4h0M405.9 153.5h0M406.4 173.0h0M445.4 131.0h0M504.1 89.1h0M458.6 125.1h0M510.0 129.8h0M491.7 129.2h0M500.0 115.4h0M500.5 126.1h0M409.1 158.1h0M430.4 156.2h0M505.4 121.4h0M422.1 163.1h0M476.2 124.5h0M414.3 188.4h0M436.9 117.2h0M578.1 118.4h0M411.6 138.5h0M505.4 103.1h0M410.7 191.7h0M484.0 134.6h0M516.8 159.8h0M427.1 162.8h0M406.1 163.7h0M417.3 147.7h0M432.9 165.3h0M415.1 158.3h0M529.2 131.2h0M536.2 111.3h0M424.6 143.3h0M447.8 115.5h0M426.0 167.9h0M475.0 121.1h0M503.2 78.4h0M409.3 164.3h0M427.9 157.8h0M425.6 147.1h0M416.2 166.7h0M421.1 177.7h0M420.1 155.7h0M551.8 92.5h0M440.9 152.2h0M428.3 182.1h0M464.4 133.1h0M412.7 173.5h0M463.6 138.7h0M447.8 175.8h0M526.0 114.9h0M410.2 160.6h0M470.3 132.4h0M427.8 145.4h0M408.1 156.6h0M429.1 181.5h0M455.8 135.2h0M436.5 155.2h0M434.3 161.3h0M433.2 138.1h0M484.1 161.4h0M445.0 134.8h0M440.0 159.8h0M433.4 128.4h0M467.8 175.8h0M467.2 106.5h0M479.4 122.7h0M420.3 153.2h0M453.9 150.1h0M425.0 160.3h0M407.6 157.6h0M464.0 150.2h0M408.9 150.8h0M507.0 99.9h0M409.5 153.1h0M454.9 136.9h0M447.8 152.0h0M510.6 114.6h0M467.2 148.8h0M429.4 151.3h0M525.1 109.7h0M446.2 158.2h0M439.1 168.8h0M433.7 152.1h0M448.1 130.7h0M432.0 147.5h0M429.3 173.9h0M549.9 88.7h0M408.3 150.2h0M430.3 158.1h0M470.9 141.2h0M418.7 180.1h0M415.9 139.3h0M431.9 139.9h0M403.0 156.1h0M453.2 183.9h0M443.4 137.8h0M520.3 124.0h0M432.2 144.6h0M549.8 114.1h0M459.2 135.6h0M509.2 104.1h0M449.7 141.0h0M444.1 149.1h0M427.1 151.5h0M417.8 159.8h0M481.5 149.2h0M407.7 185.5h0M461.8 161.7h0M425.1 137.8h0M463.2 117.5h0M428.7 150.0h0M452.6 115.7h0M404.2 157.1h0M562.4 106.3h0M429.7 165.5h0M455.0 143.1h0M416.6 160.8h0M485.6 184.9h0M496.1 145.4h0M415.2 167.3h0M435.6 162.5h0M433.7 178.9h0M460.3 134.6h0M486.9 149.7h0M447.7 123.1h0M459.6 169.9h0M412.9 159.9h0M420.3 128.5h0M512.7 107.9h0M466.7 140.4h0M416.0 138.5h0M444.3 142.9h0M491.5 120.1h0M434.0 140.7h0M422.3 167.6h0M426.7 157.9h0M468.4 145.8h0M465.8 112.6h0M483.9 117.4h0M409.1 156.1h0M440.4 168.8h0M540.4 114.8h0M431.1 160.5h0M484.4 131.0h0M429.1 186.6h0M452.4 153.5h0M551.7 86.2h0M520.6 110.7h0M425.0 149.7h0M479.9 113.8h0M449.6 161.0h0M403.5 139.9h0M482.1 100.3h0M441.8 113.4h0M413.6 160.4h0M542.8 92.2h0M406.7 158.4h0M440.2 142.0h0M545.8 99.0h0M462.0 140.2h0M423.0 171.0h0M486.4 140.0h0M461.6 148.7h0M587.5 92.7h0M482.0 147.1h0M460.9 129.1h0M415.7 150.4h0M405.4 147.3h0M489.3 125.1h0M410.4 179.8h0M409.8 186.0h0M451.0 162.2h0M460.1 129.1h0M443.0 158.4h0M557.2 94.6h0M429.3 146.3h0M524.2 85.2h0M451.2 138.3h0M406.5 154.0h0M466.3 111.1h0M447.0 135.2h0M508.1 114.7h0M467.6 145.3h0M428.0 131.6h0M411.4 165.6h0M404.3 203.4h0M431.8 175.6h0M448.7 127.7h0M418.8 175.0h0M515.4 113.7h0M403.9 161.4h0M442.1 154.6h0M491.2 111.7h0M427.4 162.2h0M475.9 118.7h0M490.8 96.7h0M482.5 99.5h0M406.8 183.2h0M437.9 140.5h0M428.6 149.5h0M422.3 145.2h0M446.9 144.8h0M416.5 141.6h0M459.9 154.3h0M506.6 103.7h0M464.1 115.6h0M434.9 157.7h0M430.6 167.2h0M499.1 117.2h0M434.8 144.9h0M458.4 155.5h0M488.9 125.7h0M491.0 124.2h0M537.8 89.5h0M500.1 114.7h0M407.7 163.1h0M411.5 193.3h0M513.3 93.1h0M478.9 124.1h0M411.2 146.1h0M408.6 143.2h0M420.8 168.9h0M412.8 152.9h0M413.9 166.0h0M421.4 151.5h0M540.7 95.1h0M444.8 167.3h0M495.7 155.0h0M411.2 182.4h0M416.0 151.8h0M463.2 133.4h0M460.6 136.4h0M447.6 132.7h0M430.7 155.9h0M454.8 143.5h0M413.5 152.5h0M423.4 172.0h0M470.8 115.8h0M428.2 184.2h0M493.6 114.9h0M497.9 116.4h0M416.8 164.6h0M500.2 148.1h0M500.2 125.6h0M427.1 167.2h0M423.2 167.3h0M431.5 124.5h0M418.4 147.0h0M479.2 125.1h0M428.6 196.2h0M497.5 134.1h0M472.6 125.4h0M453.3 140.7h0M463.8 114.8h0M443.9 143.9h0M511.3 148.1h0M506.4 123.3h0M466.5 125.6h0M418.0 142.9h0M542.4 101.2h0M522.3 120.2h0M466.3 123.7h0M508.7 155.9h0M411.5 146.4h0M482.9 137.1h0M412.1 145.9h0M432.5 159.2h0M433.7 145.7h0M564.4 79.4h0M408.7 163.5h0M406.4 142.7h0M471.8 106.1h0M418.8 143.2h0M423.8 166.3h0M424.3 162.2h0M496.1 97.2h0M457.6 151.6h0M436.2 149.0h0M407.1 187.3h0M425.9 156.3h0M412.9 164.1h0M597.6 77.8h0M430.7 157.5h0M445.5 113.6h0M438.8 150.0h0M460.2 117.3h0M431.4 140.0h0M412.9 158.6h0M428.9 158.0h0M408.2 169.4h0M465.3 142.7h0M537.7 136.7h0M513.6 121.5h0M425.8 160.0h0M421.9 146.5h0M427.3 145.9h0M483.2 132.6h0M502.9 98.5h0M513.4 113.7h0M443.7 133.8h0M474.3 129.4h0M457.5 131.4h0M477.3 119.8h0M460.1 135.6h0M442.0 162.0h0M435.8 125.8h0M405.1 161.2h0M489.6 116.2h0M518.3 127.4h0M536.9 110.3h0M415.3 182.0h0M441.2 158.0h0M412.8 155.1h0M407.6 174.9h0M465.0 130.6h0M515.0 145.5h0M580.5 71.4h0M405.3 169.3h0M411.6 140.1h0M436.7 160.7h0M471.0 136.2h0M471.0 119.9h0M453.7 135.5h0M422.4 161.0h0M458.4 153.6h0M428.8 159.4h0M412.2 151.7h0M473.9 156.1h0M450.8 130.4h0M464.8 150.0h0M416.3 149.7h0M438.9 139.0h0M420.3 150.0h0M460.3 164.8h0M408.6 154.2h0M480.3 121.9h0M404.6 179.8h0M572.6 90.1h0M457.7 133.3h0M442.8 118.5h0M478.4 129.4h0M509.5 100.8h0M420.2 163.9h0M421.8 166.1h0M454.0 158.7h0M574.5 88.9h0M419.6 141.4h0M422.7 170.9h0M513.1 102.7h0M424.9 180.0h0M496.7 161.2h0M480.5 133.3h0M447.9 135.6h0M412.6 157.5h0M492.4 118.5h0M436.0 146.7h0M406.3 178.5h0M453.6 198.2h0M458.9 137.6h0M459.8 123.9h0M414.1 140.1h0M501.6 130.3h0M550.4 122.5h0M418.3 154.8h0M510.1 113.2h0M408.7 146.4h0M430.3 168.6h0M481.3 112.5h0M436.9 168.4h0M422.6 142.4h0M403.1 162.6h0M445.6 152.7h0M409.5 151.4h0M446.7 158.4h0M417.9 157.4h0M466.4 130.7h0M463.5 125.5h0M429.1 139.8h0M452.7 147.2h0M429.8 132.8h0M602.7 47.2h0M486.5 88.3h0M446.8 193.7h0M609.7 37.4h0M444.0 166.8h0M424.2 160.4h0M458.2 120.5h0M534.4 118.6h0M498.0 142.8h0M411.1 167.1h0M431.1 162.1h0M464.5 117.3h0M408.7 154.8h0M424.0 134.3h0M507.7 95.0h0M527.9 95.5h0M409.7 139.7h0M416.1 152.8h0M429.3 149.7h0M423.2 129.5h0M475.1 146.3h0M485.9 115.4h0M460.4 117.1h0M412.8 180.8h0M409.0 181.0h0M414.9 153.6h0M420.8 170.6h0M451.1 108.2h0M491.7 122.6h0M494.0 110.9h0M457.4 135.2h0M541.8 118.7h0M403.9 152.9h0M461.7 146.6h0M413.6 169.4h0M458.9 155.3h0M452.3 134.1h0M426.2 145.0h0M545.4 96.9h0M441.4 135.1h0M433.3 150.0h0M550.8 97.5h0M438.3 137.9h0M403.0 178.7h0M442.4 175.5h0M488.2 132.1h0M441.8 166.1h0M471.1 136.5h0M412.1 133.8h0M521.3 117.5h0M511.6 170.5h0M437.0 121.9h0M424.3 157.2h0M410.4 165.7h0M433.4 188.8h0M418.2 140.0h0M437.8 158.4h0M418.7 161.6h0M545.8 114.3h0M413.3 177.0h0M406.6 199.9h0M546.8 91.8h0M419.1 177.7h0M419.6 171.9h0M444.8 178.4h0M549.0 89.5h0M452.2 150.7h0M408.7 154.2h0M437.5 140.6h0M455.4 150.4h0M427.5 152.2h0M448.6 156.8h0M425.1 143.4h0M500.9 125.9h0M453.0 119.1h0M548.8 85.7h0M405.6 143.9h0M465.2 144.9h0M472.9 143.1h0M455.1 155.3h0M446.4 137.1h0M486.5 102.8h0M450.2 138.8h0M447.0 110.3h0M466.4 162.3h0M408.0 166.4h0M412.2 139.4h0M402.8 197.6h0M443.7 137.1h0M436.7 159.0h0M416.5 141.6h0M451.4 193.6h0M467.7 154.3h0M523.7 123.8h0M402.8 195.6h0M476.7 142.7h0M410.0 151.9h0M507.2 117.9h0M457.4 117.0h0M433.0 157.3h0M426.4 151.7h0M436.7 129.9h0M569.7 112.4h0M458.3 135.6h0M410.0 160.6h0M428.4 142.7h0M469.6 146.6h0M471.1 142.2h0M512.2 122.1h0M443.6 128.2h0M526.6 110.8h0M440.0 172.1h0M460.4 139.8h0M569.7 107.7h0M427.9 142.4h0M445.3 158.5h0M611.6 58.1h0M509.2 142.1h0M455.2 142.1h0M503.1 122.0h0M439.8 150.0h0M452.8 124.9h0M428.4 152.7h0M487.5 117.6h0M434.8 153.3h0M427.4 160.1h0M465.2 133.7h0M448.3 129.2h0M431.9 153.1h0M501.9 127.7h0M403.8 153.8h0M435.6 177.7h0M453.5 161.1h0M420.7 197.8h0M428.7 155.8h0M402.8 157.0h0M425.5 180.2h0M459.1 129.7h0M411.9 195.7h0M429.3 140.1h0M427.5 151.4h0M433.2 157.4h0M404.0 183.8h0M413.2 158.8h0M447.2 158.3h0M552.0 100.8h0M468.9 148.1h0M473.8 115.9h0M409.4 147.7h0M422.3 130.5h0M417.1 150.3h0M434.0 206.2h0M409.9 177.2h0M521.5 126.0h0M488.3 137.8h0M478.6 159.2h0M573.6 84.5h0M496.2 121.5h0M469.0 132.1h0M411.8 161.7h0M407.5 162.1h0M408.1 172.9h0M592.9 77.5h0M435.4 142.5h0M443.4 146.9h0M408.6 166.8h0M412.0 165.0h0M571.7 123.0h0M406.4 156.3h0M467.9 114.2h0M442.8 163.8h0M423.8 169.8h0M409.0 204.4h0M427.7 166.8h0M482.7 108.9h0M539.1 118.6h0M414.6 142.2h0M409.8 165.0h0M423.4 138.6h0M601.6 84.3h0M406.6 164.0h0M494.1 143.4h0M519.9 88.2h0M413.6 167.1h0M454.8 180.4h0M438.8 151.4h0M452.5 131.5h0M450.5 152.0h0M464.8 174.4h0M480.0 91.1h0M497.1 111.0h0M420.1 154.0h0M488.2 124.1h0M537.0 93.8h0M537.0 80.6h0M419.3 181.4h0M442.2 183.3h0M437.4 117.2h0M524.7 105.8h0M454.7 155.9h0M463.2 122.8h0M428.8 148.1h0M427.1 131.8h0M500.7 102.5h0M409.3 145.6h0M422.2 141.6h0M454.2 175.0h0M518.8 88.6h0M407.9 165.8h0M423.2 193.1h0M425.0 138.2h0M542.2 109.0h0M407.8 169.9h0M407.0 157.1h0M423.4 164.5h0M541.2 84.0h0M433.0 198.5h0M411.6 176.0h0M416.9 161.7h0M484.1 129.7h0M411.2 134.6h0M555.7 98.8h0M414.1 149.5h0M427.7 155.5h0M424.7 148.3h0M433.4 148.2h0M440.5 115.7h0M502.6 123.8h0M409.8 161.4h0M436.3 177.1h0M492.4 121.9h0M441.5 150.0h0M535.5 80.3h0M456.2 123.8h0M461.7 134.6h0M406.7 159.2h0M409.2 157.7h0M550.2 168.1h0M421.4 170.1h0M419.4 143.7h0M419.2 138.3h0M430.5 178.9h0M406.0 163.5h0M429.6 145.2h0M484.3 127.5h0M466.3 124.8h0M464.9 141.4h0M436.5 141.3h0M432.8 133.0h0M451.0 121.0h0M522.8 105.5h0M411.7 160.0h0M406.9 137.3h0M414.6 203.4h0M468.2 147.6h0M454.5 137.4h0M428.6 157.6h0M452.7 162.3h0M460.2 153.0h0M420.3 162.9h0M525.5 96.3h0M488.4 135.2h0M430.1 136.0h0M403.4 166.3h0M531.5 89.3h0M437.2 144.2h0M549.5 80.9h0M443.6 122.1h0M474.5 162.2h0M454.0 135.4h0M477.8 116.8h0M448.9 143.1h0M519.1 105.9h0M416.9 172.4h0M429.1 152.4h0M464.8 127.9h0M441.3 131.3h0M416.9 168.5h0M450.5 154.9h0M469.0 130.9h0M549.2 104.1h0M464.4 137.6h0M549.4 116.4h0M447.0 140.6h0M453.3 130.3h0M427.9 150.9h0M418.0 143.6h0M423.8 133.5h0M455.2 128.9h0M441.4 227.4h0M411.8 219.3h0M448.5 182.2h0M615.0 68.4h0M416.6 204.1h0M437.7 159.4h0M437.2 137.5h0M570.1 140.4h0M419.2 159.9h0M436.8 143.4h0M409.0 135.4h0M404.1 169.7h0M442.6 116.9h0M504.9 128.3h0M540.8 96.2h0M487.2 99.7h0M433.8 123.4h0M604.8 90.8h0M451.8 196.6h0M404.9 167.4h0M477.5 127.2h0M433.8 141.1h0M469.4 137.4h0M431.5 137.0h0M570.7 108.3h0M507.2 122.2h0M464.0 122.3h0M495.1 108.6h0M404.1 154.9h0M523.2 104.9h0M473.1 123.8h0M443.2 130.7h0M429.5 153.0h0M438.6 132.4h0M474.7 131.0h0M495.7 135.2h0M428.6 183.0h0M406.7 151.8h0M493.0 160.0h0M472.7 112.0h0M427.6 171.8h0M440.4 156.6h0M411.0 166.2h0M460.0 148.1h0M431.3 186.3h0M443.2 140.6h0M535.9 110.5h0M439.4 155.5h0M436.4 197.3h0M409.2 143.2h0M446.0 128.4h0M436.5 146.9h0M421.9 151.2h0M421.6 182.9h0M419.6 185.4h0M425.8 180.0h0M425.3 210.3h0M414.1 144.2h0M453.6 127.3h0M503.4 119.4h0M532.7 108.6h0M512.6 124.1h0M496.4 112.2h0M442.2 149.4h0M461.6 143.9h0M418.7 148.9h0M410.5 196.0h0M423.5 169.9h0M553.1 117.6h0M500.2 125.2h0M469.8 135.9h0M418.1 152.6h0M520.3 114.2h0M509.3 108.5h0M455.5 134.4h0M434.5 168.5h0M414.4 159.7h0M412.7 158.1h0M546.9 134.6h0M490.6 118.8h0M500.6 140.0h0M464.2 133.3h0M429.7 143.8h0M488.3 126.3h0M440.9 139.5h0M403.2 175.0h0M438.0 125.2h0M540.2 78.4h0M406.8 184.3h0M438.1 153.2h0M420.6 161.1h0M422.3 144.6h0M441.1 142.0h0M433.4 172.0h0M484.3 99.8h0M464.0 137.0h0M442.5 175.1h0M565.2 87.0h0M416.5 133.4h0M403.3 158.7h0M438.1 170.3h0M454.0 118.1h0M463.6 134.4h0M408.0 174.0h0M493.2 119.8h0M441.6 145.8h0M409.9 171.3h0M419.8 217.0h0M441.9 130.5h0M402.9 173.3h0M493.9 98.8h0M460.4 169.9h0M453.8 177.1h0M449.4 136.1h0M525.5 116.9h0M476.8 121.0h0M405.1 152.7h0M447.7 139.9h0M420.4 162.4h0M578.7 89.3h0M542.6 119.9h0M405.7 172.6h0M408.0 155.8h0M462.0 122.8h0M413.6 172.9h0M435.0 189.3h0M503.4 92.4h0M494.2 111.3h0M421.2 166.0h0M428.1 191.3h0M446.6 158.7h0M426.8 141.3h0M441.5 163.5h0M460.7 144.6h0M425.6 157.8h0M404.7 169.2h0M418.4 188.0h0M501.8 111.8h0M460.4 102.1h0M403.1 192.1h0M434.3 125.9h0M479.1 122.6h0M465.6 139.2h0M405.4 181.4h0M453.8 146.7h0M417.0 143.5h0M561.1 87.8h0M522.1 99.1h0M521.8 73.0h0M407.7 164.2h0M530.4 115.8h0M561.0 93.1h0M430.2 141.6h0M403.3 166.8h0M480.0 104.9h0M447.4 197.0h0M410.0 162.0h0M490.5 117.5h0M472.0 134.5h0M463.5 150.0h0M477.1 119.3h0M405.2 181.4h0M465.4 132.4h0M453.4 115.9h0M449.0 138.4h0M406.5 162.0h0M438.2 146.7h0M412.9 172.4h0M500.0 120.3h0M436.9 146.4h0M414.5 149.3h0M441.7 138.5h0M509.7 104.4h0M448.0 151.9h0M415.9 202.4h0M406.0 139.8h0M544.0 75.2h0M430.3 152.3h0M430.4 188.3h0M435.8 161.2h0M421.7 166.5h0M409.4 155.2h0M432.4 170.4h0M437.5 141.1h0M488.1 120.4h0M410.9 163.7h0M414.3 156.2h0M463.5 177.8h0M422.9 164.4h0M437.1 160.7h0M490.5 117.3h0M408.9 152.7h0M430.4 162.8h0M419.0 144.3h0M455.1 135.4h0M514.1 115.2h0M480.4 133.4h0M423.0 146.1h0M416.1 176.4h0M513.4 124.5h0M533.6 108.7h0M429.2 161.1h0M415.1 192.6h0M475.9 117.1h0M432.1 149.3h0M506.9 113.9h0M505.5 130.7h0M436.1 144.7h0M483.1 145.4h0M447.6 167.9h0M578.9 84.7h0M403.9 166.2h0M542.3 101.8h0M435.1 138.2h0M422.3 165.7h0M475.4 162.2h0M432.9 153.6h0M444.9 207.8h0M492.5 133.7h0M431.8 155.9h0M480.9 134.0h0M480.2 137.6h0M575.4 87.1h0M475.8 128.4h0M403.7 161.1h0M558.4 105.6h0M458.0 189.5h0M454.7 142.2h0M410.5 202.7h0M505.7 105.1h0M414.3 154.1h0M406.4 193.6h0M517.7 129.9h0M492.3 110.6h0M579.6 95.3h0M405.7 154.4h0M418.3 164.4h0M448.4 153.5h0M409.5 196.2h0M514.1 117.5h0M455.7 115.5h0M413.2 190.1h0M403.5 181.4h0M501.9 125.1h0M417.1 162.1h0M428.3 146.9h0M488.5 122.7h0M453.2 144.7h0M479.2 116.0h0M435.6 139.0h0M532.4 72.9h0M557.6 90.9h0M447.7 149.5h0M589.2 58.2h0M415.3 172.4h0M504.5 115.5h0M446.3 131.3h0M418.8 222.8h0M408.4 154.2h0M549.7 125.0h0M413.2 146.3h0M412.7 160.3h0M459.0 104.4h0M475.4 128.0h0M418.0 145.4h0M510.9 205.2h0M470.7 124.6h0M458.7 146.6h0M423.0 151.3h0M455.0 130.7h0M443.1 149.8h0M413.3 163.9h0M425.8 158.2h0M468.8 145.6h0M483.4 150.6h0M413.5 138.9h0M438.6 128.9h0M467.8 121.7h0M413.5 186.4h0M454.1 137.6h0M420.0 159.3h0M471.2 124.8h0M405.8 155.5h0M459.7 130.6h0M453.6 129.9h0M441.0 155.4h0M478.2 151.6h0M465.6 113.4h0M406.1 153.9h0M405.6 179.1h0M441.8 137.9h0M524.1 107.2h0M460.6 119.8h0M420.0 150.5h0M425.4 138.4h0M557.3 87.3h0M441.0 187.4h0M471.0 127.4h0M422.3 163.7h0M493.5 112.5h0M414.8 147.4h0M434.8 148.9h0M551.4 117.7h0M421.6 166.1h0M427.7 154.4h0M441.0 143.6h0M454.9 162.6h0M433.1 200.6h0M411.9 171.6h0M422.9 158.0h0M414.4 145.9h0M408.7 174.8h0M449.8 149.2h0M487.0 105.6h0M441.7 209.9h0M533.1 112.9h0M410.0 148.4h0M427.1 150.1h0M412.1 161.4h0M421.2 136.1h0M473.4 147.7h0M408.2 156.4h0M444.3 114.8h0M429.7 148.4h0M435.9 158.2h0M443.1 129.3h0M409.8 152.3h0M478.3 138.8h0M412.7 169.0h0M407.5 178.5h0M463.3 150.4h0M472.6 137.0h0M443.0 118.8h0M423.4 142.8h0M537.3 94.1h0M459.1 154.9h0M477.3 149.5h0M403.0 141.3h0M492.8 113.3h0M420.9 159.5h0M413.1 157.6h0M430.4 155.3h0M416.2 184.0h0M408.0 192.0h0M417.7 175.6h0M409.3 165.8h0M421.6 204.3h0M405.8 135.7h0M424.2 190.8h0M443.9 186.8h0M407.4 153.0h0M496.8 122.0h0M428.7 161.9h0M423.0 167.8h0M407.3 189.7h0M505.2 105.2h0M408.7 164.5h0M406.0 195.5h0M412.4 135.8h0M471.8 164.6h0M511.2 111.1h0M415.2 195.4h0M409.9 145.0h0M431.8 160.9h0M419.5 141.5h0M424.6 137.9h0M486.8 142.4h0M417.9 164.1h0M470.5 108.0h0M564.0 106.7h0M412.0 144.4h0M501.5 106.5h0M526.0 115.8h0M445.2 114.2h0M417.9 148.2h0M424.5 151.3h0M489.8 115.2h0M444.6 135.3h0M453.2 144.9h0M564.6 107.9h0M436.7 146.6h0M413.7 137.6h0M429.0 159.7h0M449.3 192.8h0M510.4 176.7h0M453.4 132.3h0M432.3 212.3h0M427.5 146.4h0M457.1 130.0h0M405.7 144.6h0M479.7 120.7h0M431.3 148.2h0M421.1 152.0h0M499.0 128.4h0M487.7 119.4h0M406.0 160.3h0M451.9 130.1h0M409.2 153.5h0M423.0 146.1h0M494.5 114.8h0M410.9 153.1h0M404.0 166.3h0M434.5 203.3h0M487.2 117.7h0M404.5 173.4h0M457.2 145.4h0M412.7 175.6h0M411.1 195.8h0M410.5 153.0h0M406.8 144.3h0M406.2 178.8h0M481.2 135.5h0M415.9 158.6h0M441.7 132.7h0M405.5 146.3h0M484.7 123.9h0M419.2 177.7h0M454.5 165.4h0M466.3 153.3h0M422.8 129.4h0M435.5 132.6h0M411.4 197.5h0M499.0 143.4h0M420.5 140.1h0M475.4 133.1h0M444.0 142.3h0M408.3 142.7h0M414.5 164.2h0M526.6 115.7h0M412.7 156.5h0M453.6 145.1h0M421.1 161.9h0M429.4 157.1h0M457.2 151.8h0M409.2 149.3h0M407.4 165.3h0M419.2 137.4h0M430.4 175.1h0M410.9 134.4h0M441.8 177.6h0M418.2 158.1h0M441.4 148.1h0M491.8 112.8h0M476.0 127.0h0M429.2 137.2h0M426.7 139.0h0M460.5 155.4h0M488.9 113.2h0M451.9 126.8h0M445.2 125.5h0M482.3 104.1h0M418.4 161.7h0M420.3 156.4h0M458.5 138.7h0M411.6 139.2h0M407.5 177.4h0M445.5 145.1h0M424.4 164.2h0M404.9 215.3h0M409.0 164.8h0M471.0 127.9h0M405.8 150.0h0M451.4 133.2h0M444.9 136.3h0M447.8 115.5h0M407.0 159.2h0M427.6 182.8h0M512.9 126.4h0M487.3 129.7h0M495.5 135.9h0M470.7 124.7h0M461.3 147.2h0M556.3 109.3h0M451.6 169.4h0M497.1 90.9h0M423.1 145.1h0M467.5 115.5h0M427.3 171.8h0M414.3 151.7h0M551.5 84.1h0M413.7 209.1h0M451.3 148.0h0M430.9 153.4h0M405.9 187.0h0M584.3 88.1h0M437.0 153.8h0M462.5 152.6h0M449.0 142.6h0M445.6 140.2h0M414.2 154.1h0M460.3 122.1h0M451.0 131.7h0M479.8 132.9h0M422.0 198.6h0M428.2 168.8h0M440.9 131.8h0M568.0 104.8h0M466.5 139.5h0M404.9 169.8h0M449.6 131.8h0M469.1 120.7h0M460.8 138.6h0M456.1 174.1h0M497.3 105.9h0M466.4 150.5h0M456.3 127.2h0M462.1 130.9h0M419.2 151.5h0M416.2 167.6h0M405.2 169.7h0M434.0 122.0h0M487.9 116.8h0M430.6 156.0h0M413.6 141.6h0M494.3 116.9h0M548.6 114.2h0M422.0 124.6h0M448.4 116.1h0M406.4 153.6h0M419.2 175.5h0M479.3 169.3h0M537.2 90.3h0M505.8 124.7h0M512.1 119.3h0M434.2 188.0h0M423.3 140.7h0M475.5 136.8h0M485.7 182.0h0M446.1 131.9h0M441.5 132.7h0M434.6 152.2h0M542.9 92.7h0M584.9 101.8h0M456.5 135.1h0M408.9 146.9h0M473.5 142.3h0M574.0 108.7h0M425.7 160.9h0M420.3 154.8h0M475.7 131.9h0M508.8 129.0h0M564.8 101.7h0M419.6 182.1h0M424.6 139.7h0M402.9 159.0h0M425.9 135.4h0M420.9 147.9h0M461.9 134.2h0M544.4 104.9h0M434.7 170.2h0M416.1 137.1h0M434.0 145.9h0M433.9 146.2h0M445.1 161.9h0M533.9 93.3h0M446.8 165.7h0M431.7 169.5h0M407.9 178.6h0M424.9 153.2h0M426.3 151.2h0M478.9 132.6h0M429.4 127.5h0M435.9 167.8h0M481.9 147.6h0M426.5 176.7h0M432.1 143.3h0M457.4 141.3h0M502.9 121.6h0M443.7 168.0h0M440.3 150.4h0M411.9 165.4h0M521.9 86.8h0M445.3 147.1h0M457.0 154.8h0M562.9 89.0h0M417.1 137.0h0M496.2 124.9h0M470.7 126.9h0M445.1 130.2h0M405.6 134.1h0M404.5 170.9h0M478.7 133.3h0M405.0 151.1h0M404.7 160.9h0M409.6 169.8h0M498.8 104.4h0M436.9 134.2h0M469.5 135.6h0M524.2 116.4h0M470.9 123.3h0M459.0 166.5h0M567.3 146.1h0M420.5 182.4h0M405.5 153.1h0M537.5 95.2h0M474.0 156.1h0M509.4 95.5h0M412.8 150.2h0M516.5 110.3h0M420.0 146.5h0M501.2 107.2h0M449.7 129.0h0M420.5 158.0h0M449.9 132.2h0M500.8 119.6h0M436.2 146.0h0M437.4 134.7h0M452.7 146.0h0M404.6 177.3h0M487.2 119.3h0M587.0 71.6h0M542.3 93.5h0M408.4 185.2h0M410.3 172.2h0M485.5 122.9h0M444.3 128.3h0M468.9 144.8h0M445.2 159.2h0M441.2 168.2h0M426.2 123.4h0M415.5 176.1h0M427.7 135.9h0M437.3 123.7h0M468.4 105.3h0M403.6 152.2h0M525.8 113.5h0M545.9 107.3h0M410.7 136.1h0M533.2 157.5h0M494.4 175.8h0M411.9 174.9h0M402.7 155.0h0M487.1 174.5h0M475.0 123.7h0M492.5 112.9h0M538.3 137.4h0M419.6 131.8h0M504.1 111.8h0M432.5 121.3h0M454.9 182.2h0M497.3 158.3h0M457.7 132.4h0M477.3 124.8h0M421.9 135.9h0M453.2 124.8h0M425.8 155.4h0M408.4 159.8h0M462.7 127.0h0M463.4 142.4h0M475.6 163.4h0M412.2 159.8h0M445.3 137.8h0M529.9 76.9h0M419.0 146.0h0M508.1 113.9h0M425.5 200.3h0M439.6 187.4h0M406.6 181.9h0M467.6 111.1h0M504.1 113.5h0M466.9 130.0h0M444.4 151.1h0M435.4 176.4h0M426.0 134.2h0M410.4 190.7h0M457.2 146.1h0M444.7 125.9h0M572.4 68.8h0M417.4 212.3h0M419.2 161.9h0M547.7 96.1h0M448.2 137.9h0M436.4 131.2h0M475.8 106.0h0M431.3 143.4h0M412.9 172.2h0M433.2 143.4h0M458.8 116.9h0M456.0 134.4h0M552.0 106.2h0M447.6 124.1h0M411.3 132.5h0M469.1 112.3h0M519.2 135.9h0M477.3 155.2h0M448.1 132.1h0M445.6 134.3h0M433.5 189.2h0M408.7 189.1h0M446.4 189.6h0M513.6 101.6h0M522.5 104.8h0M429.2 125.4h0M414.0 165.4h0M493.2 125.1h0M434.5 157.2h0M420.1 153.7h0M422.8 149.8h0M470.6 136.1h0M462.2 102.0h0M435.0 147.5h0M510.4 92.1h0M444.9 162.7h0M415.2 174.9h0M526.0 121.5h0M419.6 170.7h0M538.9 100.2h0M506.2 106.3h0M459.8 128.3h0M427.8 143.4h0M539.8 99.6h0M408.6 172.7h0M412.3 221.0h0M437.1 139.4h0M540.8 114.5h0M421.3 173.8h0M428.7 170.3h0M442.6 155.8h0M414.8 145.9h0M440.1 126.1h0M419.1 165.7h0M412.2 154.6h0M474.8 124.2h0M438.3 146.3h0M425.4 164.3h0M467.2 149.9h0M540.8 81.5h0M443.8 160.6h0M450.8 158.9h0M410.0 160.8h0M497.6 130.1h0M537.1 102.9h0M422.2 151.3h0M411.4 170.0h0M416.7 159.7h0M425.9 138.7h0M425.2 140.4h0M440.6 157.6h0M471.4 128.1h0M442.9 163.3h0M444.0 138.5h0M442.2 139.8h0M423.2 153.0h0M453.3 132.3h0M405.7 156.7h0M410.4 153.8h0M437.4 154.7h0M464.5 184.1h0M456.4 150.4h0M404.0 173.0h0M432.2 138.1h0M477.3 118.2h0M452.0 127.5h0M443.0 176.7h0M454.9 144.7h0M514.3 113.4h0M458.5 134.4h0M468.9 129.9h0M493.1 122.0h0M413.4 182.4h0M476.2 130.3h0M410.7 156.1h0M460.6 130.0h0M455.5 144.5h0M541.3 70.2h0M478.9 102.0h0M437.0 157.0h0M434.8 169.5h0M506.4 111.0h0M531.2 119.1h0M458.2 136.1h0M547.8 101.8h0M425.2 163.6h0M486.5 94.3h0M514.8 102.1h0M503.1 163.5h0M422.5 143.0h0M464.9 128.9h0M429.4 124.5h0M431.8 178.5h0M409.2 140.5h0M493.3 105.2h0M419.2 189.6h0M414.0 167.6h0M570.1 67.7h0M405.1 169.9h0M406.6 160.7h0M503.8 110.7h0M410.1 148.0h0M420.4 170.8h0M406.1 166.5h0M407.6 155.0h0M476.2 149.2h0M412.6 189.2h0M455.9 133.9h0M445.1 127.0h0M444.1 148.7h0M447.8 144.3h0M509.9 89.2h0M437.2 161.2h0M438.1 164.1h0M455.7 212.9h0M532.1 114.2h0M405.0 152.8h0M439.1 173.8h0M434.7 155.1h0M403.5 208.8h0M459.1 132.7h0M536.2 123.2h0M423.4 149.0h0M432.2 146.0h0M493.0 123.6h0M492.2 135.7h0M455.6 114.8h0M518.9 134.8h0M420.9 178.2h0M438.8 138.9h0M506.1 105.3h0M420.3 174.9h0M525.8 115.1h0M519.7 88.0h0M423.2 153.4h0M422.1 148.5h0M416.5 169.9h0M417.5 135.1h0M438.5 169.7h0M405.2 165.6h0M406.7 194.8h0M420.2 216.7h0M412.5 156.0h0M417.0 159.5h0M485.5 135.3h0M415.2 141.4h0M550.9 109.9h0M446.7 140.2h0M419.2 145.8h0M460.6 149.3h0M416.5 139.9h0M405.6 173.8h0M540.3 100.4h0M472.4 133.0h0M409.8 159.3h0M541.3 90.8h0M456.2 107.8h0M441.5 137.8h0M425.3 176.0h0M423.5 164.6h0M406.4 157.4h0M559.4 80.7h0M483.7 110.4h0M487.2 119.0h0M434.9 153.3h0M419.3 152.8h0M406.0 159.6h0M465.3 140.9h0M409.2 140.3h0M420.5 146.1h0M471.7 128.5h0M508.6 174.8h0M514.3 103.1h0M469.4 127.4h0M425.7 165.9h0M444.0 151.4h0M421.6 160.8h0M432.9 171.1h0M448.9 127.7h0M543.7 118.7h0M404.3 201.5h0M404.8 151.8h0M465.0 145.6h0M522.5 125.6h0M436.1 158.8h0M458.5 115.9h0M469.2 144.5h0M434.0 147.0h0M438.1 140.7h0M440.7 167.1h0M406.6 168.1h0M404.7 157.6h0M514.4 92.2h0M424.0 150.4h0M478.5 121.2h0M458.5 127.9h0M483.5 155.1h0M431.3 134.6h0M468.5 124.5h0M491.2 124.6h0M519.6 118.2h0M440.2 146.6h0M502.6 118.4h0M422.1 185.6h0M409.9 158.4h0M436.0 138.9h0M485.6 138.1h0M457.7 155.2h0M443.1 142.5h0M465.8 127.5h0M502.7 156.7h0M419.7 127.9h0M426.5 142.3h0M410.5 166.8h0M441.3 112.7h0M421.3 145.1h0M448.6 174.1h0M424.8 138.2h0M497.8 102.7h0M434.7 141.5h0M418.2 181.4h0M504.1 134.0h0M415.1 141.4h0M408.3 158.2h0M452.9 141.6h0M428.9 132.5h0M431.2 144.6h0M436.3 169.9h0M473.8 152.1h0M428.3 178.9h0M425.9 133.8h0M439.5 144.0h0M411.1 161.7h0M511.5 109.9h0M426.4 130.3h0M418.0 146.1h0M427.2 130.3h0M470.7 97.8h0M422.6 168.5h0M402.9 160.4h0M437.2 124.6h0M483.1 116.7h0M485.4 154.2h0M428.2 181.4h0M420.2 152.2h0M455.1 124.1h0M428.7 142.9h0M438.7 161.3h0M502.0 89.7h0M407.6 167.2h0M486.9 98.2h0M526.2 149.1h0M436.3 172.4h0M454.3 150.0h0M494.0 113.7h0M467.9 160.7h0M452.0 162.8h0M421.2 136.0h0M463.5 111.4h0M405.0 160.8h0M423.3 154.3h0M418.3 169.2h0M446.9 157.1h0M427.7 165.1h0M402.8 204.4h0M541.2 91.5h0M419.6 126.7h0M422.9 177.5h0M463.8 107.0h0M421.6 142.2h0M487.7 134.6h0M510.2 118.9h0M414.3 144.7h0M445.1 131.3h0M404.0 206.0h0M450.0 141.9h0M404.2 152.8h0M528.9 90.9h0M468.3 128.4h0M422.4 137.6h0M456.2 159.0h0M442.1 162.0h0M417.1 211.6h0M412.6 167.0h0M532.4 138.7h0M434.5 151.4h0M574.5 91.4h0M457.9 154.0h0M440.4 127.5h0M410.7 157.4h0M512.3 146.4h0M425.2 159.1h0M429.6 136.8h0M521.1 89.2h0M456.4 110.2h0M523.4 110.8h0M406.9 174.5h0M475.9 119.9h0M407.3 155.3h0M406.0 152.8h0M409.5 135.6h0M440.2 193.1h0M463.6 137.0h0M444.6 124.4h0M453.1 131.7h0M553.4 80.7h0M499.6 123.2h0M409.5 157.3h0M494.3 108.7h0M528.0 110.4h0M444.7 148.0h0M414.1 158.8h0M461.5 152.5h0M484.2 113.8h0M438.8 119.4h0M434.3 171.2h0M470.0 147.5h0M465.5 135.2h0M502.1 118.4h0M474.2 132.7h0M428.7 143.6h0M443.1 152.6h0M432.9 153.9h0M434.7 185.7h0M494.2 126.6h0M477.7 155.6h0M432.0 166.2h0M426.5 142.8h0M406.9 176.1h0M424.2 147.7h0M421.8 155.1h0M463.0 141.4h0M447.5 179.3h0M440.0 155.3h0M416.6 165.6h0M457.6 123.1h0M404.0 161.4h0M410.6 158.4h0M434.5 146.3h0M511.4 151.8h0M509.2 136.4h0M485.7 118.7h0M406.2 215.1h0M464.9 122.5h0M495.1 93.6h0M471.3 137.9h0M418.4 162.5h0M548.5 140.0h0M404.0 139.5h0M465.8 133.7h0M559.1 85.5h0M428.6 155.0h0M441.5 121.1h0M427.3 149.3h0M434.7 151.5h0M409.2 171.5h0M472.0 166.3h0M514.4 125.9h0M443.6 208.4h0M436.4 167.5h0M440.9 185.2h0M402.8 141.1h0M493.2 144.2h0M449.8 133.7h0M433.0 172.7h0M572.7 110.0h0M421.8 159.8h0M417.3 166.1h0M424.7 161.0h0M422.9 133.0h0M426.8 147.5h0M555.2 86.6h0M429.8 146.4h0M404.7 139.6h0M443.8 140.7h0M427.1 174.4h0M422.8 153.8h0M437.7 118.9h0M450.1 133.2h0M423.8 139.4h0M420.3 158.4h0M476.9 138.3h0M453.9 182.6h0M494.6 106.7h0M437.5 152.3h0M430.1 131.5h0M473.2 161.0h0M470.2 169.7h0M406.8 155.1h0M441.8 128.9h0M559.0 74.1h0M428.6 155.2h0M406.8 158.9h0M429.9 144.7h0M403.7 172.8h0M417.9 181.1h0M490.0 118.7h0M436.4 147.5h0M406.2 176.0h0M503.5 115.3h0M464.3 148.1h0M475.1 119.1h0M473.7 139.7h0M498.6 125.3h0M408.2 191.5h0M461.5 130.8h0M506.9 109.8h0M406.0 164.3h0M408.1 161.0h0M422.9 184.0h0M446.8 142.3h0M405.7 188.1h0M431.4 156.0h0M488.0 130.5h0M408.9 170.3h0M449.2 166.4h0M430.8 150.4h0M407.0 165.9h0M488.5 106.3h0M418.5 161.0h0M440.4 144.4h0M435.3 147.8h0M426.0 160.0h0M426.6 152.9h0M477.9 125.6h0M429.1 127.8h0M517.6 91.1h0M434.3 202.7h0M428.1 149.9h0M430.1 169.1h0M425.4 155.9h0M443.8 160.1h0M424.2 138.2h0M421.2 164.3h0M454.2 147.6h0M523.7 114.8h0M425.5 145.8h0M472.2 121.4h0M449.9 140.9h0M467.5 126.5h0M455.9 133.1h0M426.3 143.5h0M508.9 127.2h0M475.3 120.2h0M454.9 135.8h0M422.4 155.7h0M405.4 147.7h0M436.4 144.2h0M439.1 170.7h0M453.1 164.5h0M445.4 129.2h0M429.7 152.4h0M582.7 92.3h0M407.2 170.2h0M453.9 195.4h0M425.3 143.7h0M417.4 188.0h0M411.5 134.9h0M419.1 160.7h0M448.0 135.8h0M413.6 145.7h0M461.7 135.3h0M447.8 160.6h0M511.8 120.4h0M431.1 168.7h0M414.2 160.7h0M439.3 151.7h0M448.1 147.8h0M553.3 89.9h0M414.1 143.4h0M409.3 208.8h0M429.4 141.0h0M421.8 144.0h0M431.9 140.2h0M459.2 138.8h0M403.2 150.1h0M460.6 133.0h0M436.0 123.6h0M497.0 148.4h0M524.4 132.4h0M427.7 170.0h0M406.0 174.3h0M405.3 152.6h0M432.4 139.8h0M406.6 193.3h0M470.3 165.2h0M451.5 120.5h0M446.6 156.2h0M435.9 134.5h0M422.8 170.9h0M410.7 154.1h0M503.1 120.9h0M478.9 130.5h0M443.9 119.9h0M464.6 134.8h0M441.1 151.4h0M418.9 188.9h0M405.6 169.6h0M439.0 136.4h0M411.3 168.4h0M469.8 136.3h0M418.6 182.5h0M443.6 128.1h0M406.9 197.4h0M451.4 158.9h0M404.6 165.2h0M482.7 100.1h0M493.6 107.1h0M602.4 83.8h0M431.0 165.1h0M417.7 166.5h0M456.2 128.8h0M433.2 202.6h0M430.2 174.4h0M441.1 147.3h0M409.4 158.7h0M407.3 158.9h0M417.0 156.9h0M429.4 209.8h0M450.2 123.0h0M468.1 131.8h0M543.4 69.6h0M415.3 176.0h0M459.4 160.7h0M415.7 146.3h0M494.7 134.9h0M412.4 185.5h0M418.2 164.6h0M414.8 190.7h0M427.2 151.0h0M405.4 157.1h0M428.0 169.4h0M414.7 145.2h0M457.7 129.4h0M529.7 102.5h0M484.0 110.3h0M542.7 103.2h0M557.5 94.4h0M564.0 129.5h0M435.4 164.5h0M497.4 116.6h0M428.6 147.2h0M481.3 126.3h0M510.2 128.5h0M423.6 138.6h0M418.3 153.3h0M452.5 153.3h0M404.2 160.8h0M417.8 153.3h0M442.3 138.0h0M492.6 131.7h0M422.1 154.8h0M508.7 119.4h0M433.8 147.3h0M415.2 153.8h0M483.1 133.2h0M426.6 165.8h0M431.5 156.9h0M456.6 141.4h0M423.0 125.9h0M480.9 117.5h0M411.7 150.9h0M426.1 186.3h0M454.8 115.2h0M403.2 171.3h0M412.8 139.1h0M486.0 118.6h0M494.3 119.5h0M458.7 167.3h0M454.9 145.0h0M417.4 175.0h0M445.5 155.4h0M418.3 156.5h0M426.6 165.9h0M419.6 147.1h0M452.0 137.3h0M412.1 170.7h0M412.3 164.1h0M415.6 168.5h0M405.1 175.3h0M514.3 123.2h0M543.8 90.2h0M415.6 180.2h0M410.8 164.2h0M440.9 160.0h0M478.4 139.0h0M435.8 192.5h0M411.5 143.5h0M525.7 90.8h0M417.9 136.6h0M410.3 173.4h0M432.8 194.2h0M457.4 144.1h0M430.1 166.6h0M638.1 81.0h0M451.6 139.6h0M518.5 92.6h0M414.7 171.5h0M437.4 145.1h0M407.0 147.6h0M507.0 80.2h0M448.8 181.4h0M433.7 177.0h0M434.9 160.9h0M480.8 129.8h0M454.7 129.6h0M457.6 148.9h0M459.4 140.8h0M411.7 168.5h0M405.3 171.8h0M419.8 150.4h0M507.8 142.9h0M555.7 118.5h0M429.9 140.7h0M454.2 184.2h0M419.3 169.8h0M423.8 129.1h0M427.3 176.8h0M475.2 129.1h0M441.3 132.1h0M476.2 140.3h0M410.8 140.7h0M416.1 180.3h0M440.6 166.3h0M540.7 140.6h0M414.1 172.9h0M426.8 205.9h0M429.1 141.8h0M506.1 98.7h0M414.5 156.9h0M437.8 157.4h0M465.0 157.6h0M439.4 150.5h0M456.3 133.2h0M483.4 140.4h0M438.3 136.3h0M445.5 135.0h0M421.4 155.5h0M485.6 159.8h0M431.5 147.1h0M425.7 165.4h0M440.7 141.1h0M549.6 103.4h0M436.7 167.7h0M476.9 138.0h0M430.4 162.0h0M566.0 147.8h0M477.6 96.0h0M444.4 136.4h0M597.7 40.3h0M457.0 147.8h0M424.0 152.0h0M414.8 202.1h0M473.6 132.3h0M412.7 152.4h0M438.6 133.6h0M528.1 92.6h0M516.0 127.9h0M469.2 150.4h0M452.0 133.0h0M490.2 119.7h0M474.4 106.2h0M407.0 192.9h0M457.9 124.1h0M451.7 154.9h0M456.1 141.9h0M532.0 80.9h0M429.7 129.2h0M508.8 110.4h0M459.3 148.4h0M419.3 154.9h0M441.3 177.2h0M427.5 129.7h0M418.9 145.1h0M409.6 184.0h0M403.5 149.2h0M422.0 188.5h0M472.6 150.4h0M427.2 143.8h0M526.2 88.7h0M478.6 100.5h0M421.8 140.9h0M472.9 114.8h0M403.6 156.5h0M408.3 185.8h0M518.4 103.3h0M483.2 107.3h0M455.0 128.2h0M460.2 126.5h0M414.7 205.0h0M462.4 148.1h0M408.3 180.0h0M439.9 172.9h0M467.3 133.5h0M434.9 150.8h0M495.0 111.9h0M516.6 105.6h0M408.9 150.9h0M428.5 151.1h0M403.1 202.5h0M523.0 123.5h0M438.2 154.2h0M450.8 137.6h0M480.1 126.9h0M407.3 155.2h0M408.2 170.8h0M502.2 140.0h0M504.2 123.4h0M482.5 124.5h0M470.7 164.3h0M427.1 154.8h0M405.4 173.9h0M460.8 177.5h0M421.3 149.1h0M469.9 104.7h0M419.7 160.7h0M410.8 169.0h0M462.0 122.7h0M403.2 167.9h0M495.4 134.1h0M519.5 126.3h0M509.5 132.4h0M567.4 71.0h0M455.8 130.0h0M475.9 120.1h0M419.3 157.2h0M470.7 121.1h0M442.3 161.3h0M418.0 179.9h0M438.9 163.4h0M470.6 116.0h0M420.3 142.5h0M540.3 135.4h0M415.0 162.6h0M436.1 145.7h0M528.4 93.1h0M421.7 158.7h0M422.5 133.9h0M436.8 154.0h0M596.5 90.4h0M419.3 126.8h0M499.9 91.0h0M407.1 139.8h0M516.3 146.8h0M447.2 166.7h0M461.3 134.5h0M440.1 154.7h0M420.2 161.2h0M416.7 160.6h0M524.5 112.2h0M430.1 137.2h0M491.0 99.2h0M496.9 117.5h0M533.0 102.3h0M455.6 125.7h0M485.2 119.9h0M477.6 96.9h0M456.5 146.3h0M414.6 172.3h0M426.2 170.2h0M412.8 159.6h0M504.3 95.8h0M509.2 104.6h0M478.0 157.7h0M505.5 123.4h0M440.0 152.8h0M437.4 155.4h0M431.6 181.4h0M424.2 159.5h0M413.0 164.1h0M418.7 139.9h0M523.7 87.9h0M420.7 158.7h0M437.4 126.6h0M448.1 153.8h0M406.5 170.9h0M425.2 149.6h0M492.9 113.9h0M403.1 166.9h0M466.6 157.2h0M453.0 139.5h0M480.2 109.6h0M453.2 131.8h0M474.9 137.1h0M558.8 84.9h0M440.2 142.6h0M490.7 122.9h0M447.6 144.9h0M494.9 121.3h0M446.5 164.1h0M425.1 135.3h0M462.6 152.9h0M432.5 153.8h0M418.8 163.7h0M485.9 110.2h0M460.5 169.5h0M504.9 147.1h0M459.4 126.4h0M441.4 199.0h0M520.8 103.3h0M484.5 142.8h0M419.1 210.3h0M497.6 151.5h0M483.9 90.2h0M427.3 151.1h0M439.1 160.9h0M403.5 176.8h0M467.4 148.2h0M548.8 108.8h0M458.9 144.4h0M445.0 135.8h0M417.8 170.6h0M407.0 163.2h0M420.8 152.8h0M458.6 135.0h0M437.4 149.9h0M599.0 71.6h0M437.0 159.4h0M438.1 174.5h0M579.2 122.5h0M412.1 160.5h0M460.7 143.5h0M421.0 164.5h0M489.6 120.7h0M429.5 151.3h0M425.2 172.8h0M406.6 166.0h0M526.3 141.1h0M447.2 163.7h0M443.7 136.8h0M419.4 167.1h0M526.0 109.7h0M457.0 135.6h0M413.2 164.1h0M421.4 189.5h0M453.1 132.8h0M404.6 175.2h0M405.7 175.2h0M437.3 151.4h0M554.2 88.7h0M478.6 113.7h0M495.9 95.5h0M461.0 114.8h0M438.5 138.7h0M443.6 134.6h0M432.5 161.8h0M415.6 156.7h0M447.5 179.8h0M456.7 108.9h0M402.8 164.3h0M458.2 134.2h0M428.7 151.3h0M474.7 132.1h0M450.4 143.7h0M435.4 157.9h0M464.1 141.4h0M467.1 136.5h0M449.2 135.5h0M516.5 98.2h0M459.2 116.0h0M432.1 134.6h0M478.8 115.5h0M441.5 152.0h0M475.7 151.1h0M454.2 121.4h0M448.3 172.0h0M430.2 181.5h0M512.7 115.3h0M433.7 132.4h0M485.4 104.4h0M596.2 59.3h0M415.0 155.2h0M429.2 151.9h0M414.6 180.5h0M496.2 133.9h0M531.5 133.0h0M529.3 120.6h0M490.8 121.1h0M508.4 126.3h0M428.6 169.1h0M452.0 146.6h0M453.3 129.0h0M494.9 104.7h0M480.8 133.5h0M412.2 163.2h0M420.5 160.3h0M470.4 123.9h0M573.5 47.3h0M403.4 172.0h0M405.4 171.2h0M447.8 131.3h0M428.9 178.9h0M419.8 174.4h0M456.7 173.5h0M451.6 147.0h0M499.8 152.6h0M418.0 155.5h0M412.7 147.5h0M435.3 134.3h0M499.3 122.4h0M465.3 111.7h0M490.7 135.8h0M407.9 158.5h0M433.9 141.0h0M405.8 136.4h0M407.8 218.7h0M468.0 125.1h0M404.3 198.7h0M491.8 112.8h0M408.8 162.5h0M432.3 151.2h0M495.8 119.6h0M438.2 140.7h0M448.0 135.2h0M418.7 131.0h0M497.5 114.2h0M499.0 128.2h0M513.9 123.0h0M469.4 144.1h0M428.7 171.7h0M449.9 141.8h0M427.1 137.1h0M508.4 97.9h0M472.1 108.7h0M403.6 165.9h0M439.1 163.4h0M482.1 134.8h0M415.6 198.6h0M518.8 134.8h0M447.1 138.5h0M448.3 139.7h0M405.8 152.2h0M422.3 149.8h0M451.7 166.1h0M484.7 154.6h0M555.9 75.5h0M427.7 131.9h0M417.2 175.2h0M471.4 135.6h0M440.6 131.8h0M414.0 144.3h0M504.9 125.5h0M443.2 138.5h0M461.4 133.5h0M541.1 145.9h0M459.2 108.7h0M426.2 161.3h0M489.1 116.6h0M456.8 134.0h0M458.9 132.7h0M506.1 112.3h0M467.0 141.9h0M454.1 139.4h0M476.0 121.6h0M553.1 74.5h0M408.2 156.0h0M486.5 140.8h0M409.5 157.8h0M478.9 141.8h0M453.4 178.3h0M509.0 116.3h0M527.8 104.2h0M513.9 108.5h0M437.9 160.6h0M420.9 182.6h0M480.6 139.6h0M406.3 207.2h0M448.9 155.8h0M424.7 175.2h0M432.9 132.5h0M437.9 144.6h0M535.4 93.6h0M453.2 125.1h0M431.1 155.8h0M467.8 132.2h0M417.7 158.1h0M451.5 125.3h0M406.2 149.3h0M554.2 80.2h0M472.2 143.7h0M465.6 139.2h0M407.9 155.9h0M516.2 101.8h0M405.6 158.9h0M413.4 165.1h0M418.0 164.4h0M403.3 158.1h0M415.8 181.0h0M431.6 133.6h0M435.1 132.6h0M406.5 143.0h0M441.1 159.0h0M411.1 182.1h0M520.1 100.4h0M501.7 92.5h0M405.4 173.3h0M408.2 158.0h0M418.5 164.3h0M451.9 126.2h0M570.2 81.7h0M410.1 164.0h0M573.1 90.1h0M471.5 117.3h0M427.3 188.9h0M456.0 150.0h0M483.6 118.2h0M404.0 147.0h0M418.7 146.1h0M421.9 142.8h0M418.3 158.3h0M423.7 170.0h0M426.3 146.4h0M521.2 96.0h0M405.5 166.5h0M432.5 156.3h0M526.3 92.4h0M425.5 153.3h0M445.0 151.5h0M434.7 173.3h0M437.8 121.8h0M413.1 141.7h0M458.4 123.3h0M488.6 162.3h0M459.8 152.5h0M422.9 136.8h0M438.6 144.3h0M498.3 113.6h0M459.5 145.0h0M461.5 179.1h0M479.8 115.1h0M424.3 158.9h0M501.9 115.1h0M454.0 124.5h0M460.6 166.3h0M404.4 162.2h0M469.7 129.5h0M568.4 87.1h0M460.0 135.6h0M428.3 157.7h0M411.7 167.4h0M465.7 116.9h0M541.3 69.3h0M431.3 150.0h0M414.8 188.6h0M472.4 132.6h0M512.7 109.0h0M562.2 148.5h0M468.4 133.0h0M407.1 167.2h0M417.0 188.7h0M418.0 140.6h0M418.0 139.0h0M489.6 112.8h0M477.6 133.3h0M461.4 146.3h0M452.8 192.6h0M417.4 145.3h0M466.9 127.1h0M432.3 140.3h0M422.7 175.7h0M411.6 162.3h0M408.8 142.8h0M445.1 129.6h0M422.3 163.5h0M512.3 113.3h0M403.5 162.3h0M440.3 154.6h0M447.4 126.4h0M428.2 172.6h0M496.5 121.6h0M454.1 132.4h0M460.0 120.9h0M410.3 202.9h0M511.0 108.3h0M437.8 140.1h0M452.6 121.8h0M443.6 148.3h0M469.5 151.1h0M501.3 101.9h0M444.1 144.9h0M439.2 139.6h0M455.4 138.1h0M419.3 157.1h0M481.9 122.8h0M443.9 134.1h0M476.7 151.3h0M431.4 156.5h0M440.5 149.6h0M422.6 171.9h0M430.8 160.3h0M416.6 167.2h0M448.2 136.4h0M458.5 120.5h0M441.8 117.9h0M502.2 124.0h0M431.6 167.8h0M411.2 190.7h0M487.6 121.2h0M453.0 161.4h0M442.8 146.0h0M416.1 191.8h0M516.6 107.4h0M510.8 91.3h0M457.7 143.8h0M448.3 168.7h0M458.6 123.2h0M437.3 152.9h0M513.8 124.6h0M424.5 149.7h0M484.7 142.0h0M453.4 154.3h0M507.4 124.6h0M437.7 159.0h0M479.9 170.5h0M448.1 148.9h0M434.3 172.0h0M485.0 148.5h0M447.1 120.1h0M422.3 174.3h0M440.3 128.8h0M463.7 151.3h0M409.2 188.8h0M461.6 151.7h0M452.6 145.6h0M456.3 163.0h0M425.8 180.1h0M476.9 118.0h0M544.0 75.4h0M444.9 195.5h0M491.1 119.5h0M410.7 139.2h0M417.0 191.9h0M589.1 75.3h0M449.0 138.3h0M405.1 192.4h0M412.3 164.3h0M462.1 123.0h0M410.7 189.6h0M539.7 111.4h0M560.1 69.5h0M534.6 122.9h0M500.9 113.3h0M447.9 116.6h0M487.1 101.8h0M419.2 156.2h0M433.7 149.0h0M492.2 119.4h0M426.6 147.4h0M494.4 129.7h0M466.8 146.1h0M407.5 158.1h0M421.3 139.6h0M422.2 177.4h0M483.1 124.7h0M421.3 151.7h0M463.4 141.8h0M420.5 155.2h0M482.9 151.3h0M424.4 154.1h0M414.6 158.8h0M451.0 163.2h0M502.9 113.8h0M505.0 160.2h0M420.5 179.1h0M466.5 134.1h0M541.9 107.3h0M404.8 152.3h0M517.3 94.9h0M471.6 125.8h0M511.7 117.9h0M453.1 179.0h0M429.0 151.2h0M493.2 111.8h0M407.4 165.1h0M518.1 130.3h0M403.7 221.7h0M442.0 155.6h0M508.8 115.9h0M449.8 140.1h0M577.1 80.3h0M475.7 123.0h0M467.4 130.3h0M561.4 89.3h0M556.8 56.1h0M409.8 189.6h0M414.2 190.3h0M459.1 111.1h0M433.8 161.5h0M403.3 156.1h0M512.5 119.5h0M439.4 164.4h0M406.5 161.8h0M483.3 108.9h0M405.6 145.9h0M440.1 125.7h0M504.2 99.5h0M458.3 149.4h0M409.2 157.6h0M497.9 95.9h0M439.7 158.7h0M408.1 148.4h0M453.5 134.6h0M465.2 118.4h0M430.0 166.1h0M458.9 158.0h0M457.1 115.9h0M485.9 160.4h0M426.6 167.3h0M480.2 139.9h0M416.1 153.9h0M429.9 161.0h0M456.9 117.1h0M429.1 165.2h0M507.3 108.5h0M541.5 101.5h0M432.7 129.0h0M427.0 163.6h0M421.8 157.8h0M445.1 146.1h0M445.0 171.5h0M507.5 85.1h0M457.9 165.1h0M461.9 142.6h0M403.5 200.3h0M429.9 205.3h0M430.6 181.6h0M408.3 147.4h0M461.5 143.8h0M462.1 140.6h0M523.1 90.8h0M493.1 101.1h0M501.5 100.5h0M463.5 120.1h0M489.4 133.5h0M532.9 105.7h0M421.8 145.7h0M529.1 97.5h0M417.4 144.4h0M568.0 89.3h0M403.7 188.5h0M444.8 136.2h0M419.6 165.5h0M447.7 148.8h0M419.1 167.0h0M465.5 141.7h0M481.6 162.8h0M424.0 151.7h0M423.5 167.1h0M503.5 130.8h0M446.6 129.4h0M541.4 104.1h0M448.9 109.3h0M451.4 164.3h0M407.5 183.8h0M554.5 119.9h0M428.9 135.3h0M525.7 139.6h0M449.7 162.9h0M429.0 158.0h0M548.3 110.6h0M409.9 157.1h0M429.0 156.3h0M451.8 132.8h0M435.9 185.0h0M447.5 130.4h0M453.5 185.9h0M458.1 156.9h0M429.4 138.9h0M434.3 198.8h0M425.5 155.5h0M414.9 181.1h0M403.7 215.6h0M426.6 202.2h0M449.4 139.0h0M454.6 129.8h0M411.2 166.0h0M405.4 200.2h0M484.9 102.7h0M420.0 181.3h0M444.5 136.2h0M469.8 132.1h0M456.1 123.2h0M495.6 134.2h0M458.3 147.0h0M437.7 158.4h0M549.1 82.5h0M545.9 112.5h0M457.3 143.1h0M464.9 129.7h0M455.9 190.6h0M410.7 152.5h0M449.2 120.4h0M548.4 125.8h0M421.7 168.1h0M472.5 146.4h0M448.7 144.8h0M445.3 128.4h0M404.1 169.6h0M458.5 125.6h0M494.3 110.6h0M450.5 135.1h0M500.2 150.7h0M487.3 119.8h0M410.3 152.8h0M407.5 198.2h0M508.1 90.8h0M453.0 113.4h0M425.1 169.7h0M520.6 106.7h0M447.1 155.6h0M408.5 156.8h0M452.8 135.5h0M458.1 139.3h0M412.8 177.0h0M541.3 88.7h0M423.8 133.9h0M477.6 123.0h0M432.4 146.5h0M530.2 158.6h0M494.5 111.3h0M433.4 130.8h0M467.3 137.5h0M402.8 198.2h0M429.3 132.8h0M550.7 73.1h0M499.9 176.9h0M440.7 138.0h0M438.1 126.1h0M498.7 133.3h0M403.0 141.1h0M407.6 174.5h0M427.9 155.6h0M409.5 165.5h0M475.7 130.5h0M487.4 112.2h0M417.3 180.3h0M458.8 107.6h0M455.1 123.9h0M410.3 155.3h0M563.2 107.5h0M478.1 164.1h0M446.7 112.4h0M413.3 165.6h0M479.6 116.3h0M455.2 144.5h0M444.1 127.2h0M434.0 165.0h0M438.6 159.5h0M443.2 127.5h0M428.8 162.6h0M422.8 197.3h0M508.3 141.8h0M410.8 142.4h0M448.4 145.5h0M416.8 217.9h0M411.7 157.1h0M492.9 124.6h0M483.7 106.6h0M410.8 148.2h0M405.3 140.6h0M473.9 139.4h0M462.0 158.8h0M555.7 120.1h0M435.2 159.8h0M484.9 136.4h0M421.9 155.1h0M413.9 182.5h0M463.3 139.9h0M404.3 154.3h0M484.8 169.1h0M409.5 170.8h0M459.6 137.0h0M432.0 165.5h0M596.7 81.6h0M553.0 96.7h0M422.2 169.2h0M443.5 138.7h0M479.5 121.3h0M424.4 143.9h0M440.1 156.2h0M450.3 174.0h0M428.8 168.5h0M459.4 122.2h0M455.0 158.7h0M454.6 126.0h0M518.1 107.4h0M464.0 138.0h0M411.1 182.4h0M460.1 165.7h0M559.8 101.9h0M536.3 96.0h0M444.3 153.5h0M423.9 139.7h0M477.6 118.2h0M429.9 147.4h0M431.6 156.1h0M422.1 182.8h0M460.9 123.8h0M421.1 129.9h0M421.6 152.1h0M406.3 151.4h0M441.0 123.6h0M430.7 128.8h0M470.2 136.2h0M483.7 161.4h0M417.6 188.3h0M403.2 193.6h0M443.1 169.6h0M417.1 159.2h0M410.8 150.1h0M438.7 156.9h0M432.9 182.0h0M403.4 160.6h0M477.6 136.9h0M426.3 180.4h0M409.7 149.7h0M543.6 98.3h0M436.7 149.5h0M518.3 96.4h0M449.4 150.4h0M491.2 179.8h0M410.1 155.8h0M417.6 151.6h0M433.2 133.0h0M510.8 114.1h0M419.1 165.4h0M407.5 151.4h0M564.4 90.3h0M439.5 175.5h0M512.6 105.7h0M421.0 164.0h0M497.9 109.2h0M429.5 128.6h0M412.6 175.6h0M408.6 203.8h0M435.6 177.0h0M511.9 164.7h0M532.3 115.3h0M431.7 168.5h0M407.0 181.2h0M458.6 179.2h0M445.7 140.5h0M467.2 134.7h0M514.2 100.2h0M444.1 172.7h0M409.3 141.1h0M467.8 134.8h0M412.2 161.6h0M488.1 137.4h0M433.4 141.5h0M421.0 193.1h0M410.3 208.2h0M451.5 139.9h0M499.7 117.9h0M419.1 182.8h0M471.9 114.6h0M537.3 83.6h0M430.3 154.7h0M500.5 145.0h0M410.7 198.7h0M461.9 128.2h0M498.7 124.2h0M444.7 179.3h0M467.2 120.1h0M508.0 111.6h0M446.9 145.3h0M490.1 124.4h0M461.4 133.0h0M440.7 152.3h0M424.2 168.3h0M404.3 174.4h0M436.0 153.8h0M451.5 118.2h0M410.1 172.7h0M537.4 113.4h0M427.4 175.9h0M473.3 138.6h0M498.1 127.2h0M512.8 92.0h0M418.4 160.1h0M440.3 149.6h0M416.3 160.5h0M541.1 85.2h0M478.9 112.4h0M440.9 157.2h0M408.2 145.6h0M444.6 140.0h0M484.5 127.3h0M416.2 148.6h0M489.6 117.9h0M420.9 199.1h0M419.8 153.9h0M464.6 128.8h0M451.7 146.4h0M487.2 116.0h0M450.7 135.0h0M521.9 128.1h0M524.3 110.5h0M425.1 156.4h0M551.9 74.9h0M440.8 239.4h0M485.4 113.9h0M444.1 130.0h0M412.5 185.8h0M517.5 88.9h0M427.9 136.4h0M504.3 112.5h0M444.2 143.8h0M454.5 140.3h0M484.9 120.4h0M468.8 115.0h0M446.0 158.8h0M436.4 139.6h0M404.9 155.2h0M415.5 142.2h0M449.9 151.5h0M477.4 147.8h0M486.2 112.6h0M499.4 98.8h0M493.1 113.3h0M470.2 127.6h0M452.9 121.7h0M409.7 146.4h0M504.6 109.1h0M430.3 127.6h0M474.4 128.7h0M439.2 146.1h0M454.6 124.6h0M452.1 145.9h0M409.5 183.1h0M416.3 166.9h0M472.2 125.8h0M418.7 154.4h0M522.2 95.0h0M488.3 131.5h0M483.3 119.0h0M561.6 74.8h0M469.8 128.3h0M440.4 145.4h0M449.5 141.3h0M526.7 88.8h0M456.7 127.8h0M407.4 190.6h0M452.4 125.1h0M406.2 204.0h0M420.9 152.7h0M440.9 152.9h0M409.8 178.6h0M463.2 119.6h0M424.9 159.8h0M456.8 155.1h0M431.7 171.6h0M425.8 166.1h0M490.5 186.1h0M449.9 142.7h0M437.2 162.1h0M503.7 103.8h0M463.5 141.8h0M414.0 201.4h0M448.6 133.6h0M512.3 142.3h0M470.8 164.4h0M421.4 154.0h0M427.2 134.8h0M423.4 159.6h0M526.1 106.5h0M465.5 149.2h0M435.6 117.5h0M452.3 154.9h0M412.6 178.7h0M414.4 167.6h0M417.4 161.5h0M409.7 190.5h0M452.0 142.1h0M491.2 102.7h0M478.9 131.7h0M442.0 164.8h0M446.7 159.1h0M474.4 113.2h0M421.2 180.8h0M533.0 107.6h0M454.9 116.3h0M483.1 131.5h0M473.7 158.2h0M600.4 77.0h0M458.2 134.8h0M547.2 86.4h0M421.6 144.8h0M569.1 129.3h0M428.6 146.6h0M462.4 142.9h0M407.2 167.0h0M435.2 202.9h0M410.0 159.4h0M447.1 137.5h0M443.8 144.9h0M418.2 159.5h0M481.9 102.5h0M437.8 158.4h0M458.2 135.8h0M417.0 150.6h0M415.0 171.9h0M421.0 152.7h0M444.1 144.5h0M428.1 146.5h0M489.4 114.3h0M419.3 174.1h0M442.3 146.2h0M460.4 130.4h0M432.4 143.6h0M517.5 143.6h0M472.3 141.7h0M443.3 130.5h0M483.0 129.7h0M460.1 173.3h0M406.8 163.2h0M405.7 172.7h0M583.5 85.0h0M420.2 165.1h0M478.9 165.7h0M418.6 149.9h0M468.0 145.6h0M433.0 145.1h0M439.1 143.1h0M405.6 137.1h0M411.3 143.6h0M426.7 158.9h0M452.5 129.7h0M468.2 137.2h0M420.2 166.2h0M464.7 148.6h0M435.8 162.6h0M479.0 106.3h0M404.8 156.9h0M497.6 108.1h0M524.1 111.2h0M490.4 103.6h0M467.5 152.7h0M548.4 113.6h0M446.0 135.9h0M442.7 123.7h0M476.4 112.1h0M466.1 130.9h0M547.7 91.5h0M437.4 159.6h0M408.1 172.3h0M484.0 130.7h0M504.7 107.4h0M479.4 123.4h0M402.9 155.4h0M482.9 111.9h0M422.2 138.4h0M448.9 143.5h0M537.4 104.3h0M465.5 138.1h0M415.2 159.5h0M466.5 128.1h0M552.6 103.2h0M518.1 91.7h0M561.3 96.7h0M410.8 191.7h0M469.8 135.9h0M404.8 163.6h0M423.4 167.5h0M408.1 147.3h0M517.2 104.3h0M412.3 169.7h0M497.4 120.8h0M516.9 117.6h0M434.3 177.8h0M432.0 150.3h0M483.8 126.3h0M537.7 104.7h0M483.1 127.5h0M575.4 92.8h0M414.5 148.1h0M428.2 136.5h0M449.5 140.3h0M456.9 145.5h0M429.4 155.6h0M555.8 108.6h0M497.6 120.7h0M410.3 169.6h0M503.6 128.8h0M433.8 154.6h0M425.2 148.5h0M421.5 150.8h0M471.1 123.7h0M445.4 123.6h0M417.8 156.1h0M444.1 152.2h0M449.7 135.3h0M405.0 155.3h0M408.8 164.3h0M461.2 121.2h0M406.0 162.3h0M418.0 169.2h0M483.7 139.7h0M416.5 143.1h0M419.1 128.9h0M433.7 146.2h0M405.9 161.5h0M460.1 142.2h0M512.6 112.3h0M566.9 110.2h0M412.1 177.2h0M419.8 153.3h0M526.5 100.9h0M411.5 157.3h0M412.0 179.1h0M483.1 108.3h0M407.5 157.4h0M409.0 160.2h0M449.6 142.8h0M428.8 160.1h0M506.6 105.2h0M452.6 166.7h0M440.4 139.9h0M473.9 145.4h0M452.4 140.0h0M427.0 148.4h0M432.5 124.1h0M491.7 121.5h0M437.0 150.5h0M458.8 120.7h0M419.9 165.4h0M464.1 113.4h0M521.5 107.4h0M504.8 138.9h0M415.5 142.7h0M430.9 165.7h0M578.0 114.0h0M438.6 146.1h0M502.8 80.0h0M406.4 158.8h0M412.9 144.8h0M571.5 71.9h0M418.0 194.9h0M456.6 135.2h0M521.8 117.4h0M441.1 147.2h0M454.7 141.5h0M464.3 136.9h0M430.4 239.9h0M485.9 145.1h0M419.3 187.0h0M443.9 159.6h0M445.3 125.0h0M407.3 204.7h0M406.6 158.9h0M505.4 153.8h0M487.7 133.7h0M422.7 165.9h0M467.5 144.2h0M426.0 121.9h0M496.7 115.0h0M439.7 123.4h0M551.2 73.5h0M406.8 137.6h0M525.2 93.2h0M415.7 175.3h0M416.7 151.3h0M497.9 100.7h0M406.0 147.4h0M416.1 133.8h0M406.4 147.1h0M441.7 134.0h0M434.1 152.7h0M417.4 158.5h0M413.5 185.2h0M449.7 176.1h0M427.9 165.2h0M460.6 133.1h0M469.2 112.9h0M412.8 167.6h0M515.5 98.8h0M430.8 136.2h0M436.1 167.7h0M535.8 109.5h0M505.2 139.6h0M422.2 176.1h0M441.2 137.6h0M471.4 128.2h0M405.1 146.7h0M492.5 118.2h0M403.6 166.6h0M418.3 151.9h0M504.3 112.7h0M512.6 122.5h0M451.7 160.5h0M502.0 85.0h0M443.4 143.1h0M420.6 161.5h0M464.5 172.1h0M453.8 207.3h0M504.9 101.7h0M443.2 143.5h0M403.0 178.6h0M415.1 188.9h0M405.6 190.7h0M404.7 168.6h0M425.6 150.0h0M487.5 85.9h0M435.3 152.7h0M511.7 105.7h0M474.5 122.6h0M432.7 132.8h0M437.9 171.3h0M408.1 165.4h0M427.8 146.6h0M471.6 135.2h0M517.7 103.1h0M413.0 163.7h0M477.2 130.5h0M411.3 170.2h0M436.1 144.0h0M443.5 138.7h0M418.1 143.2h0M451.2 137.0h0M450.8 135.2h0M461.9 122.5h0M440.1 122.8h0M464.4 124.6h0M581.1 79.2h0M441.8 124.1h0M418.8 169.6h0M527.7 111.2h0M523.2 102.7h0M465.6 150.2h0M425.9 137.9h0M424.8 150.6h0M416.9 174.1h0M465.5 148.1h0M448.0 145.4h0M432.3 144.1h0M498.1 129.3h0M454.5 151.9h0M452.0 150.1h0M404.8 166.5h0M464.7 151.9h0M435.8 162.7h0M417.4 139.2h0M410.6 178.9h0M498.4 116.6h0M416.7 164.3h0M560.3 84.2h0M478.6 126.5h0M418.2 181.4h0M431.4 146.1h0M432.1 171.7h0M447.9 145.9h0M436.3 142.9h0M424.6 144.0h0M549.0 96.3h0M494.5 108.1h0M525.1 129.5h0M551.2 89.8h0M461.8 124.9h0M467.3 113.4h0M411.1 140.1h0M445.0 126.7h0M414.1 162.0h0M418.5 164.7h0M468.4 141.5h0M441.0 126.1h0M494.3 118.2h0M412.6 171.9h0M465.6 165.7h0M408.2 169.2h0M545.4 113.0h0M427.4 156.6h0M467.7 142.8h0M482.7 132.9h0M454.7 150.9h0M426.9 146.3h0M474.3 146.6h0M433.3 145.6h0M459.8 143.4h0M409.6 185.3h0M402.7 169.9h0M450.4 119.9h0M478.4 100.5h0M437.5 150.6h0M522.9 106.2h0M407.8 151.5h0M458.0 134.5h0M500.3 123.1h0M417.4 136.2h0M473.3 99.8h0M439.3 161.1h0M503.4 112.0h0M413.8 175.1h0M495.9 113.5h0M424.8 156.7h0M482.6 157.5h0M437.2 157.0h0M454.8 115.4h0M403.1 215.1h0M488.9 128.9h0M452.6 114.1h0M431.7 138.1h0M432.0 155.7h0M500.6 87.4h0M493.2 141.1h0M426.5 152.9h0M464.9 162.0h0M487.9 114.0h0M436.5 145.2h0M442.2 150.5h0M405.1 172.2h0M485.3 121.0h0M419.0 170.7h0M428.2 148.2h0M478.6 115.8h0M468.3 142.3h0M415.3 188.4h0M514.1 114.6h0M482.0 127.4h0M477.0 121.1h0M430.7 148.2h0M453.2 150.7h0M581.3 108.3h0M418.7 143.6h0M427.8 143.8h0M438.8 141.9h0M427.5 152.3h0M426.8 121.1h0M407.1 197.1h0M521.2 97.8h0M429.8 163.5h0M546.0 115.8h0M425.7 158.7h0M456.8 140.3h0M489.5 126.5h0M407.3 161.4h0M418.7 147.7h0M435.7 133.8h0M436.1 167.4h0M437.0 140.9h0M439.8 151.8h0M428.5 145.8h0M424.6 128.8h0M433.3 147.4h0M566.0 65.8h0M452.6 151.2h0M482.7 124.2h0M497.2 138.8h0M474.9 138.8h0M424.3 181.6h0M410.4 151.7h0M404.3 155.2h0M470.1 119.7h0M484.9 109.4h0M426.1 160.3h0M421.1 142.2h0M453.6 156.4h0M466.3 117.7h0M482.5 127.6h0M528.9 85.3h0M485.1 122.1h0M417.1 193.9h0M428.7 162.4h0M446.6 109.3h0M412.1 167.2h0M413.6 156.8h0M406.4 191.7h0M468.6 123.0h0M487.2 128.5h0M465.1 132.0h0M476.6 123.5h0M454.0 132.6h0M465.8 159.7h0M480.5 112.3h0M413.3 178.7h0M418.4 154.8h0M427.5 167.5h0M524.5 113.7h0M438.6 191.7h0M537.4 95.0h0M431.8 148.6h0M472.8 136.2h0M468.7 135.2h0M420.4 173.9h0M449.1 145.3h0M457.7 108.9h0M406.7 190.1h0M449.9 130.7h0M427.3 147.6h0M404.5 155.3h0M444.7 136.2h0M406.8 157.5h0M407.0 139.4h0M471.3 133.5h0M476.8 134.5h0M471.0 116.2h0M525.8 105.9h0M407.3 182.6h0M407.6 212.0h0M427.5 148.3h0M423.5 165.5h0M598.9 89.1h0M428.1 155.2h0M455.5 159.8h0M439.1 148.0h0M439.9 138.0h0M423.4 180.2h0M407.1 174.0h0M433.9 174.6h0M414.5 170.5h0M517.6 97.1h0M435.1 136.9h0M485.4 131.2h0M433.1 123.9h0M445.2 153.1h0M470.7 132.5h0M403.7 161.8h0M419.7 170.9h0M442.4 160.9h0M408.8 147.1h0M413.2 147.7h0M425.6 158.1h0M412.6 136.6h0M453.6 168.8h0M514.3 120.0h0M421.0 153.9h0M418.4 149.7h0M446.1 135.4h0M412.2 197.4h0M489.8 107.6h0M467.9 143.1h0M406.5 167.3h0M440.0 153.1h0M445.2 145.7h0M411.9 135.2h0M579.0 84.2h0M402.8 174.0h0M455.0 131.4h0M497.5 86.4h0M434.9 157.8h0M411.1 169.1h0M416.0 133.9h0M458.4 145.1h0M482.2 108.9h0M481.3 155.4h0M415.8 188.6h0M503.2 110.5h0M466.6 123.3h0M538.3 94.4h0M481.8 126.6h0M497.6 131.7h0M407.1 179.9h0M574.5 96.8h0M405.2 213.9h0M549.5 77.7h0M471.8 109.5h0M435.6 131.6h0M461.2 125.5h0M411.1 147.7h0M609.1 82.6h0M496.2 136.0h0M434.2 167.1h0M460.0 110.0h0M475.3 101.4h0M476.4 125.7h0M533.0 78.1h0M455.7 165.2h0M494.0 88.2h0M469.5 132.1h0M480.8 117.4h0M431.8 158.4h0M527.1 134.9h0M446.2 127.4h0M497.5 122.5h0M490.8 138.2h0M467.7 111.7h0M408.9 193.8h0M403.4 178.0h0M473.2 161.8h0M428.3 161.2h0M418.2 183.5h0M412.1 191.4h0M468.1 114.5h0M434.4 140.3h0M471.6 114.6h0M409.3 200.3h0M445.9 140.9h0M477.6 135.9h0M413.6 138.2h0M431.2 157.7h0M431.4 148.4h0M453.3 118.7h0M422.0 168.3h0M417.4 155.7h0M522.1 105.7h0M408.7 154.2h0M419.4 158.4h0M474.4 139.8h0M437.9 172.1h0M471.2 154.7h0M508.5 102.9h0M456.0 143.2h0M406.0 152.4h0M436.4 163.8h0M465.8 133.4h0M470.8 109.0h0M446.6 147.4h0M443.0 140.3h0M424.7 174.6h0M427.7 149.7h0M428.7 153.8h0M594.2 108.1h0M465.5 143.5h0M427.0 140.7h0M440.7 125.0h0M459.7 149.7h0M469.3 123.5h0M451.5 136.4h0M445.3 127.4h0M512.9 129.1h0M540.4 125.5h0M442.6 184.5h0M479.3 105.1h0M405.4 145.7h0M543.9 97.3h0M474.2 107.3h0M556.1 91.9h0M436.0 129.6h0M460.2 140.2h0M444.7 150.7h0M555.0 48.6h0M414.8 160.6h0M440.0 136.6h0M507.4 155.8h0M422.3 153.1h0M445.1 145.6h0M437.8 150.4h0M505.0 117.1h0M426.1 137.5h0M417.6 133.7h0M433.8 165.2h0M415.3 148.9h0M443.2 130.9h0M522.8 104.2h0M462.0 169.1h0M416.5 144.4h0M412.0 138.9h0M483.2 124.2h0M431.6 170.4h0M457.8 142.8h0M429.8 131.4h0M423.6 146.9h0M509.4 113.4h0M545.4 127.4h0M460.8 143.4h0M438.1 141.7h0M448.7 170.9h0M408.4 168.0h0M484.9 94.0h0M413.8 148.2h0M418.8 156.4h0M474.7 118.4h0M429.4 149.5h0M430.3 125.6h0M410.0 205.3h0M433.8 133.4h0M405.0 208.6h0M442.5 156.4h0M446.6 151.8h0M470.8 174.8h0M485.1 120.7h0M458.9 117.3h0M450.2 205.9h0M420.2 165.0h0M410.6 153.0h0M462.7 113.9h0M424.0 168.9h0M464.6 156.7h0M424.3 155.6h0M411.7 162.0h0M411.2 157.0h0M424.8 149.8h0M440.2 196.3h0M499.6 98.2h0M460.2 154.0h0M483.6 148.4h0M470.1 129.1h0M427.4 155.9h0M472.4 140.5h0M464.5 198.6h0M415.7 136.7h0M436.7 157.9h0M477.0 136.7h0M436.6 136.7h0M439.2 140.5h0M529.2 87.6h0M521.5 112.5h0M441.6 172.3h0M438.0 142.0h0M472.7 152.9h0M437.4 163.5h0M414.5 153.7h0M431.5 158.5h0M478.5 131.5h0M429.8 123.1h0M472.7 135.0h0M506.4 111.2h0M455.4 128.8h0M412.2 174.4h0M451.7 116.6h0M448.0 139.4h0M418.9 146.5h0M450.6 138.5h0M415.0 141.2h0M472.9 106.7h0M411.7 207.6h0M501.1 107.6h0M423.6 180.2h0M485.9 132.5h0M441.1 168.4h0M511.3 136.4h0M477.8 124.8h0M413.6 178.9h0M415.5 188.4h0M464.7 126.1h0M409.1 171.6h0M614.1 42.4h0M420.3 156.0h0M528.8 94.7h0M423.4 163.1h0M424.4 210.2h0M502.9 143.3h0M439.4 172.6h0M507.4 115.6h0M434.2 153.8h0M436.1 123.2h0M445.1 146.6h0M531.6 88.5h0M524.2 83.9h0M514.5 122.4h0M448.3 152.0h0M474.8 183.5h0M439.0 173.5h0M418.9 232.9h0M431.8 146.5h0M429.9 133.0h0M450.4 136.2h0M421.5 154.2h0M419.2 169.5h0M404.9 169.6h0M418.7 147.3h0M422.9 149.5h0M470.9 134.3h0M428.3 136.8h0M448.6 131.9h0M419.1 179.2h0M423.6 155.9h0M581.0 79.7h0M518.7 96.4h0M413.7 146.0h0M442.3 127.5h0M418.2 149.9h0M471.4 122.8h0M461.3 133.5h0M425.9 171.2h0M442.8 159.4h0M442.0 167.8h0M551.9 87.4h0M403.5 167.8h0M464.8 140.1h0M448.7 147.3h0M524.6 98.6h0M441.5 143.5h0M463.0 126.6h0M476.1 148.9h0M432.6 159.5h0M425.1 154.9h0M419.3 171.3h0M564.3 82.7h0M446.8 204.9h0M418.5 158.2h0M404.6 161.0h0M403.1 172.5h0M416.3 150.4h0M510.1 124.1h0M550.4 90.0h0M468.2 116.4h0M404.0 162.6h0M444.6 151.4h0M412.8 170.0h0M443.1 153.5h0M425.3 162.7h0M432.5 156.2h0M417.1 159.3h0M431.4 146.0h0M436.0 156.0h0M475.9 102.8h0M415.6 169.8h0M436.4 148.4h0M425.4 152.6h0M441.9 141.5h0M517.8 109.2h0M493.7 95.7h0M438.1 139.0h0M452.2 156.1h0M414.2 150.9h0M443.3 148.5h0M457.7 152.6h0M447.3 156.9h0M453.8 163.6h0M424.9 146.7h0M452.6 137.6h0M425.6 187.7h0M475.8 122.5h0M405.1 160.5h0M429.7 125.4h0M524.5 95.0h0M442.9 181.4h0M451.9 174.8h0M449.1 123.6h0M461.5 140.8h0M538.4 84.4h0M402.8 144.2h0M551.8 69.0h0M468.6 165.6h0M447.7 144.2h0M476.3 130.8h0M459.1 136.6h0M470.8 134.6h0M408.7 168.7h0M521.7 106.4h0M424.6 201.8h0M431.3 174.6h0M422.1 172.2h0M404.3 167.5h0M410.9 150.6h0M443.5 142.7h0M458.2 172.5h0M524.6 102.9h0M541.2 102.4h0M415.8 157.1h0M511.1 93.1h0M435.9 133.1h0M432.0 187.9h0M461.7 110.2h0M434.4 161.5h0M403.7 171.0h0M422.7 162.0h0M425.1 168.2h0M416.6 149.2h0M457.6 129.7h0M470.8 125.6h0M538.3 101.2h0M422.7 168.8h0M491.8 133.8h0M404.1 136.8h0M428.5 129.0h0M423.4 146.8h0M418.3 173.7h0M434.7 128.2h0M431.2 196.0h0M520.2 140.3h0M574.5 100.4h0M494.5 110.2h0M465.5 122.8h0M441.5 135.5h0M476.3 127.4h0M436.9 156.6h0M440.3 179.2h0M442.4 143.7h0M423.2 147.0h0M449.6 145.2h0M428.5 164.8h0M432.3 129.3h0M529.4 80.9h0M526.1 127.6h0M505.0 108.2h0M428.6 210.9h0M440.5 141.4h0M509.6 114.8h0M485.9 95.7h0M413.5 180.2h0M415.6 189.2h0M450.8 137.6h0M511.8 98.1h0M417.4 146.1h0M404.4 159.8h0M492.1 134.0h0M493.9 110.0h0M489.7 105.2h0M437.7 135.7h0M430.2 152.8h0M417.7 144.2h0M408.9 216.3h0M424.4 183.1h0M437.2 151.6h0M489.1 112.0h0M422.8 182.8h0M470.7 124.1h0M416.8 180.6h0M415.5 176.1h0M469.1 99.0h0M417.7 151.7h0M464.8 155.5h0M460.2 166.8h0M406.8 149.2h0M416.6 176.6h0M540.0 137.0h0M439.7 153.4h0M505.6 126.1h0M410.5 165.5h0M439.6 143.1h0M426.1 152.3h0M410.1 189.6h0M418.6 200.8h0M436.5 192.1h0M540.5 143.4h0M425.9 199.2h0M413.7 168.1h0M445.2 184.3h0M418.3 183.2h0M458.6 132.2h0M403.1 154.0h0M479.1 123.4h0M504.1 105.5h0M440.0 154.0h0M453.3 125.7h0M407.6 170.3h0M506.6 110.0h0M520.8 94.3h0M422.1 149.4h0M415.2 147.6h0M439.3 170.8h0M415.2 145.1h0M414.7 175.5h0M499.0 119.6h0M413.0 168.0h0M594.7 95.4h0M523.9 82.6h0M457.9 143.3h0M507.1 176.7h0M415.5 193.5h0M408.8 172.4h0M483.7 104.3h0M403.9 163.2h0M421.5 147.3h0M434.1 154.2h0M434.0 178.2h0M406.8 163.8h0M413.0 169.5h0M448.2 127.2h0M430.4 167.3h0M428.5 178.8h0M469.0 122.3h0M474.8 124.5h0M458.8 168.7h0M484.1 136.6h0M477.0 143.5h0M461.5 115.4h0M436.5 147.7h0M407.5 166.0h0M447.8 126.4h0M451.3 189.0h0M425.0 151.3h0M451.5 140.5h0M571.9 71.9h0M448.8 115.2h0M423.4 166.6h0M456.6 128.5h0M408.9 161.9h0M490.0 117.1h0M432.4 150.8h0M449.0 155.4h0M409.3 162.2h0M455.1 144.2h0M448.2 112.2h0M442.5 133.0h0M531.0 110.7h0M494.8 118.9h0M510.6 93.6h0M542.6 111.2h0M410.7 147.2h0M487.7 139.9h0M425.6 143.7h0M439.4 139.5h0M418.2 156.6h0M408.1 178.0h0M471.6 163.9h0M436.0 152.4h0M412.6 177.7h0M446.6 140.9h0M465.9 130.8h0M433.3 143.8h0M453.3 135.2h0M407.2 191.9h0M464.7 112.5h0M409.7 136.1h0M470.1 132.8h0M426.0 166.5h0M426.6 161.1h0M432.0 135.3h0M525.8 119.3h0M486.9 88.8h0M442.3 160.4h0M449.5 139.3h0M438.5 135.1h0M413.6 170.0h0M454.8 141.3h0M423.3 131.3h0M522.1 114.2h0M413.0 158.3h0M472.3 144.6h0M502.7 118.0h0M410.4 151.8h0M480.9 116.3h0M493.6 128.3h0M466.8 142.7h0M528.4 124.4h0M481.7 107.6h0M472.4 125.5h0M460.5 126.9h0M506.9 105.6h0M421.4 146.3h0M505.6 132.0h0M507.4 107.8h0M457.6 127.8h0M434.6 134.6h0M473.5 103.9h0M443.5 163.1h0M443.4 141.6h0M447.5 127.7h0M442.3 137.1h0M404.2 174.9h0M446.2 144.0h0M409.9 164.9h0M474.5 117.4h0M424.9 160.2h0M441.6 147.2h0M504.4 120.8h0M403.3 191.9h0M420.6 157.6h0M508.5 112.3h0M426.5 156.0h0M482.4 99.7h0M430.8 138.0h0M473.6 124.1h0M471.5 136.3h0M454.9 132.6h0M438.3 151.8h0M506.6 97.7h0M472.5 114.6h0M433.0 159.5h0M417.6 161.7h0M526.6 101.2h0M540.5 101.1h0M470.1 162.5h0M441.6 145.5h0M499.7 109.2h0M456.5 132.8h0M410.3 147.5h0M405.3 144.4h0M406.5 157.0h0M454.2 144.4h0M542.0 79.4h0M453.1 142.0h0M465.0 117.3h0M418.8 143.7h0M451.4 133.9h0M424.8 147.1h0M436.8 155.6h0M473.4 124.2h0M427.7 166.7h0M403.3 140.2h0M420.8 153.5h0M593.5 76.5h0M449.0 118.9h0M484.6 133.5h0M436.0 131.6h0M436.3 131.5h0M487.7 113.7h0M498.3 139.9h0M429.6 167.5h0M413.4 172.2h0M434.1 183.9h0M444.0 164.0h0M450.0 149.9h0M468.2 137.6h0M408.8 162.0h0M429.6 157.5h0M469.2 131.3h0M417.1 146.2h0M438.7 154.5h0M476.1 121.4h0M515.6 108.7h0M412.6 181.5h0M438.0 132.4h0M420.4 162.5h0M433.8 180.1h0M538.0 93.3h0M413.2 178.5h0M525.5 97.6h0M509.7 96.7h0M435.3 147.1h0M412.5 140.3h0M473.2 132.6h0M422.1 155.6h0M416.8 132.4h0M454.1 123.5h0M502.4 91.7h0M415.6 170.6h0M406.2 152.3h0M407.9 156.6h0M422.6 146.8h0M456.2 170.9h0M411.4 174.5h0M415.6 161.9h0M413.0 157.6h0M458.6 141.3h0M406.5 175.8h0M412.4 173.2h0M437.3 142.7h0M409.8 172.3h0M463.0 148.2h0M405.0 155.6h0M422.0 149.9h0M540.9 71.1h0M427.1 151.7h0M412.3 145.8h0M406.1 168.6h0M450.0 123.5h0M512.2 94.0h0M482.8 116.9h0M421.0 143.0h0M486.7 122.9h0M408.1 165.0h0M403.8 172.9h0M437.6 125.8h0M488.9 145.3h0M451.4 135.9h0M461.5 149.9h0M473.4 135.7h0M411.1 151.6h0M411.5 142.2h0M518.5 132.0h0M480.8 160.2h0M476.4 121.6h0M412.0 165.2h0M424.9 174.3h0M533.2 86.2h0M469.5 134.5h0M461.6 144.2h0M436.8 142.8h0M455.0 133.5h0M403.9 152.1h0M474.4 113.3h0M428.0 158.2h0M477.9 111.8h0M411.0 152.4h0M409.7 168.6h0M419.4 176.4h0M444.2 145.3h0M418.2 177.3h0M513.5 107.5h0M421.4 158.1h0M447.4 127.2h0M460.2 190.1h0M432.5 156.8h0M547.2 87.3h0M427.8 141.4h0M421.3 174.9h0M472.3 132.2h0M543.7 159.6h0M549.3 166.7h0"/>
<path stroke="#b9232a" stroke-width="4.3" d="M612.7 28.2h0M552.2 54.8h0M535.0 79.8h0M543.0 81.2h0M570.8 53.6h0M512.2 84.1h0M607.1 36.3h0M583.5 59.8h0M532.2 82.2h0M553.4 84.2h0M563.6 74.8h0M531.2 88.2h0M626.4 14.7h0M552.7 74.4h0M575.9 46.8h0M526.1 84.7h0M541.4 76.6h0M541.1 82.0h0M565.5 53.8h0M541.7 73.7h0M525.5 76.6h0M542.6 61.1h0M575.6 55.9h0M560.2 56.4h0M512.3 85.9h0M493.6 111.7h0M539.7 80.9h0M509.3 107.8h0M541.3 76.2h0M512.8 74.8h0M573.2 59.2h0M557.3 60.5h0M549.7 83.0h0M593.8 46.1h0M598.2 44.8h0M541.0 81.0h0M560.6 67.6h0M571.7 50.5h0M544.6 82.6h0M516.8 99.7h0M582.7 55.2h0M566.2 50.3h0M565.1 64.4h0M496.2 96.3h0M558.3 50.3h0M547.6 64.3h0M566.8 77.7h0M512.1 98.9h0M496.1 108.0h0M605.0 20.7h0M550.9 71.3h0M564.4 72.2h0M542.3 79.7h0M623.1 10.0h0M594.9 36.5h0M525.2 105.1h0M572.3 49.6h0M552.0 53.2h0M584.0 41.3h0M546.7 80.0h0M578.7 51.8h0M634.5 20.3h0M633.1 35.3h0M513.3 111.4h0M519.8 86.3h0M484.7 117.3h0M568.9 56.6h0M533.8 70.4h0M506.9 81.5h0M567.3 76.0h0M592.2 46.1h0M539.2 70.3h0M521.4 80.8h0M582.7 47.2h0M502.6 87.6h0M516.2 83.7h0M535.7 77.3h0M501.9 92.0h0M593.5 42.0h0M553.4 64.3h0M582.3 51.8h0M581.0 34.2h0M514.9 83.1h0M529.4 69.4h0M535.3 79.9h0M543.6 76.4h0M488.5 117.2h0M614.0 46.4h0M582.7 42.4h0M550.0 58.5h0M571.2 58.6h0M554.5 64.2h0M541.6 75.2h0M568.2 77.8h0M549.3 50.7h0M600.4 42.8h0M533.2 79.6h0M534.2 76.3h0M520.2 93.6h0M526.0 90.2h0M576.0 52.7h0M562.5 71.1h0M535.9 77.8h0M624.1 25.7h0M575.3 36.6h0M538.6 75.6h0M534.8 76.3h0M576.0 71.5h0M527.7 70.8h0M561.4 47.5h0M573.9 79.2h0M518.2 90.6h0M574.6 66.9h0M553.5 72.1h0M487.2 97.8h0M511.6 100.7h0M541.2 67.9h0M561.8 50.7h0M552.0 82.5h0M552.1 76.9h0M518.7 99.9h0M594.2 38.6h0M550.8 65.6h0M518.5 87.3h0M565.9 42.2h0M580.2 55.0h0M512.0 126.8h0M507.6 98.2h0M588.1 37.0h0M535.0 86.3h0M508.5 92.3h0M607.5 28.9h0M526.3 94.5h0M587.2 49.5h0M565.0 55.4h0M562.4 63.7h0M546.3 81.0h0M580.3 52.9h0M593.4 52.7h0M529.6 77.5h0M549.4 76.4h0M528.5 74.7h0M576.1 51.5h0M536.8 60.2h0M546.3 68.6h0M512.9 91.8h0M552.1 97.3h0M545.1 79.5h0M569.9 70.9h0M567.2 65.7h0M533.4 78.9h0M538.4 85.9h0M556.3 77.3h0M552.2 77.0h0M584.3 51.0h0M504.6 81.9h0M579.4 36.0h0M575.5 39.9h0M593.3 66.1h0M587.2 45.4h0M513.9 76.9h0M550.7 69.5h0M546.2 70.5h0M525.6 88.4h0M561.8 67.7h0M619.1 38.3h0M590.9 52.8h0M579.0 59.1h0M546.7 68.1h0M536.7 80.7h0M557.3 67.8h0M579.1 49.9h0M523.0 81.5h0M561.0 67.0h0M508.2 87.7h0M590.7 45.9h0M547.5 78.5h0M563.4 72.6h0M589.1 31.8h0M560.7 81.8h0M538.7 81.1h0M530.4 77.8h0M527.0 76.6h0M512.6 84.3h0M562.1 70.2h0M589.7 57.3h0M530.5 80.7h0M584.9 57.0h0M556.4 64.4h0M578.0 67.1h0M517.1 80.2h0M550.7 63.7h0M549.1 65.3h0M518.3 97.7h0M562.6 51.8h0M565.3 74.8h0M520.8 69.5h0M556.9 59.2h0M548.0 64.5h0M630.7 24.2h0M551.4 61.8h0M623.4 28.6h0M594.0 50.5h0M540.6 61.7h0M559.7 64.1h0M558.7 60.5h0M550.7 72.9h0M547.1 81.9h0M564.9 55.8h0M547.1 86.8h0M534.2 71.0h0M526.7 78.6h0M530.7 79.8h0M568.7 58.6h0M582.8 41.8h0M548.7 74.3h0M560.1 65.8h0M554.5 76.0h0M536.1 74.1h0M516.9 92.3h0M630.4 49.2h0M574.5 59.1h0M559.4 75.8h0M522.5 73.2h0M574.2 51.4h0M532.2 82.6h0M540.6 79.0h0M575.0 60.3h0M585.2 53.7h0M534.5 73.4h0M564.8 76.3h0M569.7 50.9h0M549.7 64.4h0M547.8 63.0h0M533.2 83.9h0M552.9 69.9h0M552.7 65.3h0M519.3 74.5h0M594.2 49.7h0M502.5 97.3h0M534.7 90.7h0M525.3 86.8h0M602.6 31.1h0M553.8 72.7h0M589.2 40.3h0M555.1 70.2h0M510.8 93.8h0M573.6 71.8h0M586.2 43.6h0M554.2 72.4h0M576.2 41.0h0M539.0 93.0h0M573.4 53.9h0M531.3 91.0h0M568.8 55.9h0M562.8 57.3h0M582.7 58.4h0M555.4 64.4h0M591.6 51.2h0M588.2 59.3h0M540.3 79.5h0M594.6 38.4h0M601.0 46.0h0M586.2 59.0h0M616.3 38.6h0M596.6 40.4h0M583.7 42.6h0M521.7 91.1h0M570.5 57.6h0M511.8 88.8h0M604.1 43.7h0M594.3 78.6h0M536.1 73.5h0M640.7 17.4h0M504.7 93.4h0M497.1 105.4h0M567.0 65.6h0M520.2 77.8h0M552.0 82.6h0M519.9 77.5h0M504.0 93.6h0M590.0 35.8h0M561.7 61.1h0M501.2 100.0h0M528.3 90.0h0M563.9 74.5h0M520.8 99.6h0M584.4 38.2h0M558.0 63.3h0M628.4 12.4h0M540.3 84.3h0M535.2 66.6h0M555.5 76.6h0M579.8 53.4h0M539.1 97.1h0M495.6 99.6h0M538.7 77.7h0M542.5 76.9h0M590.4 44.6h0M575.1 60.1h0M529.1 88.1h0M533.1 80.5h0M583.3 49.4h0M554.6 69.7h0M562.4 46.5h0M556.0 67.9h0M515.4 96.2h0M605.8 25.0h0M504.6 109.7h0M590.7 34.8h0M513.5 83.6h0M551.2 67.2h0M607.3 37.1h0M558.5 69.6h0M562.2 80.5h0M542.4 70.4h0M554.6 62.3h0M529.1 82.3h0M526.8 82.1h0M580.7 46.6h0M579.5 56.7h0M530.1 79.4h0M520.6 98.0h0M510.3 112.6h0M535.6 78.9h0M526.0 92.1h0M622.0 24.5h0M554.6 68.5h0M516.7 73.7h0M592.0 57.1h0M509.5 85.4h0M502.5 97.6h0M556.2 73.0h0M524.4 75.3h0M568.8 71.2h0M505.3 80.3h0M529.5 63.9h0M549.1 66.0h0M529.4 75.7h0M516.8 77.6h0M583.6 53.6h0M565.2 74.3h0M524.6 79.3h0M507.3 84.2h0M518.5 94.9h0M535.2 71.0h0M596.4 34.9h0M517.9 81.1h0M548.0 73.5h0M546.7 76.8h0M528.2 86.2h0M530.7 89.9h0M562.0 63.3h0M571.3 78.5h0M530.4 93.9h0M538.1 65.9h0M511.7 90.1h0M559.5 46.9h0M570.9 57.3h0M541.3 81.1h0M607.2 29.1h0M522.5 84.5h0M471.2 110.0h0M491.3 119.9h0M454.9 138.6h0M450.2 124.4h0M489.8 101.2h0M441.9 155.8h0M442.1 114.1h0M476.9 130.0h0M484.5 105.0h0M433.2 159.4h0M437.6 134.3h0M437.0 157.6h0M467.6 131.5h0M455.5 130.5h0M467.7 127.8h0M477.0 125.7h0M497.0 125.4h0M480.4 135.3h0M486.3 104.9h0M457.9 129.2h0M448.7 123.3h0M482.7 128.7h0M473.1 132.2h0M488.0 118.1h0M438.3 151.5h0M442.0 153.5h0M461.3 127.5h0M433.8 138.3h0M452.5 120.5h0M476.1 116.5h0"/>
</g>
<!-- inset -->
<rect x="575.0" y="160.0" width="76.2" height="77.1" fill="#fff"/>
<g fill="none" stroke-linecap="round">
<path stroke="#0f54a3" stroke-width="2.2" d="M601.9 216.6h0M606.8 206.7h0M615.1 200.1h0M617.7 201.3h0M605.4 210.7h0M629.9 190.8h0M597.0 216.7h0M631.4 190.6h0M617.2 204.5h0M603.3 218.5h0M606.5 203.8h0M613.1 208.0h0M605.2 214.6h0M631.5 192.0h0M618.3 210.4h0M620.6 199.6h0M601.0 220.0h0M608.9 212.7h0M610.5 217.9h0M611.2 200.0h0M616.5 204.2h0M613.8 206.2h0M591.6 226.8h0M602.7 209.7h0M609.4 215.2h0M626.4 193.1h0M621.9 205.7h0M621.2 197.5h0M606.7 219.9h0M637.4 172.3h0M606.6 209.3h0M614.8 206.2h0M605.4 216.3h0M601.2 217.2h0M619.6 200.1h0M600.4 215.6h0M589.9 232.1h0M600.1 212.7h0M603.7 216.8h0M594.3 214.6h0M620.5 197.7h0M615.4 199.7h0M612.8 210.7h0M628.0 193.2h0M599.1 217.7h0M609.6 212.7h0M593.3 219.6h0M615.9 213.6h0M604.0 222.9h0M632.9 186.7h0M608.0 208.5h0M593.6 223.0h0M604.5 217.4h0M607.2 212.6h0M608.0 204.3h0M602.6 219.7h0M610.0 209.3h0M622.8 194.9h0M620.0 199.8h0M636.5 180.3h0M634.2 189.1h0M604.8 213.5h0M620.4 197.5h0M596.3 220.4h0M603.4 223.8h0M622.5 199.1h0M616.3 210.8h0M600.5 217.7h0M610.7 206.9h0M609.2 218.5h0M610.2 212.2h0M592.4 217.1h0M605.5 216.5h0M616.4 212.7h0M603.0 208.6h0M603.7 219.2h0M616.3 203.0h0M609.1 204.7h0M598.6 216.1h0M620.3 213.1h0M621.3 199.3h0M606.9 207.8h0M603.9 212.4h0M597.4 225.9h0M622.9 196.9h0M600.3 219.9h0M600.3 201.5h0M605.8 212.0h0M613.0 212.3h0M622.1 204.4h0M616.2 198.3h0M595.1 212.4h0M612.9 205.4h0M628.0 199.9h0M607.4 199.0h0M609.9 209.7h0M613.0 210.3h0M587.5 226.3h0M638.0 188.2h0M617.1 210.6h0M602.7 222.3h0M624.4 196.4h0M606.9 208.2h0M611.9 201.5h0M634.4 192.2h0M622.6 201.9h0M607.4 215.1h0M599.0 218.0h0M619.4 198.7h0M628.4 186.3h0M628.0 194.5h0M618.6 208.2h0M614.0 215.5h0M631.6 193.4h0M626.6 189.4h0M615.3 202.7h0M607.4 214.2h0M622.8 201.0h0M611.0 208.4h0M605.8 217.2h0M614.1 212.8h0M607.8 200.7h0M613.8 198.2h0M597.6 226.4h0M617.6 199.7h0M644.6 185.1h0M622.1 197.6h0M632.8 188.6h0M627.2 185.7h0M624.0 194.6h0M630.9 182.7h0M603.1 214.8h0M605.9 213.5h0M610.3 211.9h0M611.7 206.4h0M628.8 187.3h0M598.8 219.2h0M606.2 215.3h0M617.3 205.0h0M613.0 207.0h0M608.4 214.3h0M610.6 206.7h0M606.4 207.5h0M590.9 230.5h0M610.3 204.6h0M599.1 228.2h0M608.3 210.7h0M625.9 199.0h0M615.6 203.5h0M616.3 205.7h0M604.6 210.3h0M610.6 198.4h0M597.0 215.2h0M611.5 210.7h0M625.8 188.2h0M610.5 210.4h0M605.6 206.9h0M595.8 213.4h0M611.3 205.3h0M614.2 201.0h0M606.9 213.8h0M603.7 208.1h0M617.5 207.1h0M610.9 203.7h0M593.8 218.8h0M592.4 216.9h0M609.6 208.1h0M620.8 200.7h0M609.4 207.5h0M595.6 213.2h0M603.0 211.5h0M603.5 219.0h0M613.5 203.9h0M602.0 219.9h0M598.5 221.6h0M607.3 210.5h0M634.6 188.3h0M607.9 212.8h0M600.2 227.8h0M606.7 213.5h0M631.2 184.7h0M618.9 196.1h0M623.4 198.5h0M615.0 202.4h0M598.1 212.4h0M619.4 200.4h0M614.1 201.2h0M628.1 198.4h0M606.4 217.1h0M629.8 192.2h0M608.4 218.2h0M615.9 201.6h0M612.9 204.1h0M611.3 204.3h0M605.9 208.0h0M626.6 196.2h0M593.8 222.1h0M615.6 212.3h0M626.9 196.4h0M606.1 214.8h0M622.0 198.5h0M601.5 210.6h0M627.3 195.5h0M613.3 208.2h0M620.1 196.5h0M599.8 212.3h0M616.5 208.6h0M622.1 195.0h0M614.4 200.7h0M608.1 212.3h0M629.0 198.0h0M601.5 225.1h0M610.0 208.3h0M629.8 197.1h0M605.6 207.5h0M598.5 210.7h0M603.1 218.5h0M616.9 203.0h0M598.6 216.6h0M614.5 207.3h0M607.2 215.9h0M599.7 216.3h0M596.2 211.9h0M612.8 201.9h0M607.9 209.7h0M609.7 210.3h0M614.5 199.4h0M625.3 188.1h0M615.6 205.0h0M603.1 213.0h0M608.1 209.6h0M614.5 211.6h0M615.0 201.4h0M598.6 216.1h0M596.7 220.8h0M602.6 207.4h0M612.1 199.8h0M606.4 215.9h0M609.1 214.1h0M615.0 207.5h0M622.7 195.1h0M629.3 190.2h0M630.4 188.4h0M597.2 202.9h0M627.9 192.9h0M611.5 209.1h0M622.5 203.9h0M634.3 191.1h0M608.6 211.6h0M628.7 189.7h0M614.1 198.7h0M620.1 205.2h0M622.9 196.6h0M602.4 220.5h0M616.6 203.1h0M605.8 219.4h0M604.1 208.7h0M612.8 210.8h0M607.8 205.9h0M612.9 212.4h0M601.2 214.4h0M631.2 194.3h0M621.2 193.6h0M623.1 193.9h0M610.9 215.9h0M605.2 219.9h0M602.7 210.0h0M585.4 220.1h0M605.3 212.7h0M614.2 200.4h0M621.5 200.0h0M624.8 196.6h0M627.9 195.7h0M594.8 214.6h0M603.1 208.8h0M612.3 208.3h0M619.1 202.6h0M606.3 211.7h0M608.3 204.2h0M632.8 193.0h0M614.3 202.1h0M626.0 190.2h0M631.7 191.9h0M602.9 204.8h0M620.6 203.3h0M598.1 216.3h0M598.9 217.3h0M602.7 209.0h0M623.4 190.8h0M601.1 216.3h0M594.9 226.0h0M621.0 200.1h0M613.8 205.7h0M631.0 190.1h0M622.1 204.3h0M610.3 210.7h0M618.7 199.5h0M639.1 175.2h0M606.8 209.4h0M611.3 220.4h0M619.7 199.3h0M632.6 182.0h0M611.9 206.6h0M598.9 220.6h0M597.8 212.9h0M616.3 207.3h0M603.8 207.8h0M612.8 212.7h0M624.4 198.7h0M600.0 216.7h0M622.8 197.7h0M616.3 201.7h0M615.7 208.8h0M607.7 209.1h0M598.9 216.9h0M613.5 205.6h0M622.8 194.9h0M594.2 218.5h0M596.8 212.8h0M596.2 215.1h0M600.3 215.8h0M610.1 218.9h0M626.5 191.2h0M610.4 209.5h0M630.1 191.1h0M616.7 204.9h0M623.1 200.8h0M622.5 198.9h0M612.2 208.5h0M605.0 217.0h0M607.0 209.3h0M613.8 205.2h0M610.6 216.7h0M599.3 214.3h0M621.9 197.7h0M614.4 201.7h0M624.6 193.3h0M601.5 221.3h0M634.8 189.7h0M617.4 201.9h0M614.2 204.5h0M611.5 206.3h0M628.9 193.7h0M605.5 222.5h0M635.4 177.5h0M614.5 211.6h0M592.5 228.5h0M614.7 203.3h0M615.9 198.8h0M602.9 213.8h0M615.5 201.2h0M607.7 212.8h0M606.0 211.6h0M585.2 223.8h0M597.9 218.0h0M615.5 206.6h0M610.6 215.2h0M620.1 201.1h0M607.7 214.7h0M604.3 217.1h0M602.7 211.0h0M609.8 212.6h0M600.5 219.2h0M609.4 205.6h0M640.0 177.1h0M612.7 214.2h0M611.9 207.3h0M608.7 207.3h0M629.4 199.7h0M612.5 203.2h0M625.4 193.1h0M602.4 227.5h0M601.0 222.0h0M598.2 223.7h0M627.7 186.2h0M590.2 222.9h0M624.1 204.3h0M619.3 203.6h0M611.7 203.7h0M605.0 226.1h0M608.7 199.2h0M608.1 219.9h0M627.7 190.7h0M623.3 210.1h0M618.6 204.6h0M614.9 207.8h0M596.2 219.7h0M609.4 216.4h0M609.0 205.4h0M600.3 224.2h0M627.9 195.0h0M599.8 211.3h0M612.7 206.9h0M617.8 199.7h0M604.1 213.9h0M588.5 221.7h0M605.5 211.2h0M633.9 182.3h0M611.3 212.9h0M612.2 206.1h0M597.4 216.9h0M618.9 204.3h0M609.2 203.0h0M605.9 216.5h0M614.4 209.3h0M592.6 211.3h0M630.9 176.3h0M638.3 182.0h0M612.4 216.0h0M616.7 201.6h0M620.4 199.4h0M620.4 193.4h0M610.0 221.9h0M608.9 211.4h0M603.0 221.4h0M596.5 214.2h0M603.1 213.8h0M597.2 222.4h0M602.4 213.7h0M602.5 213.0h0M597.3 215.2h0M603.1 207.8h0M611.2 229.1h0M595.2 216.4h0M615.6 208.4h0M607.6 213.0h0M624.2 198.3h0M603.7 219.5h0M619.1 197.4h0M596.4 218.5h0M625.8 195.8h0M624.4 193.6h0M598.1 210.6h0M608.9 216.1h0M614.5 202.3h0M604.8 208.5h0M623.7 198.2h0M634.1 183.0h0M601.2 208.4h0M620.2 203.2h0M600.3 213.5h0M599.6 214.1h0M621.6 204.7h0M598.6 210.4h0M605.0 206.6h0M604.6 211.6h0M609.1 225.2h0M637.6 177.4h0M608.5 210.3h0M601.1 210.3h0M602.2 214.3h0M598.1 224.5h0M614.5 203.2h0M618.8 200.5h0M612.4 209.8h0M605.7 203.7h0M603.6 213.6h0M598.6 218.7h0M626.0 190.0h0M610.6 214.0h0M617.0 199.3h0M608.5 210.4h0M619.5 204.9h0M620.8 202.0h0M612.7 201.7h0M608.0 213.3h0M612.3 211.2h0M620.7 202.9h0M603.4 209.2h0M614.2 203.2h0M616.2 203.0h0M629.0 193.3h0M624.4 197.7h0M601.5 207.9h0M606.3 211.7h0M605.5 203.5h0M611.6 206.8h0M627.2 190.2h0M600.4 214.7h0M602.7 220.3h0M610.1 211.1h0M615.8 204.9h0M613.5 211.4h0M638.3 180.5h0M600.0 212.1h0M634.7 183.4h0M605.8 208.1h0M606.4 205.3h0M610.5 206.1h0M611.2 210.0h0M609.8 209.7h0M607.8 206.9h0M622.8 196.5h0M601.5 213.3h0M607.6 210.2h0M615.0 199.0h0M624.5 199.5h0M604.6 212.5h0M614.9 210.5h0M594.2 228.2h0M616.5 204.2h0M607.8 204.5h0M620.4 197.4h0M601.1 217.4h0M611.0 205.1h0M607.8 214.6h0M612.2 212.9h0M604.5 217.5h0M633.8 191.1h0M588.9 225.6h0M624.7 195.3h0M598.3 216.6h0M625.3 187.0h0M613.4 205.0h0M603.9 214.0h0M623.5 198.0h0M626.2 187.4h0M609.2 206.4h0M602.9 221.3h0M592.5 218.6h0M595.4 220.0h0M625.8 191.4h0M620.3 198.6h0M633.0 187.7h0M591.7 217.8h0M619.9 203.8h0M608.1 211.1h0M601.5 221.3h0M629.2 186.5h0M603.2 212.4h0M591.9 219.5h0M617.9 199.6h0M607.0 221.0h0M608.8 217.7h0M606.1 212.4h0M611.8 211.3h0M602.5 223.4h0M618.1 205.7h0M610.4 211.1h0M597.0 212.8h0M634.9 183.3h0M622.8 199.0h0M617.4 213.5h0M611.7 209.6h0M599.3 217.2h0M617.3 209.3h0M609.7 210.8h0M589.9 221.9h0M630.0 181.7h0M597.4 216.0h0M609.4 214.4h0M604.4 216.4h0M610.2 213.0h0M631.3 194.0h0M609.5 203.0h0M604.2 214.7h0M617.7 203.0h0M621.0 201.9h0M634.3 189.0h0M607.9 207.7h0M625.8 197.5h0M609.6 210.7h0M608.1 213.3h0M625.9 189.7h0M623.8 204.6h0M611.6 212.0h0M617.9 201.0h0M597.5 217.8h0M623.0 205.0h0M619.8 200.3h0M615.4 202.5h0M618.1 199.5h0M593.0 214.9h0M598.6 215.0h0M615.4 199.6h0M636.4 185.2h0M620.7 197.8h0M641.4 173.6h0M605.6 206.7h0M631.3 186.0h0M603.6 213.5h0M636.6 185.6h0M607.3 207.0h0M626.7 200.0h0M596.4 219.8h0M607.6 211.5h0M628.9 189.1h0M608.9 219.4h0M603.8 214.2h0M610.2 214.5h0M610.2 209.7h0M604.2 219.6h0M596.0 220.1h0M622.2 198.1h0M635.6 175.6h0M596.9 216.7h0M611.1 212.6h0M607.0 211.6h0M601.6 210.6h0M619.6 195.2h0M587.9 229.5h0M604.0 217.8h0M591.6 220.9h0M621.7 197.5h0M602.8 214.2h0M612.1 208.4h0M609.5 207.0h0M609.1 208.4h0M603.5 212.7h0M626.7 196.2h0M603.6 208.8h0M610.8 215.7h0M611.4 215.1h0M634.1 179.1h0M603.4 218.0h0M605.4 221.5h0M614.9 200.0h0M605.0 210.2h0M627.8 188.9h0M607.0 209.5h0M618.2 203.4h0M613.5 209.3h0M610.8 203.9h0M597.2 215.2h0M628.8 189.3h0M609.7 215.6h0M617.6 206.8h0M604.4 218.9h0M618.1 204.1h0M612.5 203.9h0M613.0 203.8h0M614.8 212.8h0M598.1 215.5h0M597.1 218.0h0M604.0 212.1h0M593.9 218.5h0M610.3 210.9h0M602.2 214.4h0M610.0 206.1h0M610.8 199.4h0M603.4 213.2h0M623.2 193.7h0M598.0 213.6h0M599.8 212.3h0M596.8 229.0h0M606.5 205.3h0M608.4 209.2h0M585.3 229.2h0M608.5 208.4h0M600.1 218.0h0M609.4 211.5h0M608.9 213.2h0M607.5 209.7h0M597.2 223.4h0M612.3 217.1h0M603.7 208.6h0M624.3 195.1h0M604.9 209.3h0M596.2 213.5h0M608.3 209.0h0M589.5 214.7h0M599.7 205.7h0M610.6 205.9h0M610.3 215.1h0M615.3 202.5h0M623.0 198.3h0M625.6 193.1h0M622.6 201.7h0M603.5 219.3h0M622.6 192.0h0M608.6 215.4h0M614.7 214.5h0M599.9 221.1h0M602.8 213.1h0M628.9 189.9h0M589.2 220.8h0M615.9 204.9h0M625.6 193.2h0M607.1 210.7h0M620.2 197.5h0M605.6 206.8h0M598.9 217.2h0M636.4 189.0h0M600.0 215.3h0M621.8 198.9h0M628.5 193.9h0M613.0 212.5h0M631.1 194.3h0M624.6 198.0h0M628.1 199.8h0M601.0 216.9h0M606.8 213.7h0M624.6 195.2h0M599.7 215.8h0M601.9 212.0h0M624.6 192.7h0M614.3 204.0h0M607.1 212.3h0M607.6 221.4h0M615.3 202.7h0M595.8 221.8h0M612.9 200.3h0M612.9 201.8h0M592.4 216.0h0M606.1 213.4h0M612.9 206.4h0M599.1 219.2h0M626.4 197.2h0M609.0 212.5h0M608.8 199.3h0M629.7 186.6h0M582.4 235.2h0M624.6 194.2h0M592.4 222.8h0M611.7 215.3h0M610.0 203.5h0M621.5 200.7h0M598.2 222.7h0M614.1 204.3h0M617.2 209.0h0M602.5 221.5h0M609.2 208.1h0M612.1 204.3h0M630.0 185.0h0M609.9 209.2h0M622.1 194.8h0M611.7 206.7h0M604.8 208.4h0M607.9 207.7h0M606.3 215.9h0M595.5 216.6h0M615.7 203.5h0M619.1 201.3h0M600.3 209.0h0M601.3 216.1h0M611.6 218.5h0M620.8 195.7h0M600.5 216.1h0M610.5 216.6h0M616.4 211.1h0M622.0 196.8h0M625.7 194.2h0M618.3 206.4h0M630.5 193.4h0M603.3 220.1h0M615.6 205.9h0M605.5 218.8h0M608.3 210.9h0M602.8 211.5h0M598.9 212.8h0M594.6 210.8h0M600.7 215.4h0M608.7 208.6h0M608.8 209.2h0M623.1 204.7h0M637.8 184.9h0M605.4 211.0h0M588.0 222.9h0M588.0 225.0h0M617.7 208.0h0M614.5 203.7h0M610.5 209.4h0M599.7 211.4h0M609.7 211.1h0M607.3 208.3h0M602.3 220.0h0M622.3 202.1h0M638.0 184.3h0M593.9 219.1h0M613.8 207.4h0M592.0 225.5h0M607.2 217.0h0M598.1 223.6h0M618.1 202.7h0M623.7 192.3h0M613.6 218.2h0M607.2 210.7h0M631.9 189.7h0M608.7 211.8h0M616.9 200.1h0M610.7 206.4h0M610.4 207.1h0M620.3 206.2h0M612.7 201.7h0M606.7 222.5h0M610.8 208.4h0M601.3 221.4h0M610.8 204.5h0M598.9 214.2h0M609.5 211.2h0M633.3 187.6h0M607.3 209.1h0M616.7 208.7h0M635.3 190.6h0M610.4 213.7h0M597.3 222.9h0M615.6 205.2h0M597.5 215.8h0M623.1 201.4h0M611.6 216.6h0M595.7 220.7h0M602.5 220.4h0M618.0 206.1h0M624.8 193.3h0M609.4 217.0h0M616.3 200.7h0M603.2 208.8h0M621.6 204.0h0M605.9 207.2h0M610.2 209.7h0M613.7 209.9h0M596.8 220.6h0M610.1 208.0h0M620.3 204.1h0M620.1 196.1h0M621.9 203.4h0M598.4 220.3h0M622.9 195.5h0M613.9 203.7h0M606.1 222.8h0M626.0 186.9h0M618.7 199.1h0M610.1 209.0h0M622.4 196.2h0M624.6 203.9h0M635.8 176.0h0M605.8 215.6h0M615.4 215.5h0M615.2 207.9h0M601.7 216.3h0M608.8 215.0h0M627.3 197.8h0M612.2 198.3h0M615.0 203.2h0M597.5 222.6h0M605.0 204.8h0M618.6 212.1h0M604.7 220.2h0M616.9 200.7h0M604.4 211.1h0M595.1 217.6h0M629.2 185.0h0M607.1 222.4h0M594.3 210.9h0M603.4 206.9h0M593.7 216.8h0M633.5 192.4h0M622.0 206.6h0M612.0 206.8h0M612.3 209.8h0M591.2 225.3h0M612.8 207.6h0M623.8 202.1h0M589.6 216.0h0M605.0 211.1h0M607.9 218.1h0M626.6 186.9h0M629.2 194.6h0M606.4 209.1h0M632.1 181.7h0M627.4 192.2h0M621.9 195.4h0M622.7 195.6h0M615.6 202.4h0M614.5 216.2h0M608.4 206.0h0M611.4 214.5h0M607.3 208.6h0M610.5 200.8h0M610.0 207.0h0M600.4 214.0h0M621.9 199.9h0M627.0 192.5h0M610.7 215.7h0M592.3 221.7h0M623.6 201.1h0M600.4 214.9h0M611.2 212.7h0M604.4 220.4h0M616.2 215.4h0M613.6 204.4h0M608.0 209.0h0M612.3 200.5h0M612.6 205.9h0M603.0 209.5h0M632.6 183.6h0M618.5 204.8h0M605.3 210.0h0M620.1 196.3h0M626.6 199.9h0M625.4 202.2h0M597.4 212.2h0M599.2 214.6h0M610.8 206.4h0M613.7 204.2h0M616.7 200.7h0M633.2 192.0h0M618.9 197.0h0M604.7 210.7h0M622.7 205.5h0M609.1 205.3h0M615.9 204.8h0M619.6 201.4h0M604.5 206.1h0M606.1 208.3h0M611.4 208.9h0M635.1 194.6h0M615.6 207.3h0M605.3 203.3h0M618.3 211.0h0M623.8 200.7h0M605.0 209.0h0M612.9 202.8h0M591.1 225.7h0M596.4 223.7h0M600.4 217.3h0M610.3 204.5h0M606.2 213.6h0M599.1 216.2h0M623.8 192.2h0M618.6 208.7h0M606.0 204.3h0M618.8 199.0h0M625.0 195.0h0M613.2 212.6h0M625.3 192.3h0M609.0 205.8h0M613.4 205.5h0M600.9 220.0h0M589.6 222.2h0M610.7 207.2h0M621.0 208.7h0M621.9 195.5h0M607.2 208.9h0M618.9 198.6h0M607.0 209.2h0M600.6 216.1h0M610.9 210.0h0M599.9 216.5h0M618.3 205.7h0M595.8 225.3h0M620.6 194.7h0M603.1 212.1h0M604.8 212.8h0M613.7 215.0h0M607.7 214.5h0M603.2 211.8h0M606.5 220.8h0M626.0 195.9h0M595.5 222.3h0M589.4 224.3h0M644.7 170.0h0M602.7 214.8h0M612.7 209.4h0M615.0 199.1h0M623.0 200.6h0M594.4 219.2h0M601.0 203.9h0M613.3 208.6h0M623.7 196.6h0M608.8 206.4h0M602.2 212.3h0M583.2 225.5h0M602.6 214.4h0M604.8 211.4h0M625.5 194.1h0M605.2 207.2h0M607.1 211.2h0M628.4 194.8h0M603.6 214.3h0M604.6 221.3h0M625.3 191.8h0M600.6 212.9h0M607.9 214.3h0M612.3 210.4h0M620.3 205.6h0M623.5 194.7h0M604.3 214.7h0M613.6 214.3h0M604.1 211.6h0M611.5 210.2h0M622.0 197.1h0M610.7 215.0h0M610.6 207.2h0M638.9 170.7h0M610.0 209.4h0M642.9 173.5h0M587.3 226.8h0M624.9 198.7h0M596.2 218.1h0M601.3 223.6h0M601.5 215.4h0M602.6 217.6h0M602.1 208.2h0M613.1 210.2h0M610.8 200.1h0M623.3 198.9h0M608.7 220.8h0M641.0 173.3h0M590.0 224.3h0M624.0 197.9h0M609.2 205.1h0M625.9 193.0h0M625.3 197.0h0M606.0 208.0h0M604.8 211.5h0M597.2 218.2h0M609.0 208.5h0M612.9 212.8h0M614.9 201.0h0M602.4 212.4h0M616.4 203.7h0M589.3 217.3h0M638.9 177.8h0M607.4 204.9h0M621.2 193.2h0M619.7 197.9h0M607.8 203.5h0M621.7 198.3h0M603.8 208.0h0M602.0 216.2h0M610.4 205.0h0M617.9 196.8h0M616.7 201.1h0M601.1 219.0h0M617.4 209.5h0M621.3 201.9h0M622.4 203.7h0M595.9 224.2h0M604.0 219.5h0M620.9 203.6h0M604.1 214.2h0M608.5 215.0h0M617.9 197.5h0M610.0 208.5h0M613.8 201.3h0M633.8 189.2h0M633.8 187.0h0M605.5 212.3h0M626.9 195.2h0M628.8 186.3h0M634.9 181.5h0M612.0 219.5h0M609.7 213.8h0M618.1 196.2h0M609.0 215.3h0M595.3 219.9h0M604.0 213.2h0M620.8 195.5h0M618.6 209.6h0M624.2 191.9h0M613.0 209.1h0M623.1 210.9h0M605.2 224.2h0M623.8 192.8h0M610.9 209.9h0M627.1 194.5h0M597.3 222.2h0M636.3 186.9h0M609.3 200.0h0M602.7 218.6h0M603.6 208.6h0M616.7 205.2h0M604.9 213.7h0M628.5 192.2h0M619.6 197.4h0M601.1 210.6h0M625.7 194.2h0M612.2 212.3h0M605.5 216.7h0M603.6 213.5h0M628.9 188.3h0M626.2 191.3h0M597.5 215.1h0M607.8 211.5h0M601.0 219.5h0M613.4 205.0h0M617.0 207.5h0M616.4 202.4h0M624.2 194.5h0M623.2 194.8h0M610.0 213.6h0M607.0 219.6h0M604.3 208.5h0M636.6 185.7h0M614.9 208.7h0M593.6 230.0h0M610.3 206.1h0M610.9 214.3h0M611.4 207.2h0M612.5 210.5h0M622.1 205.9h0M610.4 209.4h0M605.0 208.6h0M602.9 208.9h0M618.8 201.1h0M618.6 200.1h0M611.4 210.0h0M612.4 211.5h0M618.0 208.9h0M608.4 206.8h0M606.8 207.9h0M622.3 194.9h0M604.0 216.3h0M611.3 212.2h0M608.7 213.7h0M630.8 191.4h0M610.3 213.6h0M593.3 229.5h0M607.3 209.3h0M609.8 210.5h0M612.9 202.0h0M611.4 203.3h0M598.8 221.6h0M632.5 179.5h0M624.2 189.6h0M616.1 205.2h0M614.7 205.3h0M611.0 208.6h0M612.8 207.2h0M604.8 209.7h0M615.4 203.4h0M635.6 180.7h0M633.0 189.4h0M609.1 217.7h0M602.2 221.6h0M607.0 218.3h0M615.3 206.6h0M629.5 189.4h0M601.8 211.2h0M612.0 212.3h0M610.9 199.9h0M591.4 220.0h0M622.8 199.7h0M618.4 201.3h0M606.6 206.2h0M618.6 208.6h0M607.5 209.5h0M610.8 209.2h0M604.1 213.6h0M619.8 198.8h0M610.4 214.8h0M617.0 202.2h0M599.1 211.9h0M611.2 211.6h0M628.4 196.1h0M626.4 188.1h0M622.5 205.3h0M620.1 197.9h0M625.2 198.6h0M625.2 205.8h0M599.3 219.8h0M636.3 179.7h0M604.3 217.4h0M631.6 187.7h0M611.1 211.8h0M604.8 209.5h0M617.7 202.8h0M599.1 214.9h0M623.6 196.5h0M606.9 215.0h0M618.7 207.1h0M618.8 206.3h0M611.1 216.9h0M618.8 213.6h0M634.6 180.8h0M600.7 220.6h0M615.4 202.8h0M605.5 208.6h0M603.0 219.4h0M618.2 202.0h0M630.2 182.3h0M603.0 219.2h0M612.8 203.7h0M607.5 211.1h0M601.7 218.2h0M611.8 205.8h0M632.4 186.6h0M604.9 218.0h0M604.8 213.2h0M609.1 210.1h0M610.1 205.0h0M603.9 211.7h0M633.6 173.6h0M603.1 212.2h0M601.8 221.2h0M620.2 201.2h0M605.1 208.2h0M638.4 168.7h0M619.6 198.8h0M611.3 206.9h0M610.0 209.8h0M607.9 204.7h0M605.8 213.1h0M590.5 218.5h0M623.1 199.2h0M605.6 209.7h0M609.9 205.0h0M609.3 209.3h0M629.1 193.9h0M599.7 220.5h0M611.2 209.5h0M628.9 193.4h0M609.7 219.0h0M603.2 221.9h0M617.7 204.5h0M620.3 201.3h0M607.1 218.5h0M598.1 212.5h0M632.4 191.5h0M602.6 207.4h0M621.2 201.3h0M599.4 222.3h0M614.1 207.8h0M611.2 200.5h0M588.6 216.8h0M624.1 196.7h0M594.5 215.9h0M606.0 209.5h0M630.8 184.6h0M629.8 193.4h0M623.8 203.4h0M608.8 215.7h0M625.7 199.8h0M600.3 220.4h0M604.7 200.9h0M600.4 213.6h0M606.1 208.9h0M620.8 197.3h0M602.6 213.2h0M613.9 210.7h0M611.5 217.2h0M609.2 207.7h0M607.5 207.4h0M608.5 209.6h0M635.9 174.8h0M604.9 209.3h0M618.2 198.9h0M624.1 199.4h0M605.9 209.4h0M590.8 217.2h0M622.6 198.5h0M604.1 208.9h0M610.6 201.4h0M618.3 209.1h0M607.6 220.3h0M621.0 201.0h0M591.9 219.9h0M609.7 201.6h0M588.3 225.0h0M618.7 205.4h0M616.1 206.6h0M600.5 217.0h0M606.3 207.5h0M614.9 202.8h0M623.0 196.4h0M624.8 198.0h0M623.2 203.4h0M593.2 225.3h0M602.0 216.2h0M625.9 194.9h0M608.3 210.8h0M617.5 206.3h0M628.1 195.6h0M617.8 199.2h0M605.1 216.2h0M628.7 186.4h0M609.9 205.8h0M602.7 215.8h0M595.7 218.5h0M605.7 215.6h0M632.2 187.7h0M603.5 224.5h0M608.5 202.7h0M641.6 172.4h0M605.0 207.0h0M610.2 205.6h0M609.2 213.3h0M625.7 195.5h0M605.2 214.1h0M606.2 204.3h0M612.8 203.7h0M618.4 203.3h0M607.4 201.1h0M602.4 210.2h0M596.5 224.5h0M617.7 206.9h0M624.0 193.4h0M621.1 208.2h0M602.4 214.4h0M636.3 189.0h0M621.6 206.2h0M615.4 198.6h0M602.9 219.1h0M618.2 212.3h0M596.5 220.6h0M621.5 196.1h0M609.7 204.0h0M616.2 201.4h0M606.0 212.3h0M632.1 192.5h0M603.7 222.8h0M615.7 204.3h0M603.0 208.5h0M628.9 186.4h0M606.9 209.8h0M619.7 203.5h0M606.7 221.4h0M615.5 199.1h0M612.8 202.8h0M610.5 203.3h0M609.1 201.9h0M634.4 179.3h0M607.3 211.9h0M617.5 201.1h0M633.8 181.6h0M608.5 212.9h0M615.5 202.6h0M600.0 213.1h0M607.1 220.4h0M609.8 207.0h0M590.1 213.1h0M611.6 217.7h0M608.8 220.4h0M623.8 195.3h0M606.8 222.9h0M609.7 219.0h0M619.1 200.6h0M616.8 201.9h0M635.1 186.0h0M605.7 213.5h0M609.2 210.5h0M603.1 212.1h0M628.4 196.1h0M609.7 201.1h0M603.7 225.3h0M626.5 201.1h0M617.2 199.9h0M625.3 192.0h0M630.0 186.7h0M615.9 209.8h0M626.6 189.8h0M629.4 192.9h0M629.6 189.8h0M594.0 219.0h0M607.4 216.3h0M610.8 209.7h0M601.0 217.2h0M607.4 214.5h0M625.0 197.4h0M623.3 200.9h0M623.3 196.3h0M607.9 205.7h0M608.5 209.4h0M602.0 219.5h0M613.0 210.7h0M586.7 223.0h0M605.8 206.1h0M609.0 213.4h0M616.7 199.9h0M628.7 199.3h0M615.3 201.7h0M596.8 219.8h0M631.5 189.1h0M608.0 212.7h0M611.8 208.2h0M606.8 216.1h0M624.6 201.8h0M599.1 218.1h0M598.5 215.3h0M605.9 209.3h0M601.8 219.2h0M600.0 214.2h0M605.5 220.9h0M616.9 201.5h0M618.0 202.1h0M608.2 215.2h0M598.7 212.4h0M619.6 203.4h0M616.0 204.7h0M630.1 191.1h0M614.8 205.3h0M612.4 206.9h0M599.4 209.7h0M627.4 193.0h0M604.1 212.8h0M603.0 217.0h0M619.5 200.6h0M611.0 213.3h0M623.1 190.9h0M619.5 200.2h0M633.9 175.3h0M583.3 227.0h0M607.6 214.2h0M620.8 208.4h0M598.1 215.1h0M624.9 195.0h0M646.4 172.3h0M604.8 209.9h0M604.1 218.0h0M606.1 211.7h0M626.6 194.0h0M599.2 215.6h0M601.3 221.3h0M602.7 207.6h0M622.0 191.8h0M608.9 210.6h0M599.1 219.0h0M620.4 204.3h0M616.1 205.4h0M605.9 210.3h0M632.3 183.4h0M644.3 174.6h0M611.1 208.0h0M614.2 204.8h0M625.5 196.3h0M609.9 207.9h0M609.9 200.1h0M606.3 210.1h0M615.4 215.8h0M616.3 201.7h0M594.7 223.9h0M621.1 198.2h0M603.3 216.2h0M613.7 211.1h0M616.8 211.5h0M588.3 219.8h0M610.0 207.6h0M609.8 209.1h0M630.8 191.1h0M618.6 205.5h0M628.8 196.0h0M606.1 211.1h0M616.1 208.2h0M616.6 207.9h0M611.2 211.8h0M611.9 208.6h0M608.1 209.5h0M619.2 198.4h0M607.0 217.1h0M611.2 214.0h0M615.3 204.2h0M607.3 207.5h0M620.2 202.7h0M636.2 181.7h0M616.4 203.3h0M608.3 201.8h0M647.5 166.9h0M637.8 181.6h0M606.6 211.3h0M622.7 201.2h0M609.3 203.4h0M621.6 198.7h0M628.1 194.3h0M617.5 204.5h0M620.7 194.7h0M604.3 213.5h0M602.0 214.0h0M625.1 197.7h0M614.3 209.9h0M595.4 219.9h0M586.1 217.1h0M614.3 206.8h0M609.7 209.8h0M610.9 212.7h0M625.2 193.8h0M609.8 211.2h0M584.7 222.9h0M601.4 210.4h0M617.9 205.3h0M606.8 214.3h0M613.6 203.9h0M619.1 201.4h0M611.1 203.0h0M598.2 217.4h0M598.0 218.7h0M605.1 221.7h0M602.2 215.0h0M605.7 218.9h0M609.0 209.3h0M628.5 193.3h0M598.8 211.6h0M608.9 213.8h0M605.1 213.3h0M608.1 221.4h0M619.3 197.8h0M611.4 210.9h0M604.5 208.4h0M628.4 198.1h0M610.4 212.7h0M606.7 213.0h0M597.1 217.5h0M622.2 196.8h0M618.5 207.1h0M614.9 207.7h0M604.9 214.4h0M605.7 206.7h0M603.2 222.2h0M618.8 197.3h0M633.8 178.0h0M630.9 188.2h0M616.9 205.5h0M615.2 202.7h0M614.2 210.1h0M628.7 189.1h0M611.0 204.3h0M607.5 204.7h0M601.7 207.5h0M606.9 211.4h0M604.5 218.0h0M608.0 209.7h0M606.4 207.8h0M600.9 211.6h0M603.5 209.2h0M619.5 204.6h0M610.3 209.4h0M619.8 206.2h0M621.3 204.0h0M626.0 192.5h0M618.3 207.3h0M623.0 201.5h0M613.1 207.5h0M605.9 213.6h0M607.9 208.0h0M591.4 215.9h0M590.9 221.7h0M606.7 201.6h0M604.7 211.7h0M629.1 194.3h0M620.1 203.0h0M606.7 214.8h0M622.0 193.1h0M610.4 204.4h0M608.1 200.6h0M620.8 194.2h0M586.5 223.4h0M608.8 216.0h0M590.7 224.8h0M604.9 208.3h0M625.1 188.9h0M620.1 198.6h0M609.5 215.4h0M608.7 215.3h0M615.3 205.1h0M612.2 204.3h0M599.0 213.5h0M603.7 212.0h0M599.2 210.4h0M637.7 170.7h0M600.7 222.1h0M601.0 218.7h0M608.6 208.9h0M621.5 201.7h0M626.4 192.2h0M606.4 205.2h0M615.4 208.2h0M588.1 224.8h0M617.3 205.7h0M602.2 211.0h0M606.7 208.8h0M620.4 204.0h0M589.5 229.3h0M624.0 199.8h0M617.8 210.8h0M621.1 201.3h0M597.2 224.7h0M613.5 212.5h0M611.2 205.7h0M615.2 212.6h0M595.0 214.4h0M623.8 203.0h0M610.1 207.5h0M617.5 215.2h0M608.2 215.6h0M621.3 199.6h0M620.2 200.8h0M617.4 199.5h0M607.3 212.1h0M603.8 199.9h0M616.6 201.4h0M624.5 201.6h0M627.5 192.4h0M601.0 223.1h0M600.4 218.3h0M616.3 202.4h0M609.1 216.6h0M605.2 214.4h0M607.5 211.1h0M610.1 206.7h0M623.3 196.1h0M610.3 205.0h0M587.8 227.2h0M617.0 214.4h0M607.1 219.3h0M607.8 213.1h0M602.8 214.0h0M598.1 211.5h0M609.2 206.0h0M615.0 205.4h0M609.8 211.6h0M632.4 176.3h0M615.3 209.2h0M609.2 208.9h0M614.1 205.8h0M627.8 186.0h0M621.0 199.2h0M607.4 213.2h0M604.9 214.6h0M608.1 211.2h0M601.8 217.3h0M620.7 200.9h0M616.5 202.3h0M607.2 215.7h0M610.3 217.7h0M608.6 212.4h0M608.2 224.3h0M615.6 210.2h0M642.7 171.9h0M605.4 219.7h0M602.4 212.0h0M608.9 207.1h0M622.3 194.1h0M602.4 205.5h0M612.0 208.4h0M610.0 208.2h0M626.8 195.9h0M598.6 223.9h0M601.1 218.5h0M602.1 213.6h0M592.1 215.6h0M625.5 193.8h0M596.5 223.3h0M606.6 220.6h0M630.5 186.9h0M600.5 212.8h0M621.6 208.1h0M614.2 199.4h0M602.4 223.5h0M609.5 204.0h0M607.5 210.1h0M600.7 211.6h0M620.6 200.5h0M632.9 185.4h0M599.7 216.4h0M612.9 212.0h0M601.9 208.5h0M618.9 201.1h0M620.0 196.0h0M620.1 196.8h0M606.1 210.1h0M608.8 198.6h0M615.2 217.5h0M627.1 185.5h0M603.0 222.1h0M619.7 210.7h0M617.5 206.3h0M607.6 209.8h0M580.5 226.3h0M611.5 211.1h0M623.7 192.2h0M591.8 219.6h0M608.2 217.5h0M639.4 184.0h0M594.0 226.6h0M598.0 218.5h0M627.5 196.3h0M608.7 214.2h0M614.9 204.8h0M612.9 205.8h0M623.3 201.3h0M616.3 206.8h0M593.0 212.2h0M623.0 195.0h0M603.5 210.0h0M603.8 217.8h0M597.8 212.7h0M613.6 203.4h0M612.4 205.7h0M638.0 178.6h0M600.6 214.8h0M639.0 177.4h0M616.2 203.5h0M611.8 204.1h0M608.0 213.8h0M588.6 218.3h0M587.6 212.0h0M607.4 212.2h0M630.2 182.6h0M633.2 181.7h0M622.2 200.3h0M604.2 213.6h0M611.9 215.1h0M630.5 184.6h0M637.6 186.8h0M605.4 210.5h0M616.0 211.3h0M609.1 199.6h0M602.9 215.6h0M615.1 210.1h0M599.0 210.9h0M610.5 219.1h0M606.2 215.8h0M602.8 212.2h0M602.9 212.8h0M615.8 200.5h0M613.2 206.9h0M616.4 198.9h0M639.1 181.7h0M609.3 206.6h0M620.0 200.9h0M600.2 221.0h0M622.3 191.5h0M636.9 178.7h0M617.0 209.2h0M616.8 202.6h0M611.1 209.4h0M603.0 219.8h0M596.3 214.0h0M601.6 209.8h0M617.3 203.4h0M610.0 214.2h0M609.7 202.4h0M607.4 210.4h0M609.8 211.8h0M618.4 206.2h0M602.2 206.7h0M612.5 209.6h0M616.0 203.8h0M600.2 217.6h0M624.7 203.4h0M636.7 180.7h0M621.8 197.8h0M634.9 180.0h0M627.9 184.8h0M601.6 214.2h0M599.2 216.4h0M622.0 203.3h0M616.2 198.8h0M630.3 193.2h0M608.2 215.3h0M635.5 187.8h0M608.2 210.3h0M629.4 200.0h0M623.8 195.6h0M604.3 211.0h0M615.0 206.3h0M608.0 212.2h0M611.2 214.2h0M617.3 203.9h0M595.0 219.4h0M631.7 178.1h0M612.6 212.9h0M607.3 209.1h0M619.2 201.6h0M600.5 215.9h0M590.7 215.4h0M592.8 221.5h0M604.9 208.7h0M612.0 207.1h0M608.3 212.9h0M612.6 202.6h0M618.1 200.2h0M607.4 207.0h0M618.3 205.0h0M633.7 181.1h0M632.3 193.7h0M601.6 223.2h0M602.7 215.7h0M602.5 208.8h0M623.0 196.3h0M616.7 204.9h0M607.5 211.4h0M610.5 206.3h0M603.0 219.6h0M620.9 199.5h0M623.0 201.1h0M620.4 209.2h0M625.9 189.9h0M609.0 206.8h0M623.0 197.5h0M633.9 187.0h0M603.5 218.0h0M615.5 214.8h0M601.2 219.4h0M611.8 204.1h0M620.8 205.9h0M620.7 196.4h0M610.7 213.5h0M599.0 221.6h0M620.3 203.3h0M617.6 206.5h0M612.8 205.6h0M619.8 197.0h0M595.8 219.8h0M620.5 205.2h0M609.1 211.5h0M617.2 204.3h0M606.0 210.4h0M602.2 217.4h0M606.2 205.6h0M608.3 217.8h0M604.1 206.7h0M601.2 209.0h0M596.9 214.8h0M631.0 181.0h0M593.1 223.8h0M603.8 223.7h0M605.4 215.3h0M607.2 215.2h0M611.5 205.9h0M607.3 214.5h0M618.0 199.2h0M611.2 210.0h0M616.9 207.6h0M606.6 210.3h0M609.5 215.6h0M611.7 206.8h0M605.4 213.4h0M604.7 206.1h0M609.2 208.1h0M626.5 201.0h0M602.4 214.4h0M608.7 218.4h0M605.5 221.8h0M606.3 217.4h0M609.3 212.4h0M595.7 217.5h0M601.9 208.2h0M595.5 213.1h0M621.9 203.2h0M630.3 190.2h0M621.0 198.1h0M627.7 193.8h0M600.9 226.6h0M610.2 202.0h0M622.7 199.1h0M619.9 194.9h0M628.8 202.6h0M600.6 210.9h0M634.5 178.5h0M607.3 209.1h0M622.4 196.6h0M623.5 197.1h0M623.4 197.4h0M606.1 207.6h0M618.9 207.3h0M604.7 207.4h0M600.7 219.7h0M606.8 214.7h0M598.4 209.6h0M606.8 207.5h0M623.9 190.6h0M606.9 210.9h0M609.6 219.2h0M614.6 205.6h0M620.5 197.0h0M641.8 179.2h0M609.8 208.6h0M613.4 211.5h0M614.3 201.3h0M610.1 203.2h0M632.6 178.9h0M605.0 211.7h0M633.6 182.0h0M612.5 203.0h0M606.2 211.4h0M606.2 207.5h0M593.7 222.8h0M616.2 204.1h0M633.7 187.0h0M597.7 212.4h0M602.1 214.8h0M607.7 206.3h0M605.2 208.3h0M597.5 216.6h0M602.8 214.4h0M612.8 209.3h0M623.2 196.6h0M613.0 202.6h0M599.5 209.4h0M609.5 205.1h0M624.8 196.9h0M602.2 218.6h0M636.9 175.7h0M625.1 200.3h0M623.1 196.0h0M595.6 219.3h0M618.1 206.5h0M636.0 186.5h0M598.9 214.6h0M610.8 213.2h0M621.9 199.6h0M607.5 215.9h0M616.6 203.5h0M616.7 204.0h0M612.3 204.4h0M596.1 221.6h0M614.8 207.4h0M608.1 208.2h0M649.4 162.2h0M605.5 214.2h0M598.8 224.8h0M616.6 201.8h0M603.1 222.2h0M601.6 214.0h0M601.0 223.2h0M624.5 196.2h0M608.0 202.8h0M612.4 208.0h0M613.7 211.9h0M618.1 208.5h0M608.6 212.7h0M603.4 211.5h0M604.4 213.3h0M635.5 179.8h0M606.6 213.9h0M599.4 209.9h0M607.4 209.3h0M617.2 204.2h0M591.4 217.2h0M610.6 199.2h0M605.3 214.6h0M609.2 204.4h0M600.0 220.1h0M588.4 221.0h0M619.0 204.6h0M606.7 211.1h0M608.8 204.5h0M608.5 206.2h0M596.4 221.9h0M606.1 215.0h0M602.9 211.5h0M599.5 224.3h0M607.6 216.6h0M620.8 204.8h0M618.1 198.2h0M631.1 191.8h0M601.1 210.0h0M626.3 200.9h0M595.5 220.3h0M607.7 208.5h0M608.6 207.9h0M599.4 218.3h0M596.4 215.1h0M607.3 207.1h0M608.2 213.6h0M605.0 213.7h0M619.3 197.7h0M619.6 205.2h0M586.3 222.8h0M599.0 218.0h0M606.1 208.0h0M610.3 202.1h0M615.1 199.5h0M611.0 208.5h0M616.2 202.4h0M611.6 201.9h0M606.6 213.0h0M605.9 213.9h0M619.6 196.7h0M640.5 172.7h0M613.7 203.8h0M620.0 200.5h0M594.8 223.4h0M602.7 217.7h0M620.2 207.5h0M606.0 210.2h0M615.8 199.2h0M636.3 182.8h0M612.2 218.3h0M610.0 211.6h0M604.8 219.5h0M613.3 207.9h0M611.2 212.2h0M600.7 213.2h0M629.8 190.6h0M633.2 185.8h0M612.9 211.0h0M603.8 209.8h0M598.9 220.8h0M606.3 205.6h0M594.7 223.9h0M607.8 207.3h0M601.0 220.1h0M605.7 214.2h0M618.9 203.7h0M637.6 175.2h0M621.3 204.2h0M607.5 209.6h0M589.5 224.0h0M612.9 213.6h0M610.8 210.2h0M612.0 212.4h0M610.0 208.9h0M606.6 204.4h0M614.3 199.9h0M611.7 207.0h0M611.1 208.0h0M607.2 209.1h0M608.7 210.3h0M637.7 184.6h0M607.5 211.6h0M616.7 205.1h0M599.6 214.7h0M596.9 214.8h0M627.1 189.3h0M605.2 212.4h0M612.4 204.8h0M602.2 212.6h0M623.5 200.7h0M601.5 208.4h0M613.9 205.6h0M608.3 220.6h0M597.9 215.6h0M607.2 217.2h0M623.1 198.6h0M625.6 193.6h0M590.1 218.8h0M598.3 210.6h0M606.5 212.7h0M605.3 209.1h0M614.0 204.1h0M598.7 212.9h0M599.3 215.1h0M604.0 217.0h0M612.3 213.4h0M630.8 193.1h0M602.9 210.1h0M608.9 217.1h0M603.1 227.1h0M601.9 219.0h0M606.1 216.2h0M586.7 221.2h0M605.9 206.2h0M619.6 210.4h0M627.0 186.5h0M628.4 188.3h0M625.1 200.8h0M628.4 187.4h0M596.0 214.9h0M611.0 210.1h0M620.2 196.6h0M610.8 202.0h0M602.9 212.3h0M601.1 218.2h0M607.1 206.7h0M614.8 209.4h0M599.1 221.6h0M607.0 207.5h0M614.0 204.9h0M612.2 208.9h0M630.3 191.2h0M604.5 209.4h0M612.2 207.3h0M608.6 206.8h0M621.0 207.2h0M612.1 205.6h0M607.4 205.2h0M608.0 212.0h0M592.4 221.4h0M628.6 187.1h0M604.9 205.9h0M617.6 197.4h0M615.0 208.1h0M647.5 162.2h0M615.3 202.4h0M595.6 222.9h0M619.7 199.7h0M605.0 207.9h0M607.4 207.7h0M605.0 214.6h0M613.3 207.1h0M608.5 198.2h0M628.6 188.7h0M620.3 198.2h0M609.1 212.0h0M630.2 182.1h0M607.2 203.5h0M615.4 204.2h0M590.9 227.7h0M623.7 199.2h0M599.3 223.0h0M624.9 193.0h0M606.3 203.9h0M618.6 204.7h0M609.7 205.5h0M616.2 203.0h0M611.0 211.2h0M607.0 200.8h0M608.0 207.4h0M598.8 218.7h0M617.0 208.8h0M593.4 212.7h0M605.0 210.3h0M615.5 204.7h0M620.6 202.1h0M601.3 224.8h0M609.3 210.5h0M610.9 211.1h0M637.7 179.1h0M639.8 174.6h0M611.8 209.4h0M594.7 220.2h0M593.5 221.2h0M584.5 213.5h0M594.4 221.2h0M623.3 200.8h0M604.5 213.9h0M607.7 217.1h0M635.1 180.2h0M628.7 183.8h0M606.4 208.4h0M602.3 201.8h0M616.8 198.4h0M606.9 202.6h0M605.2 207.7h0M625.7 198.7h0M641.1 176.2h0M608.4 212.5h0M606.6 204.1h0M611.0 211.8h0M638.0 187.5h0M612.1 214.4h0M609.1 209.0h0M613.8 209.5h0M612.6 200.1h0M625.5 197.8h0M606.1 220.5h0M598.0 222.7h0M606.3 211.6h0M602.9 211.7h0M619.1 202.2h0M612.6 207.6h0M638.5 180.3h0M610.5 205.4h0M615.0 207.1h0M606.4 216.4h0M586.6 213.8h0M629.0 190.8h0M611.8 201.6h0M628.0 194.6h0M630.5 188.2h0M624.8 195.6h0M629.5 193.5h0M596.8 212.1h0M604.6 209.3h0M600.7 210.7h0M621.3 195.7h0M609.8 207.9h0M602.8 208.1h0M600.8 208.7h0M609.9 209.5h0M605.7 220.0h0M603.5 207.8h0M630.7 189.6h0M621.6 203.3h0M611.9 207.7h0M597.0 218.0h0M625.1 195.5h0M605.3 216.9h0M603.1 220.4h0M617.9 203.3h0M629.9 186.0h0M617.4 197.3h0M607.2 206.6h0M595.8 223.5h0M612.1 201.0h0M619.2 199.7h0M612.3 206.8h0M611.7 206.0h0M631.4 177.5h0M623.3 191.8h0M615.3 205.8h0M620.0 195.6h0M610.7 210.6h0M613.6 208.0h0M613.9 210.0h0M622.7 203.9h0M624.5 197.8h0M623.6 196.7h0M631.8 186.0h0M599.9 219.7h0M616.2 206.9h0M633.2 187.3h0M630.3 187.1h0M612.8 207.2h0M609.5 206.4h0M606.3 208.7h0M593.8 221.0h0M605.8 212.8h0M596.6 220.7h0M613.5 205.2h0M610.7 210.1h0M610.4 211.7h0M617.4 206.4h0M610.6 210.8h0M607.9 210.6h0M617.8 208.6h0M605.5 219.4h0M603.0 219.0h0M608.3 216.4h0M626.6 188.6h0M613.1 209.5h0M626.1 191.4h0M619.3 200.7h0M611.2 200.0h0M612.0 207.7h0M620.7 209.9h0M603.7 216.6h0M626.1 194.7h0M618.6 207.8h0M611.4 207.1h0M605.4 211.6h0M621.7 204.4h0M604.5 211.1h0M612.6 211.7h0M619.2 198.4h0M617.7 198.5h0M587.2 225.8h0M637.1 183.5h0M613.8 210.5h0M608.1 212.1h0M615.8 208.0h0M599.5 218.2h0M587.0 215.5h0M602.3 211.1h0M615.3 210.0h0M618.1 202.7h0M614.9 213.4h0M614.7 213.3h0M627.3 196.5h0M606.5 206.8h0M604.7 211.5h0M629.8 193.2h0M609.3 203.3h0M599.5 225.0h0M600.0 221.2h0M624.5 192.3h0M614.6 206.2h0M608.5 219.6h0M631.4 185.3h0M612.1 208.5h0M596.7 222.1h0M603.2 209.2h0M610.6 213.0h0M614.7 205.0h0M610.1 221.0h0M615.2 208.2h0M607.7 214.4h0M592.3 226.4h0M612.2 200.6h0M645.9 170.9h0M608.2 212.9h0M613.8 206.9h0M604.9 205.7h0M615.5 198.5h0M622.7 199.1h0M612.7 210.2h0M624.8 201.9h0M611.7 206.0h0M603.8 211.4h0M613.6 202.8h0M621.5 199.7h0M613.3 206.1h0M618.0 202.9h0M599.9 216.2h0M615.5 203.8h0M623.9 198.9h0M614.0 208.1h0M611.0 218.5h0M615.9 203.1h0M598.0 217.3h0M616.1 204.1h0M606.1 212.1h0M631.3 187.3h0M588.2 223.7h0M606.3 201.2h0M611.6 208.3h0M604.4 214.5h0M619.7 195.5h0M614.2 203.7h0M603.5 225.8h0M614.4 206.8h0M624.7 193.7h0M592.0 215.0h0M616.0 200.3h0M601.6 220.0h0M618.8 199.1h0M615.0 206.3h0M609.1 208.4h0M609.9 212.6h0M604.3 208.5h0M597.0 226.1h0M607.3 208.7h0M611.3 198.9h0M610.4 216.5h0M609.8 210.6h0M639.9 175.1h0M626.3 189.2h0M620.2 204.1h0M597.9 227.4h0M605.4 210.3h0M594.3 231.4h0M608.8 210.0h0M618.2 200.4h0M605.8 217.7h0M607.4 202.6h0M627.7 192.3h0M609.8 215.4h0M610.8 213.0h0M620.0 196.7h0M605.4 211.0h0M601.6 213.9h0M621.1 204.4h0M617.4 199.2h0M628.9 187.0h0M607.6 208.4h0M612.2 207.9h0M601.2 216.9h0M609.6 208.3h0M629.0 194.5h0M634.8 186.3h0M604.4 204.0h0M596.5 213.6h0M603.9 205.9h0M620.7 204.8h0M615.0 208.5h0M618.4 198.5h0M608.8 218.3h0M614.4 199.6h0M594.8 220.8h0M599.1 219.2h0M607.1 211.8h0M617.8 197.9h0M618.5 202.9h0M603.7 207.7h0M604.3 212.1h0M597.6 218.7h0M629.2 198.4h0M624.8 195.5h0M601.1 213.6h0M634.3 175.1h0M607.3 203.3h0M631.5 195.0h0M607.2 213.2h0M606.9 209.4h0M637.2 180.1h0M624.5 196.4h0M607.4 211.2h0M594.4 226.9h0M616.1 204.7h0M604.5 217.1h0M618.6 201.6h0M589.7 221.6h0M611.0 207.3h0M608.9 215.8h0M617.1 204.6h0M604.7 215.7h0M599.6 214.7h0M616.0 210.4h0M623.0 203.7h0M591.5 222.8h0M610.4 208.1h0M611.7 211.5h0M611.0 212.8h0M614.8 203.3h0M625.7 201.3h0M589.7 226.2h0M600.1 217.7h0M609.7 204.2h0M607.3 215.4h0M612.3 204.0h0M620.8 201.7h0M616.1 211.8h0M609.7 207.6h0M607.9 218.1h0M598.7 220.4h0M627.4 195.7h0M611.0 212.0h0M615.3 205.3h0M606.5 217.9h0M628.1 193.3h0M606.5 211.7h0M620.0 204.7h0M620.6 195.6h0M618.6 196.9h0M626.7 187.1h0M594.4 216.5h0M606.3 215.2h0M604.6 215.4h0M612.6 205.0h0M621.6 200.7h0M610.1 203.7h0M631.5 183.8h0M608.3 213.6h0M610.7 204.9h0M611.4 204.9h0M596.4 216.8h0M630.8 181.8h0M607.7 214.5h0M623.0 193.4h0M604.8 220.6h0M608.6 212.9h0M625.7 191.2h0M606.8 213.4h0M604.5 211.5h0M616.8 202.1h0M610.2 213.2h0M601.7 201.3h0M623.4 194.0h0M624.2 199.9h0M606.3 216.5h0M601.5 211.5h0M606.8 207.3h0M610.0 207.2h0M595.2 220.0h0M606.8 212.4h0M600.9 218.3h0M597.0 221.0h0M609.9 208.9h0M616.4 204.0h0M619.2 206.7h0M624.9 200.6h0M610.8 211.2h0M626.8 195.7h0M600.9 225.8h0M607.2 220.4h0M615.6 205.8h0M607.6 215.8h0M605.5 208.3h0M604.6 218.7h0M621.1 199.9h0M622.5 201.0h0M618.0 203.0h0M603.8 216.0h0M607.8 215.6h0M613.3 206.3h0M613.4 208.6h0M605.1 215.2h0M601.5 208.0h0M619.6 198.6h0M603.8 214.1h0M615.5 213.1h0M618.0 209.0h0M642.9 172.0h0M603.2 225.0h0M615.6 210.0h0M602.6 221.4h0M601.4 215.4h0M595.7 224.2h0M608.0 219.7h0M615.7 209.7h0M612.8 211.7h0M609.8 203.9h0M606.9 213.5h0M597.8 205.5h0M636.2 175.5h0M623.5 190.4h0M625.8 202.1h0M610.3 204.4h0M617.3 207.2h0M620.2 197.5h0M610.7 215.3h0M632.4 190.8h0M598.8 221.4h0M605.9 220.6h0M607.0 213.4h0M620.5 201.8h0M593.8 219.0h0M612.5 213.5h0M619.8 200.1h0M618.8 209.7h0M599.5 215.6h0M616.2 209.6h0M609.6 211.1h0M604.4 214.4h0M598.0 221.5h0M619.1 203.1h0M635.9 175.7h0M616.4 208.5h0M626.2 199.0h0M603.6 219.3h0M625.8 196.0h0M610.0 213.0h0M608.5 202.0h0M630.3 185.7h0M617.6 203.6h0M622.4 196.2h0M605.1 207.4h0M626.8 193.1h0M620.7 195.2h0M610.5 202.2h0M603.4 222.9h0M616.3 205.1h0M608.1 209.0h0M608.8 211.6h0M607.6 207.6h0M620.2 206.0h0M638.6 170.8h0M609.8 206.3h0M615.5 205.7h0M607.6 211.6h0M595.8 221.6h0M614.3 205.6h0M618.1 200.8h0M611.1 205.1h0M612.0 212.5h0M607.5 217.0h0M620.0 202.6h0M612.5 205.9h0M611.9 204.3h0M600.4 219.5h0M630.2 190.5h0M599.7 219.7h0M626.6 191.1h0M616.8 206.5h0M607.8 211.6h0M604.7 216.8h0M612.0 208.2h0M611.1 215.3h0M616.9 202.5h0M619.7 208.5h0M607.5 218.0h0M615.1 206.5h0M623.0 194.2h0M616.8 207.8h0M616.6 213.6h0M616.5 215.3h0M628.8 186.0h0M604.2 216.0h0M602.1 217.7h0M631.9 185.2h0M632.1 183.6h0M621.9 206.6h0M603.9 216.4h0M622.0 192.8h0M607.9 209.9h0M598.1 221.1h0M621.8 199.0h0M608.8 212.0h0M611.2 203.9h0M615.5 206.9h0M610.5 212.4h0M618.0 217.5h0M623.3 191.9h0M611.1 214.0h0M610.4 212.5h0M615.5 212.9h0M605.0 214.2h0M624.3 198.1h0M611.8 206.4h0M604.0 224.1h0M610.3 210.1h0M623.7 195.8h0M607.8 209.4h0M617.7 200.4h0M604.9 207.7h0M612.8 216.1h0M616.7 208.0h0M619.6 212.8h0M599.4 213.6h0M612.8 204.7h0M630.3 188.8h0M612.5 200.7h0M607.0 202.6h0M609.0 209.2h0M611.2 209.1h0M608.0 198.5h0M593.3 224.6h0M618.2 204.1h0M611.4 207.1h0M613.9 203.7h0M598.8 226.8h0M630.0 189.5h0M595.5 218.8h0M618.5 206.4h0M589.1 224.3h0M611.5 209.7h0M638.5 173.7h0M620.5 204.0h0M603.9 203.6h0M628.1 196.3h0M626.6 191.2h0M600.2 218.0h0M630.4 193.3h0M634.9 182.2h0M615.4 205.3h0M610.8 214.7h0M590.2 221.9h0M625.0 198.3h0M622.4 198.7h0M605.4 208.4h0M608.1 209.0h0M620.8 202.8h0M624.8 191.0h0M610.4 217.1h0M605.6 216.3h0M605.7 215.8h0M617.4 203.6h0M608.4 210.4h0M600.1 218.6h0M610.1 207.9h0M613.0 209.3h0M601.9 208.2h0M607.2 204.2h0M609.6 204.6h0M613.7 199.5h0M604.1 213.4h0M625.9 192.6h0M596.7 225.2h0M595.8 221.1h0M602.5 226.0h0M606.2 210.2h0M608.3 211.0h0M611.3 202.9h0M607.8 210.9h0M612.2 202.5h0M604.0 226.8h0M623.5 201.3h0M632.5 195.5h0M608.2 206.1h0M610.7 205.1h0M614.4 199.2h0M606.0 213.0h0M619.6 206.5h0M608.6 220.1h0M610.4 205.5h0M627.1 202.0h0M600.9 218.0h0M615.9 198.3h0M613.5 202.7h0M620.0 202.5h0M630.2 196.8h0M636.4 183.1h0M610.3 210.2h0M605.1 222.8h0M601.2 215.2h0M604.8 209.0h0M596.0 222.7h0M605.6 206.8h0M623.5 193.0h0M602.5 214.1h0M628.9 183.5h0M604.4 212.0h0M609.4 208.5h0M616.1 198.5h0M604.8 215.1h0M624.8 196.5h0M601.5 209.7h0M604.5 203.5h0M612.0 219.5h0M607.4 212.2h0M603.3 207.3h0M615.7 211.8h0M615.0 204.9h0M625.0 194.8h0M610.2 203.7h0M628.4 189.7h0M610.2 208.2h0M603.2 211.7h0M633.9 182.8h0M603.6 209.2h0M625.3 193.3h0M639.9 176.7h0M596.7 222.9h0M613.7 204.5h0M600.9 213.7h0M613.2 200.3h0M601.1 225.7h0M614.9 210.2h0M605.3 205.4h0M620.2 206.1h0M611.6 211.7h0M597.5 209.9h0M615.2 203.6h0M601.1 216.1h0M623.1 194.5h0M618.8 201.5h0M611.6 207.3h0M605.5 216.0h0M608.5 216.1h0M620.5 200.8h0M615.5 200.9h0M622.8 193.2h0M620.0 194.9h0M608.8 207.2h0M622.6 197.7h0M607.1 206.3h0M610.1 210.4h0M607.0 215.0h0M628.3 190.3h0M599.6 218.9h0M604.7 214.9h0M605.4 214.2h0M617.7 207.0h0M622.4 197.8h0M609.6 208.4h0M602.4 211.1h0M603.3 205.1h0M604.3 210.7h0M604.8 212.5h0M594.2 219.4h0M605.4 212.6h0M622.1 194.9h0M601.2 214.3h0M610.0 206.2h0M610.5 209.3h0M613.5 205.1h0M635.7 176.4h0M603.3 211.8h0M608.1 211.7h0M616.1 209.3h0M612.4 213.7h0M608.7 206.8h0M605.4 215.2h0M619.7 199.8h0M619.4 201.5h0M617.0 210.4h0M607.2 219.1h0M603.4 218.1h0M608.0 210.6h0M625.5 198.5h0M593.0 224.3h0M612.3 208.9h0M608.6 213.7h0M612.0 206.9h0M638.8 179.8h0M631.0 190.8h0M614.6 208.2h0M610.8 199.7h0M601.7 208.6h0M616.7 198.4h0M611.4 207.6h0M627.2 190.9h0M616.3 209.7h0M602.1 212.1h0M600.6 218.9h0M641.9 177.6h0M605.9 214.7h0M616.2 207.7h0M625.8 187.1h0M623.5 194.8h0M600.4 207.4h0M605.0 205.6h0M591.1 217.6h0M592.9 214.9h0M620.7 196.3h0M619.4 195.8h0M618.7 197.5h0M588.9 231.7h0M631.2 185.8h0M609.7 200.4h0M614.2 207.9h0M615.8 206.0h0M608.8 202.6h0M601.9 214.7h0M621.4 205.8h0M594.5 218.9h0M619.6 197.4h0M609.0 204.8h0M617.7 199.4h0M636.7 180.2h0M620.0 205.7h0M622.8 207.0h0M625.9 192.8h0M621.3 215.4h0M627.9 205.0h0M614.5 203.8h0M604.1 205.5h0M598.2 215.2h0M610.7 208.7h0M597.2 217.5h0M607.4 218.0h0M609.0 211.6h0M607.4 208.6h0M620.1 209.6h0M608.8 202.1h0M599.2 217.7h0M611.3 209.5h0M623.2 193.3h0M635.1 177.7h0M625.8 198.5h0M602.0 214.7h0M606.7 216.1h0M627.6 185.6h0M608.3 216.1h0M616.1 211.0h0M605.9 211.8h0M603.6 221.8h0M628.7 202.1h0M617.3 202.9h0M602.7 216.4h0M606.3 220.7h0M613.4 201.8h0M613.9 205.9h0M623.0 201.8h0M623.1 197.4h0M601.6 219.0h0M622.6 204.8h0M597.0 220.4h0M599.6 211.2h0M603.0 211.5h0M618.4 202.0h0M595.4 213.7h0M618.6 203.5h0M614.4 206.5h0M598.0 214.8h0M622.8 198.3h0M605.8 212.3h0M616.7 198.7h0M605.1 214.4h0M604.4 214.8h0M603.6 212.1h0M620.0 209.3h0M595.5 223.4h0M631.4 186.2h0M620.9 198.0h0M606.1 211.5h0M601.9 203.3h0M611.7 203.9h0M625.8 196.2h0M601.2 216.3h0M613.0 207.1h0M637.9 179.4h0M606.8 207.3h0M620.5 200.6h0M597.9 215.7h0M620.3 199.1h0M644.0 167.9h0M616.9 201.2h0M603.9 219.0h0M606.2 215.4h0M625.0 187.6h0M620.6 199.6h0M606.8 213.5h0M608.0 218.9h0M642.6 172.7h0M611.7 210.9h0M617.7 201.2h0M596.2 220.7h0M620.4 193.4h0M598.6 225.6h0M621.1 201.9h0M612.3 207.3h0M617.3 210.4h0M592.7 224.2h0M594.4 220.9h0M598.7 215.3h0M617.2 202.3h0M630.3 190.1h0M614.8 200.2h0M610.3 208.2h0M605.1 216.3h0M631.1 189.0h0M632.9 181.3h0M628.4 187.2h0M626.3 194.5h0M614.3 205.1h0M612.3 211.8h0M620.7 203.8h0M609.5 217.3h0M602.4 219.7h0M633.1 184.2h0M623.8 197.4h0M631.2 186.0h0M615.8 199.0h0M615.4 208.7h0M617.6 199.6h0M621.3 192.3h0M596.8 222.2h0M605.5 209.3h0M614.0 204.8h0M606.2 208.5h0M612.1 217.2h0M604.8 210.4h0M600.0 212.8h0M612.1 201.0h0M594.6 218.1h0M621.5 205.9h0M610.2 213.3h0M590.0 220.5h0M614.8 207.8h0M621.5 209.6h0M605.3 210.0h0M622.0 201.3h0M628.3 195.5h0M601.9 214.4h0M623.3 198.8h0M612.6 206.7h0M609.9 208.6h0M605.2 216.6h0M633.8 184.3h0M596.4 222.8h0M609.0 212.3h0M605.2 214.3h0M612.1 204.7h0M619.7 205.3h0M617.2 204.9h0M604.4 206.9h0M600.3 216.1h0M605.5 214.4h0M592.7 217.6h0M629.0 190.5h0M609.6 210.4h0M609.9 207.1h0M621.5 196.9h0M609.5 207.6h0M611.5 203.2h0M609.9 212.7h0M601.6 219.2h0M613.8 204.9h0M624.2 195.0h0M620.4 196.6h0M609.0 207.1h0M607.8 211.9h0M620.0 197.1h0M616.7 205.0h0M611.2 215.5h0M607.0 214.7h0M608.5 215.5h0M618.7 202.8h0M612.9 212.0h0M607.9 207.7h0M595.8 220.8h0M616.2 201.7h0M621.3 201.5h0M608.3 209.6h0M612.0 215.9h0M612.0 212.1h0M606.1 218.0h0M630.3 190.6h0M613.9 207.4h0M623.3 196.6h0M612.3 210.3h0M601.7 216.7h0M640.2 179.6h0M605.0 205.0h0M603.7 221.1h0M632.5 186.9h0M603.2 207.8h0M621.2 207.3h0M607.9 212.1h0M610.1 215.5h0M612.8 207.9h0M630.8 180.2h0M610.9 205.6h0M600.3 213.2h0M619.3 199.0h0M608.8 211.3h0M606.9 222.4h0M610.2 210.2h0M602.6 212.8h0M601.5 218.3h0M608.7 205.3h0M615.4 207.2h0M613.4 202.1h0M611.0 202.9h0M609.4 212.9h0M599.8 218.2h0M629.3 195.2h0M598.0 212.7h0M603.8 205.6h0M597.3 222.1h0M602.0 210.5h0M612.8 212.3h0M609.7 216.8h0M610.1 210.5h0M606.0 211.2h0M627.2 195.7h0M621.1 194.1h0M609.7 209.1h0M611.7 204.3h0M591.3 221.4h0M609.3 216.5h0M609.6 206.6h0M610.0 209.2h0M619.7 195.1h0M627.5 196.3h0M600.1 218.1h0M607.8 214.9h0M606.2 212.7h0M617.3 202.0h0M609.9 205.4h0M604.7 211.8h0M618.5 200.3h0M616.3 204.3h0M608.5 207.3h0M621.6 199.1h0M614.9 202.4h0M642.2 178.7h0M608.7 212.6h0M596.5 223.2h0M596.8 218.8h0M589.7 218.3h0M612.0 224.2h0M617.0 201.2h0M631.2 180.2h0M597.2 224.4h0M609.0 209.7h0M620.5 203.4h0M594.9 230.9h0M612.4 212.0h0M614.1 206.3h0M618.1 207.2h0M605.6 209.3h0M593.0 221.0h0M607.3 206.6h0M605.3 205.7h0M634.7 176.0h0M607.6 208.7h0M597.9 214.1h0M615.4 211.7h0M607.3 207.9h0M602.2 224.2h0M597.4 211.0h0M624.1 201.9h0M616.1 202.3h0M627.0 198.9h0M599.1 216.4h0M620.5 198.7h0M635.4 181.1h0M617.6 206.5h0M586.7 220.3h0M608.1 206.7h0M628.3 187.5h0M601.9 212.1h0M611.0 213.4h0M608.8 212.9h0M614.4 199.7h0M620.0 196.5h0M637.7 183.2h0M607.8 206.6h0M618.1 196.8h0M618.2 196.2h0M602.6 218.6h0M596.3 226.3h0M612.9 209.2h0M610.3 211.3h0M628.4 192.2h0M605.9 208.6h0M603.3 204.3h0M602.1 215.8h0M618.1 202.7h0M586.9 220.8h0M621.1 195.1h0M610.2 204.8h0M605.6 213.4h0M618.9 198.5h0M595.9 222.4h0M625.5 193.6h0M590.6 219.4h0M602.1 217.1h0M619.0 198.0h0M611.8 211.2h0M637.4 176.3h0M602.9 210.2h0M604.6 213.5h0M609.9 210.6h0M586.2 228.6h0M602.7 209.8h0M603.7 217.9h0M590.4 228.0h0M613.2 211.9h0M609.1 215.5h0M616.7 203.6h0M594.5 217.1h0M604.1 216.2h0M630.9 190.3h0M608.4 211.7h0M603.8 209.1h0M602.2 216.1h0M604.2 215.9h0M624.2 192.8h0M636.8 176.0h0M625.7 193.2h0M635.2 182.5h0M604.4 213.4h0M614.5 201.6h0M631.2 183.4h0M603.6 219.6h0M610.7 207.6h0M613.0 203.5h0M589.0 225.2h0M601.3 213.7h0M609.9 205.1h0M609.1 207.0h0M632.8 179.7h0M606.3 214.5h0M613.8 199.2h0M607.5 199.1h0M611.2 204.4h0M617.4 205.8h0M604.5 212.1h0M628.1 184.6h0M618.3 203.7h0M619.6 200.7h0M608.7 212.1h0M609.7 198.2h0M606.4 214.9h0M604.6 204.0h0M592.7 222.1h0M626.4 185.8h0M613.4 216.1h0M613.8 208.5h0M602.3 215.9h0M626.0 196.1h0M606.3 213.8h0M601.0 205.4h0M632.5 186.6h0M617.9 202.5h0M611.8 211.7h0M626.0 187.8h0M626.2 195.9h0M605.5 211.8h0M609.2 210.7h0M624.3 195.0h0M616.9 210.1h0M596.9 220.1h0M604.2 210.9h0M620.5 202.8h0M621.9 198.7h0M614.0 204.7h0M600.6 217.3h0M605.2 210.5h0M610.6 202.2h0M613.1 205.6h0M583.8 225.1h0M601.9 213.8h0M604.4 207.6h0M608.6 212.2h0M595.3 225.0h0M607.3 216.1h0M609.7 209.1h0M609.1 220.0h0M613.8 213.3h0M620.2 198.4h0M640.6 176.7h0M627.6 200.1h0M597.7 217.0h0M606.0 218.1h0M600.3 208.5h0M605.4 213.9h0M609.4 209.1h0M604.1 209.9h0M600.3 215.0h0M608.1 205.8h0M615.7 216.7h0M610.8 212.0h0M593.3 231.2h0M610.0 201.5h0M628.7 195.7h0M617.6 215.3h0M622.2 210.3h0M602.5 221.4h0M604.0 215.2h0M625.1 194.8h0M609.6 207.6h0M614.8 209.3h0M621.3 196.0h0M609.1 213.5h0M595.0 213.5h0M629.5 191.2h0M630.5 197.6h0M612.7 208.0h0M603.6 214.0h0M605.1 209.6h0M613.4 213.1h0M600.9 214.1h0M596.4 226.3h0M629.6 190.1h0M595.6 212.7h0M628.9 185.5h0M605.7 217.2h0M605.4 224.0h0M606.8 217.2h0M600.4 215.3h0M623.4 194.0h0M629.2 187.5h0M622.8 199.6h0M608.3 199.9h0M616.4 207.4h0M602.1 220.9h0M614.1 203.7h0M606.7 209.0h0M602.0 212.4h0M615.3 211.6h0M603.3 212.4h0M632.3 181.2h0M606.4 207.9h0M610.3 206.2h0M587.1 226.5h0M607.3 204.4h0M616.3 207.9h0M599.6 223.8h0M600.2 214.3h0M608.1 207.1h0M625.6 196.2h0M635.2 192.7h0M607.5 210.4h0M597.7 220.5h0M620.1 196.5h0M607.6 213.1h0M597.5 217.8h0M603.9 213.6h0M623.9 201.0h0M604.7 216.8h0M599.7 213.4h0M592.7 224.7h0M594.9 220.5h0M625.1 195.2h0M598.0 220.8h0M603.4 210.6h0M631.9 184.3h0M637.0 189.2h0M610.4 211.1h0M599.3 214.2h0M605.4 212.2h0M614.9 208.6h0M606.5 221.2h0M620.8 193.2h0M620.0 199.1h0M622.9 197.3h0M615.9 204.3h0M603.3 214.6h0M620.0 197.3h0M600.9 207.6h0M623.2 192.3h0M604.8 213.2h0M619.5 201.9h0M616.6 207.7h0M597.5 219.6h0M625.8 197.5h0M609.6 214.2h0M615.7 208.7h0M603.8 214.9h0M630.2 185.3h0M601.2 217.3h0M637.0 176.4h0M608.4 205.1h0M612.4 208.0h0M592.0 221.1h0M636.8 179.6h0M600.7 228.2h0M614.5 210.6h0M603.6 212.4h0M610.4 211.6h0M590.0 220.8h0M612.7 205.5h0M597.1 216.9h0M598.2 222.8h0M615.9 199.6h0M619.3 205.0h0M602.7 207.1h0M629.0 187.1h0M601.4 213.7h0M599.3 215.4h0M639.9 170.8h0M604.4 211.2h0M616.4 205.8h0M616.1 208.6h0M619.1 202.9h0M627.9 187.8h0M609.3 212.8h0M608.9 210.6h0M609.8 203.3h0M596.7 212.3h0M611.6 215.3h0M598.1 209.6h0M597.1 219.6h0M614.5 206.3h0M616.8 202.2h0M625.3 198.3h0M605.6 213.0h0M617.5 197.6h0M600.0 214.9h0M615.5 200.4h0M607.9 208.7h0M609.5 210.9h0M602.1 207.7h0M607.4 209.5h0M604.6 217.5h0M603.4 216.9h0M598.8 220.9h0M609.3 205.4h0M618.1 202.2h0M598.2 222.6h0M615.8 199.9h0M612.7 204.6h0M599.3 226.2h0M621.4 196.4h0M612.9 214.1h0M608.6 210.8h0M614.8 202.1h0M627.1 189.6h0M629.5 186.7h0M612.6 205.5h0M598.8 209.8h0M620.3 199.5h0M607.3 213.4h0M629.0 187.3h0M595.6 218.6h0M610.2 221.9h0M623.9 193.6h0M589.8 223.1h0M606.3 208.5h0M607.2 215.1h0M595.2 220.7h0M606.9 206.1h0M602.4 205.3h0M631.0 185.7h0M611.8 208.8h0M610.3 203.1h0M619.2 207.5h0M634.4 183.3h0M617.3 202.4h0M629.3 195.6h0M616.8 206.4h0M605.9 209.5h0M600.2 221.9h0M619.7 195.6h0M614.0 213.3h0M609.3 208.0h0M610.9 201.6h0M610.7 212.4h0M627.5 191.4h0M608.3 214.2h0M595.2 220.0h0M623.5 195.0h0M620.1 204.6h0M619.4 206.0h0M601.7 213.5h0M596.8 221.9h0M598.5 218.8h0M606.3 208.2h0M613.5 204.4h0M608.7 211.7h0M606.4 207.1h0M615.9 210.3h0M605.7 212.5h0M618.1 204.9h0M614.2 206.3h0M628.0 187.1h0M615.9 200.5h0M602.8 212.4h0M628.7 194.9h0M613.2 205.2h0M610.4 210.2h0M622.6 201.6h0M613.6 198.2h0M628.7 195.6h0M605.1 210.4h0M610.0 208.9h0M622.5 199.3h0M610.9 211.7h0M615.4 205.8h0M606.0 208.9h0M608.3 220.6h0M614.4 211.8h0M630.3 194.0h0M620.8 201.7h0M611.9 205.2h0M602.6 215.8h0M597.4 216.6h0M607.7 210.3h0M647.7 173.0h0M611.7 207.9h0M619.0 195.9h0M623.9 201.9h0M581.1 228.6h0M609.2 207.1h0M613.0 206.7h0M608.3 204.0h0M619.0 202.9h0M600.1 218.7h0M604.4 214.0h0M609.9 218.7h0M609.3 217.4h0M618.7 204.6h0M597.1 218.3h0M607.5 211.1h0M616.8 199.8h0M622.9 190.2h0M611.5 212.5h0M607.8 213.0h0M631.0 185.6h0M594.9 224.6h0M608.8 207.3h0M631.2 191.5h0M633.3 188.5h0M629.4 188.0h0M600.1 222.2h0M601.3 208.4h0M625.5 189.9h0M599.4 217.6h0M625.7 189.2h0M597.9 212.8h0M599.9 215.1h0M598.0 223.9h0M621.4 200.7h0M618.3 202.4h0M632.1 190.7h0M614.7 211.1h0M599.2 215.1h0M611.1 206.8h0M591.5 231.6h0M609.4 209.6h0M612.2 203.5h0M632.2 183.7h0M602.3 218.7h0M600.8 224.6h0M596.9 211.1h0M622.8 200.3h0M639.6 181.4h0M595.1 222.4h0M627.5 188.2h0M609.4 201.7h0M619.0 199.3h0M626.2 195.3h0M603.5 211.7h0M621.8 201.9h0M611.1 203.9h0M634.8 190.2h0M616.4 201.8h0M615.1 207.7h0M613.9 201.4h0M612.9 215.2h0M612.3 208.5h0M612.8 201.9h0M611.1 206.2h0M607.8 219.7h0M617.2 199.8h0M610.4 205.9h0M612.7 201.8h0M611.7 213.9h0M630.8 189.3h0M599.0 215.3h0M628.1 189.7h0M613.1 214.5h0M612.9 203.7h0M586.5 226.7h0M619.1 204.2h0M608.3 211.7h0M614.7 211.3h0M619.1 202.1h0M606.7 213.7h0M598.3 215.3h0M603.7 212.3h0M584.0 224.4h0M583.5 227.8h0M621.1 198.3h0M630.4 189.9h0M602.4 218.5h0M601.3 209.0h0M605.7 220.7h0M597.8 217.0h0M638.0 176.9h0M608.6 218.7h0M593.2 224.2h0M616.5 207.9h0M621.9 193.3h0M606.2 208.7h0M602.2 217.2h0M602.0 209.7h0M609.2 212.8h0M610.5 209.9h0M608.2 208.2h0M629.9 195.1h0M612.8 199.6h0M626.2 194.3h0M601.8 215.7h0M611.4 211.7h0M621.0 206.3h0M607.3 220.5h0M615.6 202.7h0M604.3 216.3h0M582.2 232.6h0M633.7 186.3h0M609.9 210.3h0M618.6 209.4h0M615.4 209.6h0M609.4 211.4h0M628.9 194.9h0M608.5 211.5h0M607.2 207.6h0M590.7 227.2h0M607.9 209.3h0M616.9 205.3h0M613.8 207.5h0M615.2 202.4h0M610.6 208.7h0M607.4 205.7h0M615.7 200.8h0M603.3 215.1h0M602.4 221.8h0M611.6 206.3h0M620.5 198.6h0M623.0 204.2h0M612.8 204.8h0M609.3 208.6h0M606.2 209.9h0M642.6 183.1h0M605.3 224.3h0M634.7 179.1h0M629.9 196.3h0M619.3 199.2h0M610.4 213.3h0M608.8 201.6h0M609.3 216.2h0M619.8 197.1h0M610.3 207.0h0M617.8 200.7h0M606.3 210.2h0M617.6 211.2h0M603.8 216.9h0M603.9 213.0h0M616.9 203.0h0M615.9 199.5h0M614.7 205.5h0M619.0 209.5h0M597.9 220.7h0M598.5 214.7h0M591.9 227.8h0M608.1 202.5h0M612.8 204.0h0M612.8 212.9h0M626.0 201.2h0M597.5 221.6h0M602.2 212.5h0M609.1 213.5h0M610.9 208.8h0M613.6 203.8h0M607.2 201.7h0M604.5 204.6h0M610.0 217.1h0M629.3 189.9h0M623.9 206.5h0M610.2 213.6h0M605.9 211.6h0M603.0 217.4h0M602.1 215.2h0M618.8 198.6h0M635.1 182.5h0M626.4 191.6h0M614.9 202.4h0M604.0 219.9h0M604.8 215.7h0M604.6 212.1h0M599.1 219.3h0M588.9 228.4h0M612.7 200.2h0M624.8 201.2h0M600.0 210.4h0M598.8 212.3h0M616.2 201.1h0M615.6 209.4h0M602.5 229.6h0M607.2 206.2h0M627.4 200.3h0M615.7 213.2h0M610.9 210.4h0M636.9 186.8h0M614.3 204.2h0M603.9 208.0h0M604.0 211.4h0M608.9 212.7h0M615.7 202.4h0M615.0 201.7h0M618.4 203.1h0M598.6 213.8h0M616.6 206.9h0M604.2 207.7h0M599.9 224.9h0M599.0 213.6h0M614.4 205.3h0M625.7 201.3h0M635.3 181.2h0M612.8 210.2h0M619.5 206.2h0M628.9 203.7h0M624.6 191.3h0M613.6 210.2h0M603.8 211.6h0M602.4 213.5h0M603.1 214.7h0M608.7 216.6h0M619.5 202.7h0M602.1 210.4h0M617.3 208.7h0M603.1 211.2h0M607.5 214.1h0M619.1 197.5h0M613.7 201.8h0M623.0 190.1h0M605.0 212.4h0M606.8 223.9h0M603.7 214.9h0M601.8 216.6h0M608.7 220.3h0M595.9 224.4h0M604.9 218.4h0M615.8 204.5h0M617.6 198.8h0M607.5 204.1h0M633.0 194.7h0M630.3 192.3h0M608.3 220.5h0M634.7 181.2h0M608.1 208.5h0M608.9 219.1h0M605.3 212.3h0M613.1 199.8h0M597.1 221.7h0M590.2 227.9h0M608.9 211.1h0M604.1 214.6h0M628.0 192.0h0M599.0 217.1h0M612.1 203.0h0M611.7 205.1h0M610.6 206.4h0M601.7 216.3h0M597.3 219.7h0M596.0 214.7h0M618.2 201.3h0M596.7 211.0h0M633.2 181.7h0M612.4 213.3h0M614.4 201.8h0M631.5 194.5h0M633.4 186.3h0M605.2 207.2h0M616.4 211.9h0M599.8 225.6h0M631.4 198.0h0M609.0 204.2h0M614.0 199.1h0M624.2 195.3h0M616.9 204.0h0M613.4 205.2h0M627.0 198.1h0M618.3 202.4h0M594.3 217.9h0M606.1 209.8h0M607.5 209.3h0M615.1 200.5h0M614.9 203.0h0M608.4 216.2h0M610.5 204.2h0M619.4 197.0h0M635.3 183.3h0M631.0 188.5h0M603.7 224.0h0M608.4 201.4h0M607.1 214.9h0M594.8 220.4h0M594.6 219.6h0M607.4 210.0h0M608.9 211.1h0M624.4 200.0h0M619.1 204.4h0M628.4 185.4h0M608.7 216.3h0M610.2 213.9h0M617.0 202.1h0M600.7 215.7h0M607.1 208.1h0M619.0 197.7h0M608.5 203.3h0M624.7 188.0h0M623.6 199.1h0M605.7 215.2h0M605.3 209.0h0M609.9 208.5h0M611.1 210.0h0M612.3 216.8h0M604.9 207.9h0M618.3 201.4h0M601.6 217.8h0M614.3 207.7h0M600.4 215.3h0M600.8 207.4h0M615.1 199.3h0M600.1 214.7h0M597.1 220.4h0M597.6 223.9h0M592.9 214.6h0M623.5 204.3h0M607.7 201.4h0M612.1 214.7h0M594.0 230.8h0M608.3 208.8h0M633.7 186.4h0M605.2 224.1h0M635.2 188.1h0M611.5 214.8h0M626.7 187.5h0M605.0 219.6h0M612.6 207.3h0M619.9 203.0h0M602.9 228.9h0M632.5 192.0h0M615.9 199.7h0M607.7 212.4h0M602.6 211.1h0M586.8 222.7h0M622.1 199.7h0M622.2 198.0h0M605.1 218.1h0M617.8 200.5h0M617.3 202.5h0M619.6 200.2h0M607.9 211.4h0M616.0 205.5h0M611.4 218.0h0M629.1 198.6h0M608.0 210.6h0M606.2 219.7h0M625.4 192.2h0M624.2 194.7h0M616.1 217.2h0M609.9 206.4h0M617.6 200.4h0M619.7 204.4h0M627.8 192.3h0M617.2 202.6h0M622.1 197.0h0M603.5 205.3h0M597.5 207.5h0M603.3 216.4h0M624.0 202.4h0M610.0 215.1h0M643.8 171.9h0M608.6 209.2h0M628.5 196.0h0M607.0 212.5h0M604.9 202.7h0M607.4 211.8h0M603.9 206.8h0M594.5 222.3h0M610.4 216.3h0M616.6 212.9h0M632.8 197.7h0M626.4 188.7h0M620.7 196.6h0M603.9 207.3h0M618.3 198.6h0M606.4 211.5h0M625.6 188.3h0M610.9 200.4h0M607.2 202.5h0M628.3 187.7h0M601.4 214.3h0M633.2 184.6h0M629.9 189.2h0M622.0 192.0h0M590.0 217.4h0M591.7 217.7h0M614.9 217.0h0M618.8 200.7h0M604.4 223.0h0M589.0 217.4h0M602.2 209.9h0M627.1 191.5h0M598.7 226.3h0M622.9 190.4h0M621.1 194.6h0M629.9 190.7h0M604.5 208.9h0M603.2 214.5h0M608.2 209.4h0M622.4 205.3h0M607.7 207.0h0M623.1 196.5h0M617.0 204.6h0M607.6 212.6h0M616.9 207.3h0M610.0 207.0h0M606.8 216.3h0M610.8 203.4h0M613.6 215.0h0M604.1 217.4h0M610.7 215.3h0M605.9 203.8h0M600.2 222.8h0M603.4 210.0h0M601.8 212.2h0M605.3 211.4h0M614.4 208.7h0M604.1 212.7h0M617.8 201.9h0M612.9 214.5h0M621.3 194.1h0M635.0 175.3h0M608.2 206.5h0M607.6 211.7h0M610.0 214.1h0M623.5 192.2h0M609.3 208.0h0M629.7 181.5h0M624.5 191.4h0M611.5 206.6h0M608.8 219.6h0M632.5 184.8h0M595.8 211.0h0M624.3 203.0h0M594.9 218.5h0M600.2 218.9h0M623.7 195.5h0M620.8 201.2h0M605.7 207.9h0M624.4 196.1h0M614.2 209.7h0M603.4 214.2h0M609.2 208.7h0M607.6 210.1h0M609.9 198.8h0M608.7 209.3h0M597.0 223.7h0M596.1 211.2h0M618.3 204.1h0M617.7 208.8h0M619.9 205.8h0M609.1 209.1h0M594.2 219.6h0M609.0 209.0h0M628.0 190.6h0M604.2 209.2h0M608.0 208.1h0M604.9 209.4h0M610.3 205.0h0M607.5 212.6h0M602.6 224.6h0M628.1 188.2h0M647.5 167.8h0M620.2 209.4h0M614.2 199.7h0M622.2 193.8h0M605.5 211.1h0M615.1 209.8h0M613.0 205.3h0M607.0 212.8h0M602.5 212.3h0M627.5 199.8h0M618.8 206.1h0M598.0 215.5h0M611.8 203.0h0M605.4 210.6h0M629.3 190.7h0M587.5 223.2h0M614.9 199.9h0M623.1 202.4h0M619.4 202.2h0M614.6 205.8h0M602.4 208.9h0M616.6 202.1h0M620.6 199.3h0M606.4 213.9h0M611.0 207.4h0"/>
<path stroke="#b9232a" stroke-width="2.2" d="M618.1 193.1h0M627.5 172.9h0M623.1 182.1h0M623.6 188.3h0M628.1 177.3h0M616.6 185.9h0M625.2 175.6h0M621.0 190.1h0M619.4 191.6h0M616.2 192.5h0M618.8 193.0h0M623.6 177.9h0M625.2 182.6h0M614.7 190.9h0M617.3 183.4h0M622.0 186.1h0M626.1 172.9h0M615.7 191.0h0M621.9 187.9h0M617.5 190.8h0M616.0 190.8h0M629.9 180.5h0M625.8 180.3h0M627.2 174.8h0M623.6 174.3h0M629.9 180.9h0M616.5 195.4h0M626.9 179.1h0M616.9 194.5h0M614.0 191.1h0M621.1 190.7h0M609.9 196.8h0M624.4 179.2h0M618.4 181.3h0M618.9 188.0h0M623.7 174.0h0M629.9 181.9h0M620.2 184.6h0M620.4 189.9h0M618.7 190.2h0M617.7 193.3h0M616.1 193.8h0M627.0 185.1h0M622.3 180.5h0M612.4 192.5h0M623.8 183.1h0M614.5 190.7h0M620.9 192.0h0M619.0 194.0h0M629.5 178.6h0M613.7 190.1h0M622.6 186.1h0M624.5 185.0h0M620.0 187.6h0M629.8 176.1h0M620.0 178.6h0M625.6 181.0h0M628.4 176.4h0M613.8 196.0h0M618.8 184.8h0M623.1 188.5h0M616.5 186.1h0M612.8 194.3h0M629.6 178.8h0M626.7 171.1h0M630.1 181.7h0M611.3 196.8h0M622.7 183.9h0M625.2 178.0h0M623.8 188.7h0M627.2 171.9h0M612.5 191.1h0M620.5 186.1h0M630.5 180.9h0M611.3 195.5h0M617.5 194.9h0M628.3 181.9h0M629.5 178.6h0M624.1 179.7h0M614.8 192.1h0M618.0 189.0h0M617.6 194.7h0M616.6 195.8h0M627.8 171.5h0M628.3 183.3h0M620.7 182.7h0M611.9 194.4h0M624.8 184.4h0M628.1 170.7h0M614.4 190.8h0M620.3 186.4h0M620.8 177.5h0M616.8 183.8h0M624.6 184.1h0M616.2 192.5h0M624.6 176.3h0M628.4 176.3h0M622.4 180.3h0M612.9 191.0h0M617.5 188.7h0M619.3 189.4h0M615.6 189.3h0M627.6 170.4h0M620.0 179.6h0M619.3 193.6h0M622.5 185.9h0M613.1 193.4h0M626.0 172.1h0M618.2 192.9h0M609.8 196.4h0M621.1 187.0h0M628.7 174.9h0M613.2 191.9h0M630.0 175.7h0M619.0 184.4h0M621.3 181.2h0M622.9 174.7h0M618.0 189.6h0M628.4 171.6h0M614.0 194.9h0M615.7 195.4h0M615.6 193.5h0M614.6 191.0h0M625.6 179.5h0M615.2 196.0h0M612.1 192.9h0M619.8 188.7h0M625.5 173.7h0M629.7 175.5h0M627.1 181.0h0M617.3 193.6h0M620.0 179.8h0M628.2 179.2h0M613.4 190.9h0M622.9 176.1h0M624.6 172.9h0M622.3 184.9h0M620.7 185.7h0M610.1 195.9h0M626.0 180.9h0M619.7 192.4h0M617.2 183.1h0M621.0 179.7h0M626.0 171.4h0M624.0 175.8h0M620.6 187.1h0M621.4 181.3h0M621.8 177.6h0M615.4 187.1h0M613.1 196.5h0M617.2 196.0h0M615.4 190.0h0M625.1 184.2h0M630.8 177.1h0M627.4 181.9h0M620.3 185.6h0M621.8 189.9h0M619.7 183.9h0M618.7 183.8h0M624.3 174.9h0M630.4 178.8h0M628.9 178.2h0M616.3 193.6h0M619.2 193.8h0M620.4 184.7h0M619.0 181.5h0M619.3 191.2h0M623.9 184.9h0M614.6 191.2h0M613.2 192.3h0M618.9 189.7h0M618.5 184.3h0M630.6 173.1h0M623.0 189.2h0M622.3 178.0h0M627.3 182.4h0M618.9 183.2h0M623.4 177.1h0M618.3 181.3h0M616.9 195.7h0M616.2 190.8h0M622.0 180.2h0M618.6 191.5h0M628.3 172.7h0M621.5 183.1h0M619.6 182.4h0M618.3 192.3h0M621.9 178.6h0M619.2 193.2h0M624.6 185.5h0M627.2 180.8h0M615.4 193.7h0M624.5 182.9h0M618.1 189.7h0M617.1 194.3h0M620.2 188.2h0M624.9 173.4h0M617.1 188.1h0M613.7 189.9h0M620.3 186.3h0M627.3 184.9h0M610.8 196.5h0M616.2 187.3h0M622.3 181.5h0M626.7 173.2h0M629.7 171.9h0M620.7 191.1h0M614.2 193.4h0M624.8 185.6h0M630.7 173.5h0M625.8 181.1h0M623.5 187.4h0M610.7 195.5h0M614.1 192.7h0M620.3 187.4h0M627.0 185.1h0M623.3 181.4h0M619.3 187.6h0M616.7 191.1h0M609.9 196.7h0M626.4 174.8h0M625.5 175.6h0M620.5 188.7h0M627.6 173.9h0M621.5 178.8h0M618.3 183.2h0M628.9 180.2h0M623.1 184.0h0M629.0 182.6h0M621.7 179.3h0M628.3 173.5h0M619.0 192.2h0M625.5 186.5h0M615.0 188.1h0M619.1 188.9h0M626.7 173.4h0M626.0 184.3h0M622.0 180.8h0M623.4 174.7h0M616.0 186.5h0M630.4 177.3h0M628.0 178.2h0M618.1 188.3h0M626.0 178.4h0M626.5 178.0h0M629.8 173.2h0M612.2 195.6h0M616.3 184.8h0"/>
</g>
<path d="M575.0 198.3H616.2L630.7 180.0V162.5" fill="none" stroke="#000" stroke-width="1.8"/>
<rect x="575.0" y="160.0" width="76.2" height="77.1" fill="none" stroke="#222" stroke-width="1.8"/>
<!-- axes -->
<rect x="69.5" y="8.4" width="255.5" height="258.5" fill="none" stroke="#222" stroke-width="1.8"/>
<rect x="401.2" y="8.2" width="255.0" height="258.4" fill="none" stroke="#222" stroke-width="1.8"/>
<path d="M69.5 244.0h4.5M69.5 228.6h4.5M69.5 217.6h4.5M69.5 209.1h4.5M69.5 202.2h4.5M69.5 196.4h4.5M69.5 191.3h4.5M69.5 186.8h4.5M69.5 156.5h4.5M69.5 141.1h4.5M69.5 130.1h4.5M69.5 121.6h4.5M69.5 114.7h4.5M69.5 108.9h4.5M69.5 103.8h4.5M69.5 99.3h4.5M69.5 69.0h4.5M69.5 53.6h4.5M69.5 42.6h4.5M69.5 34.1h4.5M69.5 27.2h4.5M69.5 21.4h4.5M69.5 16.3h4.5M69.5 11.8h4.5M69.5 182.8h7M69.5 95.3h7M160.8 266.9v-7M252.0 266.9v-7M401.2 213.8h7M401.2 161.0h7M401.2 108.2h7M401.2 55.4h7M492.2 266.6v-7M583.2 266.6v-7M575.0 207.0h7M575.0 177.5h7M600.2 237.1v-7M640.8 237.1v-7" fill="none" stroke="#222" stroke-width="1.6"/>
<!-- legend -->
<text x="222.6" y="26.3" style="font-size:16.2px;fill:#0f54a3;stroke:#0f54a3;stroke-width:0.25px">star-forming</text>
<text x="222.9" y="42.1" style="font-size:16.2px;fill:#b9232a;stroke:#b9232a;stroke-width:0.25px">quiescent</text>
<!-- left tick labels -->
<path d="M42.12 105.30V92.19L37.62 96.69" fill="none" stroke="#262626" stroke-width="1.90" stroke-linejoin="bevel"/><text x="46.26" y="105.30" style="font-size:19px">0</text><path d="M61.52 92.00V83.38L58.56 86.34" fill="none" stroke="#262626" stroke-width="1.25" stroke-linejoin="bevel"/>
<path d="M42.12 192.70V179.59L37.62 184.09" fill="none" stroke="#262626" stroke-width="1.90" stroke-linejoin="bevel"/><text x="46.26" y="192.70" style="font-size:19px">0</text><text x="57.30" y="179.60" style="font-size:13px">0</text>
<text x="64.22" y="285.20" style="font-size:19px">9</text>
<path d="M156.61 285.20V272.09L152.11 276.59" fill="none" stroke="#262626" stroke-width="1.90" stroke-linejoin="bevel"/><text x="160.75" y="285.20" style="font-size:19px">0</text>
<path d="M247.86 285.20V272.09L243.36 276.59" fill="none" stroke="#262626" stroke-width="1.90" stroke-linejoin="bevel"/><path d="M258.42 285.20V272.09L253.92 276.59" fill="none" stroke="#262626" stroke-width="1.90" stroke-linejoin="bevel"/>
<!-- right tick labels -->
<text x="386.44" y="273.50" style="font-size:19px">6</text>
<text x="386.44" y="220.70" style="font-size:19px">7</text>
<text x="386.44" y="167.90" style="font-size:19px">8</text>
<text x="386.44" y="115.10" style="font-size:19px">9</text>
<path d="M382.29 62.70V49.59L377.79 54.09" fill="none" stroke="#262626" stroke-width="1.90" stroke-linejoin="bevel"/><text x="386.44" y="62.70" style="font-size:19px">0</text>
<text x="395.92" y="285.20" style="font-size:19px">9</text>
<path d="M488.06 285.20V272.09L483.55 276.59" fill="none" stroke="#262626" stroke-width="1.90" stroke-linejoin="bevel"/><text x="492.20" y="285.20" style="font-size:19px">0</text>
<path d="M579.06 285.20V272.09L574.56 276.59" fill="none" stroke="#262626" stroke-width="1.90" stroke-linejoin="bevel"/><path d="M589.62 285.20V272.09L585.12 276.59" fill="none" stroke="#262626" stroke-width="1.90" stroke-linejoin="bevel"/>
<!-- inset labels -->
<text x="564.61" y="182.00" style="font-size:11.5px">2</text>
<path d="M568.49 211.50V203.56L565.77 206.29" fill="none" stroke="#262626" stroke-width="1.15" stroke-linejoin="bevel"/>
<text x="597.00" y="249.60" style="font-size:11.5px">0</text>
<text x="637.60" y="249.60" style="font-size:11.5px">2</text>
<text x="612.8" y="262" text-anchor="middle" style="font-size:14.2px">V - J</text>
<text x="0" y="0" transform="translate(558.2,198.2) rotate(-90)" text-anchor="middle" style="font-size:14px">U - V</text>
<!-- x labels -->
<text x="146.5" y="309.4" style="font-size:21.5px;letter-spacing:0.8px">log M/M</text>
<circle cx="237.8" cy="308.2" r="4.6" fill="none" stroke="#262626" stroke-width="1.3"/><circle cx="237.8" cy="308.2" r="1.1" fill="#262626"/>
<text x="478.2" y="309.4" style="font-size:21.5px;letter-spacing:0.8px">log M/M</text>
<circle cx="569.5" cy="308.2" r="4.6" fill="none" stroke="#262626" stroke-width="1.3"/><circle cx="569.5" cy="308.2" r="1.1" fill="#262626"/>
<!-- y labels -->
<g transform="translate(24.5,196) rotate(-90)">
<text x="0.5" y="-1.3" style="font-size:20.5px;font-style:italic">r</text>
<text x="9.5" y="3.8" style="font-size:16px;letter-spacing:-0.2px">e, mass</text>
<text x="70.5" y="-0.8" style="font-size:20.5px">(kpc)</text>
</g>
<g transform="translate(365.3,226.5) rotate(-90)">
<text x="-2" y="0" style="font-size:22px;letter-spacing:0.4px">log</text>
<text x="37.5" y="0" style="font-size:21.5px">Σ</text>
<text x="51.5" y="3.5" style="font-size:15px">1</text>
<text x="67" y="0" style="font-size:21px">(</text>
<text x="76" y="0" style="font-size:21px;font-style:italic">M</text>
<text x="112" y="0" style="font-size:21px">kpc</text>
<rect x="145" y="-13.5" width="12.5" height="1.5" fill="#262626"/>
<text x="161.5" y="-9.5" style="font-size:13px">2</text>
<text x="172" y="0" style="font-size:21px">)</text>
</g>
<circle cx="363.8" cy="124.3" r="3.8" fill="none" stroke="#262626" stroke-width="1.2"/><circle cx="363.8" cy="124.3" r="0.9" fill="#262626"/>
</svg>
</body></html>
